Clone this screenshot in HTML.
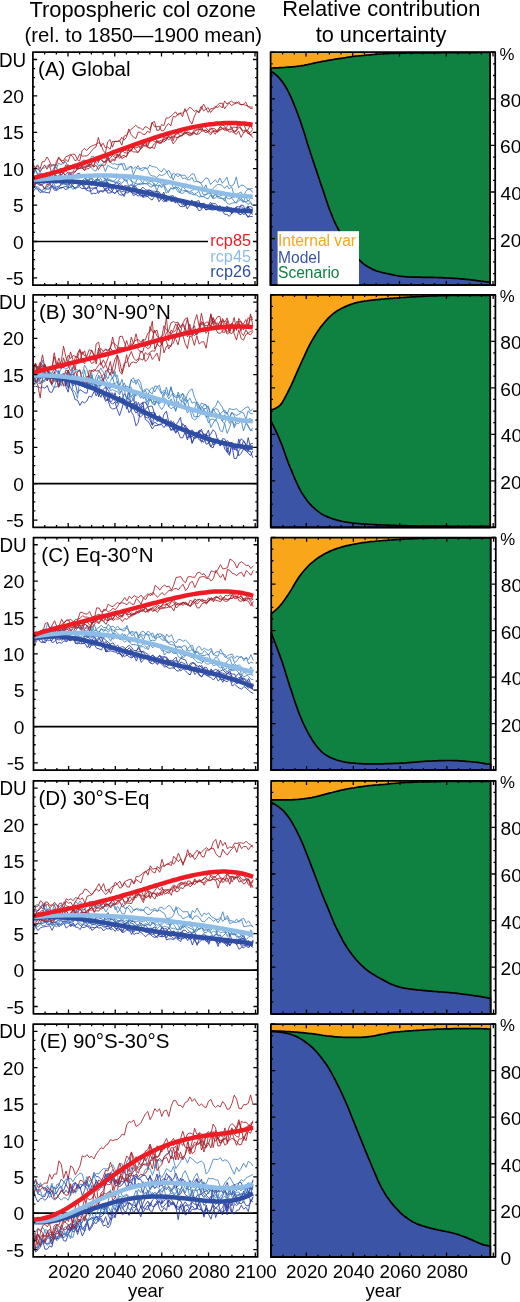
<!DOCTYPE html>
<html lang="en"><head><meta charset="utf-8"><title>Tropospheric column ozone projections</title>
<style>html,body{margin:0;padding:0;background:#fff}svg{display:block}</style></head>
<body>
<svg width="520" height="1302" viewBox="0 0 520 1302" font-family='"Liberation Sans", Arial, Helvetica, sans-serif'>
<rect width="520" height="1302" fill="#fff"/>
<text x="29.46" y="17.3" font-size="21.5" textLength="226.58" lengthAdjust="spacingAndGlyphs" fill="#000">Tropospheric col ozone</text>
<text x="24.58" y="41.9" font-size="20.6" textLength="237.42" lengthAdjust="spacingAndGlyphs" fill="#000">(rel. to 1850—1900 mean)</text>
<text x="282.15" y="15.6" font-size="21.5" textLength="198.19" lengthAdjust="spacingAndGlyphs" fill="#000">Relative contribution</text>
<text x="315.67" y="41.5" font-size="21.5" textLength="130.70" lengthAdjust="spacingAndGlyphs" fill="#000">to uncertainty</text>
<g transform="translate(0,0)">
<line x1="32.9" y1="241.5" x2="208" y2="241.5" stroke="#000" stroke-width="1.7"/>
<path d="M32.9,175.9 L35.3,170.1 L37.6,174.1 L40.0,174.0 L42.3,173.7 L44.6,175.1 L47.0,177.0 L49.3,173.3 L51.6,173.0 L54.0,178.1 L56.3,170.4 L58.6,171.2 L61.0,175.4 L63.3,173.2 L65.7,175.8 L68.0,175.8 L70.3,174.2 L72.7,178.4 L75.0,175.9 L77.3,173.6 L79.7,173.3 L82.0,177.0 L84.4,175.8 L86.7,181.2 L89.0,179.9 L91.4,178.4 L93.7,182.2 L96.0,180.9 L98.4,176.9 L100.7,174.0 L103.1,177.5 L105.4,178.7 L107.7,183.4 L110.1,185.6 L112.4,187.1 L114.8,183.6 L117.1,182.5 L119.4,185.6 L121.8,188.1 L124.1,186.0 L126.4,185.6 L128.8,186.8 L131.1,184.5 L133.4,187.1 L135.8,188.2 L138.1,191.2 L140.5,189.8 L142.8,187.1 L145.1,189.4 L147.5,190.5 L149.8,190.4 L152.1,191.1 L154.5,191.2 L156.8,191.6 L159.2,191.9 L161.5,195.5 L163.8,194.6 L166.2,198.9 L168.5,196.5 L170.8,199.5 L173.2,198.2 L175.5,197.0 L177.9,199.0 L180.2,198.9 L182.5,203.0 L184.9,202.9 L187.2,199.9 L189.6,203.4 L191.9,200.9 L194.2,204.9 L196.6,205.4 L198.9,206.4 L201.2,204.6 L203.6,203.2 L205.9,206.6 L208.2,206.0 L210.6,202.2 L212.9,205.6 L215.3,207.9 L217.6,206.3 L219.9,207.4 L222.3,209.0 L224.6,212.1 L226.9,207.5 L229.3,209.4 L231.6,208.8 L234.0,211.2 L236.3,206.8 L238.6,206.8 L241.0,206.4 L243.3,208.8 L245.7,208.2 L248.0,207.2 L250.3,206.6 L252.7,207.9" fill="none" stroke="#2438A4" stroke-width="0.85" stroke-linejoin="round"/>
<path d="M32.9,178.0 L35.3,178.6 L37.6,179.7 L40.0,180.4 L42.3,177.8 L44.6,178.3 L47.0,182.3 L49.3,179.5 L51.6,176.0 L54.0,177.9 L56.3,182.0 L58.6,179.5 L61.0,176.9 L63.3,177.4 L65.7,179.1 L68.0,174.7 L70.3,173.4 L72.7,177.5 L75.0,176.9 L77.3,177.8 L79.7,177.4 L82.0,175.9 L84.4,177.1 L86.7,179.2 L89.0,181.7 L91.4,183.0 L93.7,181.9 L96.0,179.2 L98.4,180.5 L100.7,181.7 L103.1,181.9 L105.4,182.7 L107.7,182.1 L110.1,185.9 L112.4,189.1 L114.8,187.1 L117.1,188.3 L119.4,183.0 L121.8,185.6 L124.1,186.9 L126.4,190.5 L128.8,187.9 L131.1,189.5 L133.4,186.5 L135.8,186.6 L138.1,190.5 L140.5,189.5 L142.8,196.4 L145.1,194.4 L147.5,190.0 L149.8,190.0 L152.1,191.8 L154.5,193.2 L156.8,197.0 L159.2,198.4 L161.5,195.8 L163.8,192.1 L166.2,200.0 L168.5,196.6 L170.8,196.1 L173.2,195.6 L175.5,199.8 L177.9,200.7 L180.2,200.1 L182.5,202.7 L184.9,204.3 L187.2,204.4 L189.6,203.1 L191.9,202.0 L194.2,203.0 L196.6,203.4 L198.9,205.6 L201.2,206.6 L203.6,203.3 L205.9,205.2 L208.2,206.1 L210.6,204.5 L212.9,203.6 L215.3,203.6 L217.6,205.8 L219.9,207.7 L222.3,207.7 L224.6,208.2 L226.9,206.0 L229.3,207.9 L231.6,207.9 L234.0,209.5 L236.3,207.1 L238.6,214.0 L241.0,210.8 L243.3,209.2 L245.7,212.9 L248.0,206.8 L250.3,210.1 L252.7,211.0" fill="none" stroke="#2438A4" stroke-width="0.85" stroke-linejoin="round"/>
<path d="M32.9,187.5 L35.3,183.1 L37.6,183.8 L40.0,185.7 L42.3,184.5 L44.6,183.0 L47.0,181.4 L49.3,183.0 L51.6,186.1 L54.0,186.1 L56.3,189.9 L58.6,187.6 L61.0,183.7 L63.3,183.2 L65.7,184.3 L68.0,185.2 L70.3,181.3 L72.7,183.1 L75.0,182.3 L77.3,183.3 L79.7,186.0 L82.0,182.1 L84.4,187.2 L86.7,188.7 L89.0,187.7 L91.4,188.2 L93.7,188.1 L96.0,188.4 L98.4,185.2 L100.7,186.5 L103.1,186.4 L105.4,190.9 L107.7,190.8 L110.1,186.8 L112.4,190.9 L114.8,187.1 L117.1,191.1 L119.4,189.7 L121.8,192.0 L124.1,190.7 L126.4,193.0 L128.8,192.6 L131.1,188.6 L133.4,192.2 L135.8,188.3 L138.1,192.9 L140.5,196.2 L142.8,194.8 L145.1,195.8 L147.5,191.7 L149.8,192.8 L152.1,192.8 L154.5,194.4 L156.8,191.2 L159.2,194.2 L161.5,196.1 L163.8,200.0 L166.2,201.7 L168.5,200.2 L170.8,198.3 L173.2,197.9 L175.5,202.6 L177.9,201.2 L180.2,201.9 L182.5,205.3 L184.9,203.1 L187.2,208.9 L189.6,205.4 L191.9,199.9 L194.2,206.2 L196.6,206.2 L198.9,210.7 L201.2,209.9 L203.6,206.6 L205.9,209.9 L208.2,208.9 L210.6,209.6 L212.9,210.2 L215.3,209.4 L217.6,208.7 L219.9,207.1 L222.3,207.7 L224.6,211.2 L226.9,208.1 L229.3,207.7 L231.6,213.9 L234.0,211.0 L236.3,209.9 L238.6,209.4 L241.0,210.2 L243.3,214.5 L245.7,213.6 L248.0,217.3 L250.3,214.3 L252.7,208.5" fill="none" stroke="#2438A4" stroke-width="0.85" stroke-linejoin="round"/>
<path d="M32.9,186.6 L35.3,186.1 L37.6,188.3 L40.0,190.0 L42.3,190.5 L44.6,187.9 L47.0,189.1 L49.3,189.0 L51.6,185.1 L54.0,189.9 L56.3,190.6 L58.6,189.1 L61.0,187.7 L63.3,187.4 L65.7,190.0 L68.0,187.4 L70.3,187.3 L72.7,186.3 L75.0,189.2 L77.3,187.3 L79.7,186.8 L82.0,188.7 L84.4,188.4 L86.7,189.2 L89.0,185.3 L91.4,194.1 L93.7,193.2 L96.0,193.7 L98.4,191.1 L100.7,191.2 L103.1,190.8 L105.4,188.4 L107.7,193.1 L110.1,192.9 L112.4,191.8 L114.8,193.8 L117.1,191.2 L119.4,190.8 L121.8,193.2 L124.1,196.5 L126.4,190.4 L128.8,191.4 L131.1,192.0 L133.4,193.3 L135.8,194.2 L138.1,192.9 L140.5,194.7 L142.8,196.9 L145.1,195.0 L147.5,196.2 L149.8,198.7 L152.1,200.1 L154.5,196.3 L156.8,196.7 L159.2,194.2 L161.5,199.3 L163.8,201.7 L166.2,200.2 L168.5,198.0 L170.8,199.4 L173.2,200.5 L175.5,198.1 L177.9,203.4 L180.2,206.5 L182.5,206.6 L184.9,206.1 L187.2,204.8 L189.6,203.3 L191.9,204.5 L194.2,202.8 L196.6,207.7 L198.9,203.5 L201.2,208.5 L203.6,206.0 L205.9,210.1 L208.2,208.9 L210.6,209.4 L212.9,208.8 L215.3,208.3 L217.6,210.5 L219.9,211.1 L222.3,210.8 L224.6,214.3 L226.9,214.3 L229.3,216.4 L231.6,213.6 L234.0,208.1 L236.3,209.8 L238.6,213.9 L241.0,214.8 L243.3,211.5 L245.7,213.7 L248.0,216.9 L250.3,216.5 L252.7,216.4" fill="none" stroke="#2438A4" stroke-width="0.85" stroke-linejoin="round"/>
<path d="M32.9,192.5 L35.3,188.5 L37.6,189.2 L40.0,192.6 L42.3,191.4 L44.6,192.2 L47.0,192.5 L49.3,193.1 L51.6,186.1 L54.0,188.4 L56.3,187.1 L58.6,186.0 L61.0,188.3 L63.3,187.0 L65.7,186.5 L68.0,187.1 L70.3,183.0 L72.7,185.9 L75.0,187.9 L77.3,186.6 L79.7,183.8 L82.0,184.7 L84.4,188.3 L86.7,190.2 L89.0,191.1 L91.4,190.8 L93.7,188.6 L96.0,187.0 L98.4,193.5 L100.7,190.6 L103.1,192.3 L105.4,189.1 L107.7,187.8 L110.1,191.2 L112.4,191.8 L114.8,193.2 L117.1,190.9 L119.4,194.8 L121.8,195.1 L124.1,194.5 L126.4,190.4 L128.8,186.8 L131.1,191.2 L133.4,195.6 L135.8,194.3 L138.1,196.2 L140.5,194.2 L142.8,197.3 L145.1,196.9 L147.5,196.3 L149.8,195.3 L152.1,196.6 L154.5,194.3 L156.8,196.5 L159.2,201.7 L161.5,197.5 L163.8,199.3 L166.2,201.0 L168.5,197.0 L170.8,201.6 L173.2,201.0 L175.5,202.8 L177.9,199.2 L180.2,202.2 L182.5,202.1 L184.9,205.9 L187.2,201.2 L189.6,205.6 L191.9,202.8 L194.2,201.9 L196.6,201.6 L198.9,200.5 L201.2,207.0 L203.6,205.8 L205.9,206.3 L208.2,206.0 L210.6,204.7 L212.9,206.7 L215.3,209.6 L217.6,209.0 L219.9,205.5 L222.3,210.6 L224.6,209.5 L226.9,211.6 L229.3,207.9 L231.6,212.9 L234.0,211.6 L236.3,210.9 L238.6,210.2 L241.0,205.1 L243.3,205.4 L245.7,211.1 L248.0,205.9 L250.3,211.6 L252.7,214.7" fill="none" stroke="#2438A4" stroke-width="0.85" stroke-linejoin="round"/>
<path d="M32.9,171.9 L35.3,167.4 L37.6,166.3 L40.0,172.8 L42.3,167.9 L44.6,168.1 L47.0,165.6 L49.3,167.5 L51.6,164.6 L54.0,164.5 L56.3,168.8 L58.6,163.2 L61.0,164.6 L63.3,163.5 L65.7,161.7 L68.0,166.8 L70.3,165.9 L72.7,167.4 L75.0,168.0 L77.3,165.0 L79.7,163.9 L82.0,160.9 L84.4,159.8 L86.7,162.9 L89.0,165.9 L91.4,156.4 L93.7,156.2 L96.0,161.9 L98.4,165.7 L100.7,165.5 L103.1,163.6 L105.4,160.9 L107.7,160.5 L110.1,161.8 L112.4,164.0 L114.8,163.6 L117.1,164.8 L119.4,164.3 L121.8,164.6 L124.1,163.3 L126.4,169.1 L128.8,167.1 L131.1,166.5 L133.4,168.6 L135.8,166.9 L138.1,168.9 L140.5,168.7 L142.8,167.8 L145.1,167.7 L147.5,168.7 L149.8,165.0 L152.1,166.5 L154.5,166.9 L156.8,167.5 L159.2,170.3 L161.5,172.0 L163.8,168.4 L166.2,170.7 L168.5,175.3 L170.8,178.2 L173.2,173.2 L175.5,174.5 L177.9,173.6 L180.2,174.9 L182.5,175.3 L184.9,175.2 L187.2,178.3 L189.6,176.5 L191.9,173.8 L194.2,174.1 L196.6,180.8 L198.9,182.2 L201.2,183.0 L203.6,180.9 L205.9,177.8 L208.2,178.6 L210.6,184.5 L212.9,182.1 L215.3,179.8 L217.6,182.7 L219.9,177.9 L222.3,183.3 L224.6,180.6 L226.9,177.1 L229.3,185.5 L231.6,185.9 L234.0,184.0 L236.3,176.9 L238.6,187.8 L241.0,185.2 L243.3,185.3 L245.7,187.3 L248.0,189.1 L250.3,188.9 L252.7,188.3" fill="none" stroke="#3F82C0" stroke-width="0.85" stroke-linejoin="round"/>
<path d="M32.9,176.4 L35.3,169.0 L37.6,174.4 L40.0,174.2 L42.3,174.6 L44.6,173.9 L47.0,172.3 L49.3,173.8 L51.6,172.8 L54.0,167.3 L56.3,167.2 L58.6,170.5 L61.0,168.2 L63.3,171.7 L65.7,170.0 L68.0,173.6 L70.3,173.8 L72.7,173.1 L75.0,167.3 L77.3,168.1 L79.7,167.4 L82.0,168.1 L84.4,167.7 L86.7,167.3 L89.0,166.2 L91.4,167.4 L93.7,170.4 L96.0,171.0 L98.4,166.0 L100.7,164.0 L103.1,165.6 L105.4,171.6 L107.7,165.3 L110.1,166.6 L112.4,168.0 L114.8,168.3 L117.1,169.4 L119.4,164.4 L121.8,163.2 L124.1,169.9 L126.4,169.8 L128.8,168.7 L131.1,166.0 L133.4,174.8 L135.8,169.1 L138.1,165.6 L140.5,169.9 L142.8,170.7 L145.1,167.8 L147.5,169.4 L149.8,174.5 L152.1,175.9 L154.5,176.2 L156.8,177.6 L159.2,174.7 L161.5,175.5 L163.8,174.6 L166.2,173.0 L168.5,170.1 L170.8,173.6 L173.2,180.3 L175.5,174.3 L177.9,176.8 L180.2,174.6 L182.5,178.5 L184.9,178.1 L187.2,179.5 L189.6,180.1 L191.9,177.3 L194.2,181.8 L196.6,181.5 L198.9,181.7 L201.2,183.7 L203.6,189.3 L205.9,184.9 L208.2,192.1 L210.6,191.3 L212.9,188.7 L215.3,186.1 L217.6,184.5 L219.9,184.5 L222.3,185.5 L224.6,188.5 L226.9,185.7 L229.3,189.0 L231.6,186.7 L234.0,194.9 L236.3,194.3 L238.6,193.4 L241.0,191.9 L243.3,197.7 L245.7,191.4 L248.0,189.2 L250.3,189.2 L252.7,192.6" fill="none" stroke="#3F82C0" stroke-width="0.85" stroke-linejoin="round"/>
<path d="M32.9,179.5 L35.3,183.8 L37.6,180.9 L40.0,182.0 L42.3,182.2 L44.6,182.4 L47.0,182.1 L49.3,179.4 L51.6,177.8 L54.0,177.2 L56.3,178.0 L58.6,178.7 L61.0,179.2 L63.3,176.4 L65.7,180.3 L68.0,181.7 L70.3,180.6 L72.7,183.9 L75.0,181.6 L77.3,180.5 L79.7,182.2 L82.0,181.6 L84.4,178.6 L86.7,179.6 L89.0,179.2 L91.4,177.0 L93.7,179.9 L96.0,181.9 L98.4,180.0 L100.7,178.4 L103.1,182.9 L105.4,178.8 L107.7,179.7 L110.1,180.3 L112.4,181.5 L114.8,180.4 L117.1,177.6 L119.4,177.9 L121.8,177.4 L124.1,179.9 L126.4,176.5 L128.8,176.3 L131.1,179.3 L133.4,186.0 L135.8,182.3 L138.1,175.5 L140.5,179.8 L142.8,183.4 L145.1,178.7 L147.5,182.6 L149.8,181.6 L152.1,181.0 L154.5,185.9 L156.8,184.2 L159.2,181.6 L161.5,184.5 L163.8,183.5 L166.2,184.9 L168.5,183.4 L170.8,181.5 L173.2,187.6 L175.5,188.1 L177.9,187.0 L180.2,189.3 L182.5,190.8 L184.9,190.5 L187.2,190.6 L189.6,191.8 L191.9,190.4 L194.2,189.3 L196.6,189.4 L198.9,189.9 L201.2,189.3 L203.6,195.1 L205.9,194.4 L208.2,193.9 L210.6,193.3 L212.9,198.1 L215.3,192.2 L217.6,196.8 L219.9,196.0 L222.3,194.9 L224.6,194.1 L226.9,198.0 L229.3,199.1 L231.6,197.6 L234.0,196.9 L236.3,196.1 L238.6,198.1 L241.0,200.3 L243.3,202.4 L245.7,196.4 L248.0,201.4 L250.3,198.4 L252.7,198.4" fill="none" stroke="#3F82C0" stroke-width="0.85" stroke-linejoin="round"/>
<path d="M32.9,184.6 L35.3,184.1 L37.6,182.4 L40.0,184.9 L42.3,184.5 L44.6,189.4 L47.0,186.3 L49.3,187.4 L51.6,185.9 L54.0,182.2 L56.3,183.5 L58.6,181.6 L61.0,183.7 L63.3,182.8 L65.7,184.2 L68.0,189.2 L70.3,186.5 L72.7,184.6 L75.0,183.0 L77.3,182.7 L79.7,182.8 L82.0,180.4 L84.4,180.3 L86.7,182.4 L89.0,180.2 L91.4,185.7 L93.7,183.5 L96.0,182.6 L98.4,179.1 L100.7,182.0 L103.1,184.9 L105.4,182.2 L107.7,178.0 L110.1,181.0 L112.4,181.7 L114.8,182.1 L117.1,181.8 L119.4,179.0 L121.8,176.8 L124.1,179.5 L126.4,181.7 L128.8,178.2 L131.1,181.1 L133.4,182.2 L135.8,183.6 L138.1,184.1 L140.5,183.2 L142.8,184.3 L145.1,183.3 L147.5,183.9 L149.8,183.3 L152.1,185.4 L154.5,185.9 L156.8,185.4 L159.2,185.8 L161.5,186.2 L163.8,184.3 L166.2,188.9 L168.5,192.5 L170.8,188.0 L173.2,189.1 L175.5,186.3 L177.9,188.9 L180.2,192.4 L182.5,186.5 L184.9,188.9 L187.2,191.9 L189.6,193.8 L191.9,191.8 L194.2,194.3 L196.6,193.1 L198.9,191.3 L201.2,196.8 L203.6,196.5 L205.9,194.9 L208.2,192.2 L210.6,193.3 L212.9,197.0 L215.3,194.2 L217.6,197.6 L219.9,198.5 L222.3,197.9 L224.6,201.2 L226.9,193.3 L229.3,195.3 L231.6,198.2 L234.0,201.0 L236.3,203.3 L238.6,200.8 L241.0,199.5 L243.3,201.6 L245.7,201.9 L248.0,200.4 L250.3,201.3 L252.7,205.5" fill="none" stroke="#3F82C0" stroke-width="0.85" stroke-linejoin="round"/>
<path d="M32.9,187.0 L35.3,187.7 L37.6,186.3 L40.0,188.9 L42.3,192.6 L44.6,191.6 L47.0,187.7 L49.3,182.5 L51.6,180.1 L54.0,183.7 L56.3,188.5 L58.6,187.3 L61.0,185.0 L63.3,184.2 L65.7,184.5 L68.0,181.7 L70.3,185.6 L72.7,189.4 L75.0,187.5 L77.3,187.5 L79.7,179.9 L82.0,182.8 L84.4,186.2 L86.7,182.7 L89.0,180.7 L91.4,182.1 L93.7,182.1 L96.0,180.2 L98.4,180.7 L100.7,183.5 L103.1,181.4 L105.4,180.1 L107.7,180.9 L110.1,180.0 L112.4,180.4 L114.8,182.4 L117.1,182.8 L119.4,181.3 L121.8,183.5 L124.1,180.5 L126.4,179.6 L128.8,186.5 L131.1,184.5 L133.4,185.5 L135.8,185.7 L138.1,184.2 L140.5,184.7 L142.8,183.4 L145.1,183.8 L147.5,184.0 L149.8,186.8 L152.1,187.0 L154.5,183.4 L156.8,191.1 L159.2,184.6 L161.5,187.9 L163.8,185.4 L166.2,193.2 L168.5,191.1 L170.8,188.0 L173.2,189.0 L175.5,187.7 L177.9,191.8 L180.2,192.7 L182.5,193.5 L184.9,191.6 L187.2,191.4 L189.6,193.0 L191.9,194.2 L194.2,194.9 L196.6,194.7 L198.9,197.3 L201.2,196.4 L203.6,196.7 L205.9,198.0 L208.2,198.8 L210.6,194.9 L212.9,198.7 L215.3,197.9 L217.6,195.9 L219.9,196.9 L222.3,199.1 L224.6,197.9 L226.9,203.1 L229.3,204.4 L231.6,203.3 L234.0,202.7 L236.3,202.5 L238.6,198.3 L241.0,197.6 L243.3,201.2 L245.7,201.8 L248.0,204.6 L250.3,202.7 L252.7,205.8" fill="none" stroke="#3F82C0" stroke-width="0.85" stroke-linejoin="round"/>
<path d="M32.9,163.1 L35.3,168.1 L37.6,164.8 L40.0,168.9 L42.3,161.8 L44.6,161.5 L47.0,157.0 L49.3,160.7 L51.6,166.3 L54.0,165.0 L56.3,165.5 L58.6,156.9 L61.0,160.2 L63.3,161.0 L65.7,156.8 L68.0,156.0 L70.3,154.5 L72.7,156.4 L75.0,160.8 L77.3,159.6 L79.7,161.1 L82.0,150.9 L84.4,148.3 L86.7,150.6 L89.0,147.8 L91.4,146.2 L93.7,145.2 L96.0,144.6 L98.4,142.7 L100.7,143.9 L103.1,150.3 L105.4,153.2 L107.7,141.7 L110.1,139.5 L112.4,147.3 L114.8,141.1 L117.1,141.7 L119.4,140.3 L121.8,145.2 L124.1,136.2 L126.4,135.3 L128.8,131.8 L131.1,129.3 L133.4,127.4 L135.8,125.1 L138.1,127.7 L140.5,128.1 L142.8,130.1 L145.1,126.7 L147.5,127.3 L149.8,129.6 L152.1,122.7 L154.5,121.5 L156.8,130.4 L159.2,130.1 L161.5,124.6 L163.8,125.6 L166.2,117.9 L168.5,118.0 L170.8,116.3 L173.2,114.2 L175.5,111.8 L177.9,115.3 L180.2,113.2 L182.5,113.1 L184.9,111.0 L187.2,110.5 L189.6,107.4 L191.9,108.6 L194.2,111.4 L196.6,110.1 L198.9,113.0 L201.2,109.1 L203.6,104.1 L205.9,108.4 L208.2,112.4 L210.6,108.7 L212.9,108.5 L215.3,106.6 L217.6,107.5 L219.9,105.6 L222.3,108.0 L224.6,100.9 L226.9,103.9 L229.3,102.4 L231.6,101.1 L234.0,103.2 L236.3,102.0 L238.6,103.7 L241.0,104.7 L243.3,104.3 L245.7,102.2 L248.0,106.7 L250.3,107.1 L252.7,107.0" fill="none" stroke="#A81C26" stroke-width="0.85" stroke-linejoin="round"/>
<path d="M32.9,173.3 L35.3,167.1 L37.6,169.2 L40.0,170.4 L42.3,168.8 L44.6,164.8 L47.0,169.2 L49.3,164.1 L51.6,173.2 L54.0,170.6 L56.3,161.6 L58.6,158.1 L61.0,161.0 L63.3,163.3 L65.7,159.4 L68.0,161.7 L70.3,155.4 L72.7,154.1 L75.0,154.5 L77.3,159.3 L79.7,154.2 L82.0,156.1 L84.4,156.0 L86.7,155.9 L89.0,154.3 L91.4,151.1 L93.7,148.4 L96.0,146.9 L98.4,137.5 L100.7,146.3 L103.1,143.3 L105.4,147.8 L107.7,146.9 L110.1,149.2 L112.4,141.4 L114.8,141.5 L117.1,141.3 L119.4,141.4 L121.8,137.3 L124.1,140.1 L126.4,137.4 L128.8,128.9 L131.1,134.5 L133.4,137.1 L135.8,138.5 L138.1,132.2 L140.5,132.2 L142.8,134.2 L145.1,134.5 L147.5,131.1 L149.8,132.8 L152.1,122.5 L154.5,126.4 L156.8,126.8 L159.2,126.1 L161.5,130.9 L163.8,130.6 L166.2,126.3 L168.5,123.4 L170.8,125.9 L173.2,116.4 L175.5,117.1 L177.9,114.0 L180.2,113.0 L182.5,116.7 L184.9,108.6 L187.2,113.3 L189.6,120.8 L191.9,124.1 L194.2,116.9 L196.6,111.5 L198.9,112.0 L201.2,106.3 L203.6,110.9 L205.9,109.1 L208.2,107.6 L210.6,112.6 L212.9,109.4 L215.3,108.0 L217.6,104.9 L219.9,103.3 L222.3,103.3 L224.6,108.9 L226.9,105.4 L229.3,103.1 L231.6,105.7 L234.0,104.0 L236.3,103.4 L238.6,101.7 L241.0,104.9 L243.3,104.5 L245.7,105.3 L248.0,106.1 L250.3,108.6 L252.7,108.6" fill="none" stroke="#A81C26" stroke-width="0.85" stroke-linejoin="round"/>
<path d="M32.9,183.3 L35.3,180.7 L37.6,178.3 L40.0,177.4 L42.3,176.4 L44.6,177.6 L47.0,174.3 L49.3,176.9 L51.6,174.5 L54.0,174.2 L56.3,176.1 L58.6,176.2 L61.0,172.5 L63.3,172.5 L65.7,171.5 L68.0,164.6 L70.3,167.5 L72.7,168.8 L75.0,167.3 L77.3,169.3 L79.7,168.4 L82.0,166.3 L84.4,167.8 L86.7,166.0 L89.0,165.3 L91.4,163.8 L93.7,166.9 L96.0,159.6 L98.4,160.9 L100.7,159.3 L103.1,161.7 L105.4,162.4 L107.7,159.2 L110.1,158.4 L112.4,155.4 L114.8,157.4 L117.1,157.6 L119.4,154.1 L121.8,151.7 L124.1,150.0 L126.4,150.9 L128.8,150.0 L131.1,151.4 L133.4,146.7 L135.8,145.1 L138.1,144.1 L140.5,149.2 L142.8,144.7 L145.1,146.4 L147.5,143.6 L149.8,142.4 L152.1,139.8 L154.5,141.6 L156.8,141.9 L159.2,143.0 L161.5,143.2 L163.8,138.9 L166.2,140.4 L168.5,136.9 L170.8,137.7 L173.2,137.9 L175.5,134.2 L177.9,132.9 L180.2,136.1 L182.5,134.9 L184.9,133.8 L187.2,131.6 L189.6,133.7 L191.9,133.3 L194.2,132.2 L196.6,129.8 L198.9,128.3 L201.2,130.8 L203.6,126.2 L205.9,127.5 L208.2,130.4 L210.6,132.7 L212.9,130.9 L215.3,134.3 L217.6,129.6 L219.9,127.3 L222.3,125.0 L224.6,125.9 L226.9,131.0 L229.3,129.4 L231.6,126.8 L234.0,132.3 L236.3,131.1 L238.6,127.6 L241.0,128.0 L243.3,132.7 L245.7,131.1 L248.0,129.7 L250.3,125.0 L252.7,129.4" fill="none" stroke="#A81C26" stroke-width="0.85" stroke-linejoin="round"/>
<path d="M32.9,186.5 L35.3,183.4 L37.6,182.4 L40.0,181.2 L42.3,178.4 L44.6,180.5 L47.0,183.4 L49.3,180.8 L51.6,179.6 L54.0,176.6 L56.3,175.5 L58.6,178.1 L61.0,175.1 L63.3,173.2 L65.7,174.7 L68.0,172.1 L70.3,172.5 L72.7,172.0 L75.0,172.0 L77.3,169.4 L79.7,163.5 L82.0,167.0 L84.4,170.4 L86.7,168.9 L89.0,168.6 L91.4,165.9 L93.7,165.6 L96.0,159.0 L98.4,160.4 L100.7,157.7 L103.1,161.9 L105.4,161.5 L107.7,155.8 L110.1,161.7 L112.4,158.9 L114.8,161.1 L117.1,154.4 L119.4,158.3 L121.8,156.4 L124.1,155.0 L126.4,157.2 L128.8,148.2 L131.1,150.7 L133.4,146.9 L135.8,150.3 L138.1,152.4 L140.5,148.8 L142.8,147.2 L145.1,140.2 L147.5,146.2 L149.8,148.6 L152.1,146.9 L154.5,143.6 L156.8,141.6 L159.2,143.3 L161.5,142.4 L163.8,139.7 L166.2,137.2 L168.5,139.7 L170.8,138.4 L173.2,143.8 L175.5,141.1 L177.9,136.8 L180.2,136.1 L182.5,135.8 L184.9,131.4 L187.2,133.9 L189.6,136.0 L191.9,133.5 L194.2,132.4 L196.6,134.7 L198.9,130.5 L201.2,127.4 L203.6,131.2 L205.9,132.7 L208.2,131.3 L210.6,127.7 L212.9,130.4 L215.3,131.5 L217.6,131.4 L219.9,129.4 L222.3,128.8 L224.6,129.4 L226.9,126.6 L229.3,123.4 L231.6,128.7 L234.0,126.8 L236.3,128.0 L238.6,122.5 L241.0,129.5 L243.3,130.5 L245.7,130.1 L248.0,133.5 L250.3,132.2 L252.7,130.0" fill="none" stroke="#A81C26" stroke-width="0.85" stroke-linejoin="round"/>
<path d="M32.9,189.1 L35.3,185.1 L37.6,180.7 L40.0,184.2 L42.3,185.4 L44.6,188.9 L47.0,184.1 L49.3,185.5 L51.6,180.7 L54.0,176.3 L56.3,176.9 L58.6,179.5 L61.0,176.6 L63.3,177.6 L65.7,178.8 L68.0,177.3 L70.3,174.6 L72.7,174.6 L75.0,172.1 L77.3,167.2 L79.7,168.5 L82.0,168.0 L84.4,170.4 L86.7,166.1 L89.0,166.4 L91.4,164.4 L93.7,167.2 L96.0,165.2 L98.4,169.6 L100.7,166.0 L103.1,165.3 L105.4,164.9 L107.7,158.2 L110.1,162.7 L112.4,160.4 L114.8,159.1 L117.1,156.6 L119.4,154.2 L121.8,158.6 L124.1,157.0 L126.4,156.3 L128.8,152.4 L131.1,150.1 L133.4,151.8 L135.8,152.0 L138.1,152.5 L140.5,149.1 L142.8,144.6 L145.1,145.5 L147.5,147.6 L149.8,148.0 L152.1,147.3 L154.5,148.6 L156.8,141.1 L159.2,141.9 L161.5,142.6 L163.8,136.7 L166.2,138.8 L168.5,136.2 L170.8,137.6 L173.2,135.8 L175.5,137.0 L177.9,138.0 L180.2,136.1 L182.5,134.5 L184.9,132.8 L187.2,133.9 L189.6,134.9 L191.9,135.1 L194.2,133.4 L196.6,134.3 L198.9,133.9 L201.2,131.7 L203.6,130.7 L205.9,130.3 L208.2,132.7 L210.6,134.8 L212.9,131.5 L215.3,130.8 L217.6,131.5 L219.9,130.4 L222.3,128.6 L224.6,130.3 L226.9,129.5 L229.3,132.2 L231.6,131.5 L234.0,132.6 L236.3,134.4 L238.6,131.0 L241.0,137.3 L243.3,133.3 L245.7,130.5 L248.0,130.7 L250.3,135.3 L252.7,133.1" fill="none" stroke="#A81C26" stroke-width="0.85" stroke-linejoin="round"/>
<path d="M32.9,183.5 L35.3,180.9 L37.6,175.9 L40.0,176.8 L42.3,174.5 L44.6,178.3 L47.0,181.2 L49.3,178.8 L51.6,173.2 L54.0,171.8 L56.3,170.7 L58.6,172.5 L61.0,172.5 L63.3,172.2 L65.7,164.9 L68.0,168.3 L70.3,165.2 L72.7,168.0 L75.0,164.9 L77.3,168.9 L79.7,168.3 L82.0,165.7 L84.4,166.4 L86.7,165.7 L89.0,164.4 L91.4,164.3 L93.7,159.2 L96.0,158.0 L98.4,162.6 L100.7,156.6 L103.1,158.1 L105.4,158.0 L107.7,157.7 L110.1,154.7 L112.4,153.6 L114.8,155.4 L117.1,154.1 L119.4,156.2 L121.8,149.3 L124.1,152.6 L126.4,153.1 L128.8,152.3 L131.1,149.6 L133.4,146.9 L135.8,148.0 L138.1,146.9 L140.5,146.9 L142.8,142.7 L145.1,143.3 L147.5,147.1 L149.8,140.8 L152.1,140.9 L154.5,137.0 L156.8,140.8 L159.2,141.2 L161.5,140.2 L163.8,142.1 L166.2,139.9 L168.5,135.3 L170.8,134.7 L173.2,140.8 L175.5,134.2 L177.9,133.8 L180.2,132.3 L182.5,133.2 L184.9,132.7 L187.2,132.6 L189.6,132.2 L191.9,134.1 L194.2,129.9 L196.6,130.1 L198.9,129.5 L201.2,129.2 L203.6,130.3 L205.9,129.9 L208.2,132.4 L210.6,129.4 L212.9,128.4 L215.3,129.1 L217.6,132.4 L219.9,126.6 L222.3,128.1 L224.6,128.2 L226.9,128.9 L229.3,129.7 L231.6,129.6 L234.0,131.2 L236.3,130.6 L238.6,124.7 L241.0,125.1 L243.3,123.6 L245.7,129.0 L248.0,133.7 L250.3,134.2 L252.7,137.5" fill="none" stroke="#A81C26" stroke-width="0.85" stroke-linejoin="round"/>
<path d="M33.3,181.5 L36.1,181.4 L38.9,181.3 L41.6,181.2 L44.4,181.1 L47.2,181.1 L50.0,181.0 L52.7,181.0 L55.5,181.1 L58.3,181.1 L61.1,181.2 L63.8,181.2 L66.6,181.3 L69.4,181.5 L72.2,181.6 L74.9,181.8 L77.7,182.0 L80.5,182.2 L83.3,182.4 L86.0,182.7 L88.8,183.0 L91.6,183.3 L94.4,183.6 L97.1,184.0 L99.9,184.3 L102.7,184.7 L105.5,185.1 L108.3,185.5 L111.0,186.0 L113.8,186.4 L116.6,186.9 L119.4,187.4 L122.1,187.9 L124.9,188.4 L127.7,188.9 L130.5,189.5 L133.2,190.0 L136.0,190.6 L138.8,191.2 L141.6,191.8 L144.3,192.4 L147.1,193.0 L149.9,193.6 L152.7,194.3 L155.4,194.9 L158.2,195.5 L161.0,196.2 L163.8,196.8 L166.5,197.5 L169.3,198.1 L172.1,198.8 L174.9,199.4 L177.6,200.1 L180.4,200.7 L183.2,201.3 L186.0,202.0 L188.8,202.6 L191.5,203.2 L194.3,203.8 L197.1,204.4 L199.9,205.0 L202.6,205.5 L205.4,206.1 L208.2,206.6 L211.0,207.1 L213.7,207.5 L216.5,208.0 L219.3,208.4 L222.1,208.8 L224.8,209.2 L227.6,209.6 L230.4,209.9 L233.2,210.1 L235.9,210.4 L238.7,210.6 L241.5,210.7 L244.3,210.9 L247.0,210.9 L249.8,211.0 L252.6,211.0" fill="none" stroke="#2E4EA3" stroke-width="4.5" stroke-linejoin="round"/>
<path d="M33.3,179.7 L36.1,179.6 L38.9,179.4 L41.6,179.2 L44.4,179.0 L47.2,178.8 L50.0,178.6 L52.7,178.3 L55.5,178.1 L58.3,177.9 L61.1,177.7 L63.8,177.4 L66.6,177.2 L69.4,177.0 L72.2,176.8 L74.9,176.6 L77.7,176.4 L80.5,176.2 L83.3,176.1 L86.0,175.9 L88.8,175.8 L91.6,175.7 L94.4,175.6 L97.1,175.6 L99.9,175.5 L102.7,175.5 L105.5,175.5 L108.3,175.5 L111.0,175.6 L113.8,175.7 L116.6,175.8 L119.4,175.9 L122.1,176.0 L124.9,176.2 L127.7,176.4 L130.5,176.6 L133.2,176.9 L136.0,177.2 L138.8,177.5 L141.6,177.8 L144.3,178.2 L147.1,178.5 L149.9,178.9 L152.7,179.4 L155.4,179.8 L158.2,180.3 L161.0,180.7 L163.8,181.3 L166.5,181.8 L169.3,182.3 L172.1,182.9 L174.9,183.4 L177.6,184.0 L180.4,184.6 L183.2,185.2 L186.0,185.8 L188.8,186.4 L191.5,187.0 L194.3,187.6 L197.1,188.2 L199.9,188.8 L202.6,189.4 L205.4,190.0 L208.2,190.6 L211.0,191.2 L213.7,191.8 L216.5,192.3 L219.3,192.8 L222.1,193.3 L224.8,193.8 L227.6,194.2 L230.4,194.7 L233.2,195.0 L235.9,195.4 L238.7,195.7 L241.5,195.9 L244.3,196.1 L247.0,196.3 L249.8,196.4 L252.6,196.4" fill="none" stroke="#8DBDE6" stroke-width="4.5" stroke-linejoin="round"/>
<path d="M33.3,178.0 L36.1,177.3 L38.9,176.6 L41.6,175.9 L44.4,175.2 L47.2,174.5 L50.0,173.7 L52.7,172.9 L55.5,172.1 L58.3,171.3 L61.1,170.4 L63.8,169.6 L66.6,168.7 L69.4,167.8 L72.2,166.9 L74.9,166.0 L77.7,165.1 L80.5,164.1 L83.3,163.2 L86.0,162.2 L88.8,161.3 L91.6,160.3 L94.4,159.3 L97.1,158.3 L99.9,157.3 L102.7,156.3 L105.5,155.3 L108.3,154.3 L111.0,153.3 L113.8,152.2 L116.6,151.2 L119.4,150.2 L122.1,149.2 L124.9,148.2 L127.7,147.2 L130.5,146.2 L133.2,145.2 L136.0,144.2 L138.8,143.2 L141.6,142.2 L144.3,141.2 L147.1,140.3 L149.9,139.4 L152.7,138.4 L155.4,137.5 L158.2,136.6 L161.0,135.7 L163.8,134.9 L166.5,134.0 L169.3,133.2 L172.1,132.4 L174.9,131.6 L177.6,130.9 L180.4,130.1 L183.2,129.4 L186.0,128.8 L188.8,128.1 L191.5,127.5 L194.3,126.9 L197.1,126.4 L199.9,125.9 L202.6,125.4 L205.4,124.9 L208.2,124.6 L211.0,124.2 L213.7,123.9 L216.5,123.6 L219.3,123.4 L222.1,123.2 L224.8,123.1 L227.6,123.0 L230.4,123.0 L233.2,123.0 L235.9,123.1 L238.7,123.2 L241.5,123.4 L244.3,123.6 L247.0,123.9 L249.8,124.3 L252.6,124.7" fill="none" stroke="#ED1C24" stroke-width="4.5" stroke-linejoin="round"/>
<path d="M44.62,285.2v-2.2M44.62,52.2v2.2M56.31,285.2v-2.2M56.31,52.2v2.2M68.00,285.2v-4.3M68.00,52.2v4.3M79.69,285.2v-2.2M79.69,52.2v2.2M91.38,285.2v-2.2M91.38,52.2v2.2M103.06,285.2v-2.2M103.06,52.2v2.2M114.75,285.2v-4.3M114.75,52.2v4.3M126.44,285.2v-2.2M126.44,52.2v2.2M138.12,285.2v-2.2M138.12,52.2v2.2M149.81,285.2v-2.2M149.81,52.2v2.2M161.50,285.2v-4.3M161.50,52.2v4.3M173.19,285.2v-2.2M173.19,52.2v2.2M184.88,285.2v-2.2M184.88,52.2v2.2M196.56,285.2v-2.2M196.56,52.2v2.2M208.25,285.2v-4.3M208.25,52.2v4.3M219.94,285.2v-2.2M219.94,52.2v2.2M231.62,285.2v-2.2M231.62,52.2v2.2M243.31,285.2v-2.2M243.31,52.2v2.2M255.00,285.2v-4.3M255.00,52.2v4.3M32.9,277.92h4.3M257.3,277.92h-4.3M32.9,268.82h2.2M257.3,268.82h-2.2M32.9,259.72h2.2M257.3,259.72h-2.2M32.9,250.61h2.2M257.3,250.61h-2.2M32.9,241.51h4.3M257.3,241.51h-4.3M32.9,232.41h2.2M257.3,232.41h-2.2M32.9,223.31h2.2M257.3,223.31h-2.2M32.9,214.21h2.2M257.3,214.21h-2.2M32.9,205.11h4.3M257.3,205.11h-4.3M32.9,196.00h2.2M257.3,196.00h-2.2M32.9,186.90h2.2M257.3,186.90h-2.2M32.9,177.80h2.2M257.3,177.80h-2.2M32.9,168.70h4.3M257.3,168.70h-4.3M32.9,159.60h2.2M257.3,159.60h-2.2M32.9,150.50h2.2M257.3,150.50h-2.2M32.9,141.40h2.2M257.3,141.40h-2.2M32.9,132.29h4.3M257.3,132.29h-4.3M32.9,123.19h2.2M257.3,123.19h-2.2M32.9,114.09h2.2M257.3,114.09h-2.2M32.9,104.99h2.2M257.3,104.99h-2.2M32.9,95.89h4.3M257.3,95.89h-4.3M32.9,86.79h2.2M257.3,86.79h-2.2M32.9,77.68h2.2M257.3,77.68h-2.2M32.9,68.58h2.2M257.3,68.58h-2.2M32.9,59.48h4.3M257.3,59.48h-4.3" stroke="#000" stroke-width="1.3" fill="none"/>
<rect x="32.9" y="52.2" width="224.4" height="233.0" fill="none" stroke="#000" stroke-width="1.75" stroke-linejoin="round"/>
<text font-size="18.5" fill="#000"><tspan x="6.32" y="284.9" textLength="6.74" lengthAdjust="spacingAndGlyphs">−</tspan><tspan x="13.11" y="284.9" textLength="10.68" lengthAdjust="spacingAndGlyphs">5</tspan></text>
<text x="13.11" y="248.5" font-size="18.5" textLength="10.68" lengthAdjust="spacingAndGlyphs" fill="#000">0</text>
<text x="13.11" y="212.1" font-size="18.5" textLength="10.68" lengthAdjust="spacingAndGlyphs" fill="#000">5</text>
<text x="2.46" y="175.7" font-size="18.5" textLength="21.36" lengthAdjust="spacingAndGlyphs" fill="#000">10</text>
<text x="2.46" y="139.3" font-size="18.5" textLength="21.36" lengthAdjust="spacingAndGlyphs" fill="#000">15</text>
<text x="2.46" y="102.9" font-size="18.5" textLength="21.36" lengthAdjust="spacingAndGlyphs" fill="#000">20</text>
<text x="-1.11" y="66.5" font-size="19.4" textLength="27.20" lengthAdjust="spacingAndGlyphs" fill="#000">DU</text>
<text x="38.07" y="76.4" font-size="19.4" textLength="92.51" lengthAdjust="spacingAndGlyphs" fill="#000">(A) Global</text>
</g>
<g transform="translate(0,0)">
<rect x="270.6" y="52.2" width="219.4" height="233.0" fill="#FAA61A"/>
<path d="M270.8,68.0 L272.6,68.0 L274.5,67.9 L276.3,67.9 L278.2,67.8 L280.0,67.7 L281.9,67.6 L283.7,67.5 L285.5,67.3 L287.4,67.2 L289.2,67.1 L291.1,66.9 L292.9,66.8 L294.7,66.6 L296.6,66.4 L298.4,66.1 L300.3,65.9 L302.1,65.6 L304.0,65.3 L305.8,64.9 L307.6,64.6 L309.5,64.2 L311.3,63.8 L313.2,63.3 L315.0,62.9 L316.9,62.5 L318.7,62.1 L320.5,61.8 L322.4,61.4 L324.2,61.1 L326.1,60.8 L327.9,60.4 L329.7,60.1 L331.6,59.8 L333.4,59.5 L335.3,59.2 L337.1,58.9 L339.0,58.6 L340.8,58.3 L342.6,58.1 L344.5,57.8 L346.3,57.5 L348.2,57.2 L350.0,57.0 L351.8,56.7 L353.7,56.5 L355.5,56.2 L357.4,56.0 L359.2,55.8 L361.1,55.7 L362.9,55.5 L364.7,55.3 L366.6,55.1 L368.4,55.0 L370.3,54.8 L372.1,54.6 L374.0,54.5 L375.8,54.3 L377.6,54.2 L379.5,54.1 L381.3,54.0 L383.2,53.8 L385.0,53.7 L386.8,53.6 L388.7,53.5 L390.5,53.5 L392.4,53.4 L394.2,53.3 L396.1,53.2 L397.9,53.2 L399.7,53.2 L401.6,53.1 L403.4,53.1 L405.3,53.1 L407.1,53.0 L409.0,53.0 L410.8,53.0 L412.6,53.0 L414.5,53.0 L416.3,52.9 L418.2,52.9 L420.0,52.9 L421.8,52.9 L423.7,52.9 L425.5,52.9 L427.4,52.8 L429.2,52.8 L431.1,52.8 L432.9,52.8 L434.7,52.8 L436.6,52.8 L438.4,52.8 L440.3,52.8 L442.1,52.7 L443.9,52.7 L445.8,52.7 L447.6,52.7 L449.5,52.7 L451.3,52.7 L453.2,52.7 L455.0,52.7 L456.8,52.7 L458.7,52.7 L460.5,52.6 L462.4,52.6 L464.2,52.6 L466.1,52.6 L467.9,52.6 L469.7,52.6 L471.6,52.6 L473.4,52.6 L475.3,52.6 L477.1,52.6 L478.9,52.5 L480.8,52.5 L482.6,52.5 L484.5,52.5 L486.3,52.5 L488.2,52.5 L490.0,52.5 L490.0,285.2 L270.6,285.2 Z" fill="#0F8242" stroke="#000" stroke-width="1.7" stroke-linejoin="round"/>
<path d="M270.8,71.2 L272.6,72.3 L274.5,73.7 L276.3,75.2 L278.2,76.9 L280.0,78.9 L281.9,81.1 L283.7,83.7 L285.5,86.5 L287.4,89.8 L289.2,93.4 L291.1,97.3 L292.9,101.6 L294.7,106.1 L296.6,110.9 L298.4,115.8 L300.3,121.0 L302.1,126.4 L304.0,132.0 L305.8,138.0 L307.6,144.0 L309.5,149.8 L311.3,155.4 L313.2,161.0 L315.0,166.5 L316.9,172.0 L318.7,177.4 L320.5,182.9 L322.4,188.4 L324.2,194.0 L326.1,199.6 L327.9,204.9 L329.7,209.9 L331.6,214.8 L333.4,219.3 L335.3,223.3 L337.1,227.0 L339.0,230.5 L340.8,234.0 L342.6,237.3 L344.5,240.5 L346.3,243.5 L348.2,246.5 L350.0,249.3 L351.8,251.8 L353.7,254.1 L355.5,256.2 L357.4,258.1 L359.2,260.0 L361.1,261.7 L362.9,263.4 L364.7,264.8 L366.6,266.0 L368.4,267.1 L370.3,268.1 L372.1,269.1 L374.0,269.9 L375.8,270.7 L377.6,271.3 L379.5,271.8 L381.3,272.3 L383.2,272.8 L385.0,273.2 L386.8,273.5 L388.7,273.9 L390.5,274.3 L392.4,274.7 L394.2,275.2 L396.1,275.5 L397.9,275.8 L399.7,276.1 L401.6,276.3 L403.4,276.5 L405.3,276.7 L407.1,276.8 L409.0,277.0 L410.8,277.0 L412.6,277.1 L414.5,277.1 L416.3,277.2 L418.2,277.2 L420.0,277.2 L421.8,277.3 L423.7,277.3 L425.5,277.3 L427.4,277.3 L429.2,277.4 L431.1,277.4 L432.9,277.4 L434.7,277.5 L436.6,277.5 L438.4,277.6 L440.3,277.7 L442.1,277.7 L443.9,277.8 L445.8,277.9 L447.6,278.0 L449.5,278.1 L451.3,278.2 L453.2,278.3 L455.0,278.4 L456.8,278.5 L458.7,278.7 L460.5,278.8 L462.4,278.9 L464.2,279.1 L466.1,279.3 L467.9,279.5 L469.7,279.7 L471.6,279.9 L473.4,280.1 L475.3,280.3 L477.1,280.6 L478.9,280.8 L480.8,281.1 L482.6,281.3 L484.5,281.6 L486.3,281.9 L488.2,282.2 L490.0,282.5 L490.0,285.2 L270.6,285.2 Z" fill="#3B54A5" stroke="#000" stroke-width="1.7" stroke-linejoin="round"/>
<line x1="490.4" y1="52.2" x2="490.4" y2="285.2" stroke="#000" stroke-width="0.9"/>
<path d="M282.62,285.2v-2.2M282.62,52.2v2.2M294.31,285.2v-2.2M294.31,52.2v2.2M306.00,285.2v-4.3M306.00,52.2v4.3M317.69,285.2v-2.2M317.69,52.2v2.2M329.38,285.2v-2.2M329.38,52.2v2.2M341.06,285.2v-2.2M341.06,52.2v2.2M352.75,285.2v-4.3M352.75,52.2v4.3M364.44,285.2v-2.2M364.44,52.2v2.2M376.12,285.2v-2.2M376.12,52.2v2.2M387.81,285.2v-2.2M387.81,52.2v2.2M399.50,285.2v-4.3M399.50,52.2v4.3M411.19,285.2v-2.2M411.19,52.2v2.2M422.88,285.2v-2.2M422.88,52.2v2.2M434.56,285.2v-2.2M434.56,52.2v2.2M446.25,285.2v-4.3M446.25,52.2v4.3M457.94,285.2v-2.2M457.94,52.2v2.2M469.62,285.2v-2.2M469.62,52.2v2.2M481.31,285.2v-2.2M481.31,52.2v2.2M493.00,285.2v-4.3M493.00,52.2v4.3M270.6,285.20h4.3M495.2,285.20h-4.3M270.6,273.55h2.2M495.2,273.55h-2.2M270.6,261.90h2.2M495.2,261.90h-2.2M270.6,250.25h2.2M495.2,250.25h-2.2M270.6,238.60h4.3M495.2,238.60h-4.3M270.6,226.95h2.2M495.2,226.95h-2.2M270.6,215.30h2.2M495.2,215.30h-2.2M270.6,203.65h2.2M495.2,203.65h-2.2M270.6,192.00h4.3M495.2,192.00h-4.3M270.6,180.35h2.2M495.2,180.35h-2.2M270.6,168.70h2.2M495.2,168.70h-2.2M270.6,157.05h2.2M495.2,157.05h-2.2M270.6,145.40h4.3M495.2,145.40h-4.3M270.6,133.75h2.2M495.2,133.75h-2.2M270.6,122.10h2.2M495.2,122.10h-2.2M270.6,110.45h2.2M495.2,110.45h-2.2M270.6,98.80h4.3M495.2,98.80h-4.3M270.6,87.15h2.2M495.2,87.15h-2.2M270.6,75.50h2.2M495.2,75.50h-2.2M270.6,63.85h2.2M495.2,63.85h-2.2M270.6,52.20h4.3M495.2,52.20h-4.3" stroke="#000" stroke-width="1.3" fill="none"/>
<rect x="277.6" y="231.2" width="81.4" height="54.0" fill="#fff"/>
<text x="278.0" y="245.9" font-size="15.6" fill="#FAA61A">Internal var</text>
<text x="278.0" y="262.5" font-size="15.6" fill="#3B54A5">Model</text>
<text x="278.0" y="278.1" font-size="15.6" fill="#0F8242">Scenario</text>
<rect x="270.6" y="52.2" width="224.6" height="233.0" fill="none" stroke="#000" stroke-width="1.75" stroke-linejoin="round"/>
<text x="500.04" y="246.6" font-size="18.3" textLength="21.36" lengthAdjust="spacingAndGlyphs" fill="#000">20</text>
<text x="500.52" y="200.0" font-size="18.3" textLength="21.36" lengthAdjust="spacingAndGlyphs" fill="#000">40</text>
<text x="500.04" y="153.4" font-size="18.3" textLength="21.36" lengthAdjust="spacingAndGlyphs" fill="#000">60</text>
<text x="500.14" y="106.8" font-size="18.3" textLength="21.36" lengthAdjust="spacingAndGlyphs" fill="#000">80</text>
<text x="499.6" y="59.6" font-size="16.8" fill="#000">%</text>
</g>
<g transform="translate(0.2,0)">
<line x1="32.9" y1="483.7" x2="257.3" y2="483.7" stroke="#000" stroke-width="1.7"/>
<path d="M32.9,366.8 L35.3,366.1 L37.6,369.4 L40.0,369.3 L42.3,369.4 L44.6,371.7 L47.0,368.9 L49.3,375.9 L51.6,375.7 L54.0,374.7 L56.3,381.5 L58.6,380.9 L61.0,374.7 L63.3,373.7 L65.7,386.1 L68.0,375.6 L70.3,375.3 L72.7,374.0 L75.0,377.8 L77.3,376.6 L79.7,385.0 L82.0,383.5 L84.4,387.3 L86.7,386.8 L89.0,379.9 L91.4,376.5 L93.7,383.1 L96.0,387.9 L98.4,384.7 L100.7,385.9 L103.1,380.6 L105.4,385.4 L107.7,400.5 L110.1,395.4 L112.4,396.3 L114.8,399.4 L117.1,397.1 L119.4,397.5 L121.8,400.2 L124.1,393.7 L126.4,397.5 L128.8,399.3 L131.1,401.7 L133.4,398.6 L135.8,408.7 L138.1,402.4 L140.5,407.6 L142.8,402.4 L145.1,402.0 L147.5,406.6 L149.8,413.0 L152.1,412.5 L154.5,412.8 L156.8,421.5 L159.2,420.0 L161.5,421.9 L163.8,414.2 L166.2,411.2 L168.5,421.6 L170.8,424.6 L173.2,429.7 L175.5,425.0 L177.9,422.0 L180.2,417.4 L182.5,430.2 L184.9,425.0 L187.2,428.8 L189.6,433.1 L191.9,433.3 L194.2,435.9 L196.6,431.9 L198.9,433.3 L201.2,429.1 L203.6,435.8 L205.9,444.2 L208.2,443.4 L210.6,437.9 L212.9,444.6 L215.3,444.0 L217.6,438.6 L219.9,445.7 L222.3,438.6 L224.6,439.1 L226.9,443.6 L229.3,442.9 L231.6,445.0 L234.0,445.5 L236.3,445.6 L238.6,444.4 L241.0,444.8 L243.3,447.9 L245.7,450.1 L248.0,437.6 L250.3,447.8 L252.7,446.9" fill="none" stroke="#2438A4" stroke-width="0.85" stroke-linejoin="round"/>
<path d="M32.9,370.7 L35.3,371.5 L37.6,377.6 L40.0,367.5 L42.3,365.6 L44.6,374.1 L47.0,380.8 L49.3,374.9 L51.6,376.8 L54.0,378.1 L56.3,381.0 L58.6,381.3 L61.0,378.3 L63.3,374.6 L65.7,386.8 L68.0,392.2 L70.3,379.7 L72.7,384.3 L75.0,379.5 L77.3,381.1 L79.7,377.2 L82.0,378.0 L84.4,384.0 L86.7,385.9 L89.0,385.0 L91.4,383.5 L93.7,389.6 L96.0,396.0 L98.4,391.6 L100.7,391.5 L103.1,392.7 L105.4,397.5 L107.7,392.6 L110.1,402.1 L112.4,400.2 L114.8,392.7 L117.1,401.7 L119.4,398.5 L121.8,398.2 L124.1,398.9 L126.4,409.1 L128.8,401.3 L131.1,403.5 L133.4,403.4 L135.8,405.0 L138.1,407.3 L140.5,403.8 L142.8,402.6 L145.1,417.3 L147.5,417.9 L149.8,416.1 L152.1,425.1 L154.5,412.8 L156.8,419.6 L159.2,416.6 L161.5,418.0 L163.8,421.0 L166.2,426.1 L168.5,425.6 L170.8,424.2 L173.2,421.5 L175.5,425.7 L177.9,428.5 L180.2,429.4 L182.5,423.6 L184.9,426.9 L187.2,432.8 L189.6,437.7 L191.9,436.1 L194.2,438.5 L196.6,437.6 L198.9,430.2 L201.2,431.5 L203.6,434.4 L205.9,435.1 L208.2,430.1 L210.6,441.5 L212.9,438.6 L215.3,441.0 L217.6,440.7 L219.9,441.3 L222.3,443.6 L224.6,441.0 L226.9,452.3 L229.3,445.4 L231.6,442.0 L234.0,448.4 L236.3,450.7 L238.6,439.1 L241.0,448.1 L243.3,448.7 L245.7,450.8 L248.0,451.0 L250.3,451.4 L252.7,457.9" fill="none" stroke="#2438A4" stroke-width="0.85" stroke-linejoin="round"/>
<path d="M32.9,369.2 L35.3,382.6 L37.6,378.6 L40.0,379.4 L42.3,373.5 L44.6,374.7 L47.0,373.3 L49.3,372.9 L51.6,374.4 L54.0,378.6 L56.3,376.3 L58.6,386.7 L61.0,379.5 L63.3,378.4 L65.7,380.3 L68.0,388.3 L70.3,379.6 L72.7,386.2 L75.0,383.0 L77.3,393.3 L79.7,389.6 L82.0,391.1 L84.4,392.7 L86.7,393.3 L89.0,383.5 L91.4,389.1 L93.7,389.7 L96.0,382.8 L98.4,396.9 L100.7,389.0 L103.1,395.5 L105.4,399.3 L107.7,400.2 L110.1,407.3 L112.4,409.0 L114.8,408.5 L117.1,406.6 L119.4,401.3 L121.8,398.9 L124.1,405.2 L126.4,404.7 L128.8,405.0 L131.1,408.8 L133.4,408.8 L135.8,413.1 L138.1,410.2 L140.5,413.5 L142.8,414.1 L145.1,414.2 L147.5,415.4 L149.8,420.3 L152.1,425.3 L154.5,422.0 L156.8,424.0 L159.2,425.1 L161.5,424.4 L163.8,427.6 L166.2,424.2 L168.5,424.2 L170.8,430.5 L173.2,427.6 L175.5,433.2 L177.9,428.3 L180.2,427.9 L182.5,431.2 L184.9,428.9 L187.2,428.3 L189.6,431.3 L191.9,442.7 L194.2,438.2 L196.6,437.1 L198.9,434.7 L201.2,442.3 L203.6,437.8 L205.9,438.5 L208.2,439.0 L210.6,446.7 L212.9,447.9 L215.3,440.1 L217.6,439.5 L219.9,443.6 L222.3,440.2 L224.6,443.1 L226.9,447.3 L229.3,453.9 L231.6,445.0 L234.0,447.6 L236.3,447.0 L238.6,455.9 L241.0,453.3 L243.3,449.1 L245.7,450.4 L248.0,453.1 L250.3,455.6 L252.7,450.8" fill="none" stroke="#2438A4" stroke-width="0.85" stroke-linejoin="round"/>
<path d="M32.9,386.6 L35.3,386.3 L37.6,386.4 L40.0,388.2 L42.3,387.2 L44.6,388.3 L47.0,385.5 L49.3,391.8 L51.6,392.5 L54.0,387.2 L56.3,386.8 L58.6,385.3 L61.0,375.8 L63.3,379.6 L65.7,379.2 L68.0,383.0 L70.3,387.3 L72.7,392.4 L75.0,399.7 L77.3,400.1 L79.7,405.4 L82.0,401.4 L84.4,403.0 L86.7,401.0 L89.0,396.1 L91.4,397.2 L93.7,391.6 L96.0,390.5 L98.4,390.2 L100.7,391.5 L103.1,395.6 L105.4,401.4 L107.7,399.0 L110.1,402.5 L112.4,404.0 L114.8,402.1 L117.1,409.8 L119.4,415.5 L121.8,408.1 L124.1,399.4 L126.4,400.8 L128.8,388.6 L131.1,411.8 L133.4,415.6 L135.8,425.9 L138.1,422.5 L140.5,408.3 L142.8,406.2 L145.1,419.6 L147.5,420.9 L149.8,424.5 L152.1,429.0 L154.5,425.5 L156.8,425.7 L159.2,424.3 L161.5,423.8 L163.8,422.1 L166.2,418.9 L168.5,426.0 L170.8,429.5 L173.2,430.1 L175.5,428.8 L177.9,431.9 L180.2,437.8 L182.5,437.9 L184.9,432.2 L187.2,440.0 L189.6,433.7 L191.9,443.5 L194.2,436.9 L196.6,435.6 L198.9,439.8 L201.2,440.6 L203.6,442.4 L205.9,433.8 L208.2,442.4 L210.6,446.9 L212.9,443.1 L215.3,438.8 L217.6,441.7 L219.9,445.5 L222.3,441.1 L224.6,449.1 L226.9,451.9 L229.3,455.4 L231.6,444.4 L234.0,458.6 L236.3,458.4 L238.6,450.9 L241.0,448.0 L243.3,440.7 L245.7,445.2 L248.0,451.4 L250.3,443.9 L252.7,443.3" fill="none" stroke="#2438A4" stroke-width="0.85" stroke-linejoin="round"/>
<path d="M32.9,365.3 L35.3,365.7 L37.6,366.7 L40.0,374.2 L42.3,375.2 L44.6,364.8 L47.0,368.9 L49.3,377.2 L51.6,373.2 L54.0,369.1 L56.3,370.3 L58.6,372.4 L61.0,381.9 L63.3,376.7 L65.7,376.3 L68.0,370.2 L70.3,374.9 L72.7,377.1 L75.0,379.8 L77.3,380.1 L79.7,379.4 L82.0,382.6 L84.4,385.6 L86.7,388.5 L89.0,385.2 L91.4,386.6 L93.7,387.6 L96.0,393.0 L98.4,392.8 L100.7,397.4 L103.1,389.4 L105.4,386.9 L107.7,389.8 L110.1,393.3 L112.4,393.1 L114.8,400.8 L117.1,403.4 L119.4,396.0 L121.8,402.6 L124.1,401.8 L126.4,404.6 L128.8,412.7 L131.1,409.5 L133.4,404.0 L135.8,401.4 L138.1,415.3 L140.5,416.8 L142.8,414.5 L145.1,408.9 L147.5,407.2 L149.8,406.2 L152.1,406.3 L154.5,414.7 L156.8,420.0 L159.2,415.5 L161.5,419.2 L163.8,420.0 L166.2,422.4 L168.5,424.0 L170.8,420.5 L173.2,427.1 L175.5,432.4 L177.9,430.9 L180.2,428.3 L182.5,429.7 L184.9,430.1 L187.2,437.6 L189.6,436.5 L191.9,429.7 L194.2,432.8 L196.6,436.2 L198.9,431.2 L201.2,436.4 L203.6,433.8 L205.9,435.5 L208.2,435.8 L210.6,434.1 L212.9,429.7 L215.3,432.4 L217.6,441.3 L219.9,445.3 L222.3,444.1 L224.6,443.6 L226.9,440.6 L229.3,442.5 L231.6,442.8 L234.0,450.0 L236.3,446.5 L238.6,443.6 L241.0,438.8 L243.3,440.8 L245.7,444.1 L248.0,449.9 L250.3,447.5 L252.7,446.9" fill="none" stroke="#2438A4" stroke-width="0.85" stroke-linejoin="round"/>
<path d="M32.9,371.9 L35.3,370.4 L37.6,368.6 L40.0,368.2 L42.3,360.2 L44.6,371.7 L47.0,377.6 L49.3,370.9 L51.6,375.9 L54.0,372.9 L56.3,371.5 L58.6,374.3 L61.0,368.2 L63.3,367.1 L65.7,369.0 L68.0,367.7 L70.3,366.2 L72.7,371.1 L75.0,368.7 L77.3,370.2 L79.7,371.4 L82.0,373.9 L84.4,365.3 L86.7,369.1 L89.0,378.0 L91.4,372.7 L93.7,384.5 L96.0,376.1 L98.4,371.7 L100.7,367.9 L103.1,372.3 L105.4,377.9 L107.7,368.5 L110.1,369.9 L112.4,369.6 L114.8,376.6 L117.1,375.2 L119.4,385.6 L121.8,379.4 L124.1,389.2 L126.4,387.9 L128.8,389.9 L131.1,379.6 L133.4,377.9 L135.8,384.4 L138.1,379.0 L140.5,382.8 L142.8,393.5 L145.1,390.2 L147.5,395.6 L149.8,389.9 L152.1,387.4 L154.5,392.0 L156.8,387.2 L159.2,385.2 L161.5,393.5 L163.8,390.2 L166.2,392.6 L168.5,394.7 L170.8,387.2 L173.2,395.9 L175.5,397.5 L177.9,397.2 L180.2,394.8 L182.5,393.7 L184.9,401.4 L187.2,394.1 L189.6,390.4 L191.9,388.9 L194.2,397.0 L196.6,402.8 L198.9,407.4 L201.2,403.1 L203.6,404.0 L205.9,404.7 L208.2,407.7 L210.6,416.0 L212.9,410.4 L215.3,408.7 L217.6,409.3 L219.9,414.4 L222.3,411.3 L224.6,410.2 L226.9,414.4 L229.3,408.2 L231.6,409.6 L234.0,409.5 L236.3,408.6 L238.6,411.3 L241.0,411.6 L243.3,409.2 L245.7,407.6 L248.0,406.7 L250.3,411.2 L252.7,408.5" fill="none" stroke="#3F82C0" stroke-width="0.85" stroke-linejoin="round"/>
<path d="M32.9,370.7 L35.3,381.5 L37.6,378.9 L40.0,376.2 L42.3,375.2 L44.6,367.0 L47.0,367.1 L49.3,372.8 L51.6,374.3 L54.0,380.3 L56.3,380.3 L58.6,370.2 L61.0,380.5 L63.3,373.4 L65.7,377.1 L68.0,376.5 L70.3,375.5 L72.7,366.9 L75.0,370.9 L77.3,371.5 L79.7,369.6 L82.0,383.3 L84.4,369.8 L86.7,381.3 L89.0,380.9 L91.4,374.8 L93.7,381.6 L96.0,386.1 L98.4,375.0 L100.7,378.4 L103.1,374.3 L105.4,375.3 L107.7,378.9 L110.1,372.1 L112.4,378.9 L114.8,371.4 L117.1,382.2 L119.4,386.3 L121.8,386.5 L124.1,383.0 L126.4,388.3 L128.8,388.5 L131.1,379.6 L133.4,382.9 L135.8,380.1 L138.1,383.2 L140.5,388.8 L142.8,391.7 L145.1,389.0 L147.5,389.1 L149.8,392.3 L152.1,393.9 L154.5,386.1 L156.8,386.1 L159.2,389.8 L161.5,394.2 L163.8,396.4 L166.2,387.1 L168.5,396.1 L170.8,386.6 L173.2,397.2 L175.5,404.5 L177.9,392.0 L180.2,398.0 L182.5,393.2 L184.9,396.9 L187.2,401.5 L189.6,398.2 L191.9,403.1 L194.2,401.9 L196.6,404.5 L198.9,412.8 L201.2,406.3 L203.6,408.9 L205.9,408.4 L208.2,406.2 L210.6,414.0 L212.9,408.2 L215.3,406.6 L217.6,400.7 L219.9,404.1 L222.3,407.5 L224.6,413.2 L226.9,412.5 L229.3,418.7 L231.6,412.9 L234.0,414.1 L236.3,415.4 L238.6,414.4 L241.0,412.4 L243.3,412.9 L245.7,419.4 L248.0,410.7 L250.3,413.8 L252.7,413.6" fill="none" stroke="#3F82C0" stroke-width="0.85" stroke-linejoin="round"/>
<path d="M32.9,379.2 L35.3,383.2 L37.6,379.1 L40.0,380.7 L42.3,383.1 L44.6,379.7 L47.0,375.9 L49.3,375.5 L51.6,377.2 L54.0,381.2 L56.3,381.3 L58.6,380.6 L61.0,386.1 L63.3,378.2 L65.7,379.1 L68.0,385.5 L70.3,375.6 L72.7,370.9 L75.0,383.6 L77.3,382.9 L79.7,385.7 L82.0,379.9 L84.4,387.7 L86.7,382.2 L89.0,381.4 L91.4,378.3 L93.7,390.6 L96.0,389.8 L98.4,387.5 L100.7,382.1 L103.1,384.6 L105.4,382.9 L107.7,384.1 L110.1,390.6 L112.4,389.6 L114.8,391.0 L117.1,391.5 L119.4,394.6 L121.8,388.8 L124.1,389.5 L126.4,399.7 L128.8,391.8 L131.1,395.5 L133.4,401.1 L135.8,391.6 L138.1,394.6 L140.5,394.4 L142.8,396.9 L145.1,397.8 L147.5,406.2 L149.8,398.1 L152.1,402.7 L154.5,401.3 L156.8,401.9 L159.2,406.4 L161.5,409.5 L163.8,406.2 L166.2,399.5 L168.5,406.4 L170.8,408.8 L173.2,407.0 L175.5,409.9 L177.9,403.1 L180.2,405.2 L182.5,397.5 L184.9,405.6 L187.2,399.9 L189.6,410.8 L191.9,411.0 L194.2,417.1 L196.6,416.5 L198.9,416.5 L201.2,412.9 L203.6,409.1 L205.9,415.3 L208.2,422.8 L210.6,419.2 L212.9,419.2 L215.3,421.0 L217.6,416.1 L219.9,413.8 L222.3,421.4 L224.6,424.1 L226.9,433.4 L229.3,427.9 L231.6,420.3 L234.0,425.8 L236.3,419.9 L238.6,419.3 L241.0,419.6 L243.3,419.8 L245.7,423.2 L248.0,419.6 L250.3,418.5 L252.7,421.3" fill="none" stroke="#3F82C0" stroke-width="0.85" stroke-linejoin="round"/>
<path d="M32.9,384.2 L35.3,378.2 L37.6,375.4 L40.0,383.7 L42.3,379.7 L44.6,381.8 L47.0,372.5 L49.3,381.2 L51.6,385.1 L54.0,387.6 L56.3,380.4 L58.6,386.8 L61.0,381.4 L63.3,384.9 L65.7,378.0 L68.0,375.0 L70.3,376.1 L72.7,390.0 L75.0,392.2 L77.3,398.4 L79.7,377.3 L82.0,385.2 L84.4,387.0 L86.7,385.8 L89.0,383.2 L91.4,386.8 L93.7,386.4 L96.0,386.9 L98.4,393.0 L100.7,381.6 L103.1,378.8 L105.4,385.7 L107.7,388.9 L110.1,381.4 L112.4,377.1 L114.8,386.6 L117.1,387.4 L119.4,392.5 L121.8,391.2 L124.1,403.8 L126.4,406.7 L128.8,396.3 L131.1,396.4 L133.4,394.3 L135.8,395.6 L138.1,394.1 L140.5,395.7 L142.8,398.5 L145.1,397.3 L147.5,402.2 L149.8,395.1 L152.1,403.9 L154.5,404.5 L156.8,399.5 L159.2,404.1 L161.5,400.2 L163.8,397.4 L166.2,400.0 L168.5,406.6 L170.8,398.9 L173.2,403.4 L175.5,411.5 L177.9,401.4 L180.2,406.9 L182.5,407.1 L184.9,406.5 L187.2,413.0 L189.6,409.2 L191.9,418.0 L194.2,419.9 L196.6,418.4 L198.9,407.2 L201.2,411.2 L203.6,410.4 L205.9,417.6 L208.2,416.0 L210.6,427.5 L212.9,423.2 L215.3,419.4 L217.6,423.0 L219.9,430.6 L222.3,431.8 L224.6,422.6 L226.9,417.1 L229.3,423.3 L231.6,416.9 L234.0,427.9 L236.3,423.1 L238.6,423.4 L241.0,420.5 L243.3,431.0 L245.7,423.4 L248.0,425.3 L250.3,430.3 L252.7,430.2" fill="none" stroke="#3F82C0" stroke-width="0.85" stroke-linejoin="round"/>
<path d="M32.9,381.8 L35.3,379.6 L37.6,383.0 L40.0,383.9 L42.3,380.6 L44.6,379.8 L47.0,377.6 L49.3,375.3 L51.6,384.6 L54.0,380.9 L56.3,378.5 L58.6,378.5 L61.0,382.5 L63.3,377.2 L65.7,372.0 L68.0,377.4 L70.3,381.3 L72.7,376.9 L75.0,378.4 L77.3,378.6 L79.7,378.4 L82.0,381.0 L84.4,380.3 L86.7,382.8 L89.0,388.3 L91.4,379.2 L93.7,379.5 L96.0,381.1 L98.4,376.7 L100.7,381.1 L103.1,378.0 L105.4,378.5 L107.7,383.0 L110.1,388.3 L112.4,383.8 L114.8,383.8 L117.1,381.3 L119.4,390.3 L121.8,388.2 L124.1,386.6 L126.4,386.2 L128.8,387.3 L131.1,387.4 L133.4,397.5 L135.8,393.7 L138.1,394.3 L140.5,398.2 L142.8,393.8 L145.1,394.8 L147.5,398.5 L149.8,400.9 L152.1,395.9 L154.5,405.4 L156.8,399.8 L159.2,402.4 L161.5,399.2 L163.8,392.2 L166.2,393.9 L168.5,398.9 L170.8,395.2 L173.2,393.3 L175.5,396.5 L177.9,394.8 L180.2,400.8 L182.5,401.6 L184.9,405.0 L187.2,407.7 L189.6,407.5 L191.9,410.9 L194.2,409.9 L196.6,401.7 L198.9,405.2 L201.2,410.1 L203.6,405.0 L205.9,405.0 L208.2,414.7 L210.6,416.7 L212.9,408.9 L215.3,413.0 L217.6,414.4 L219.9,417.8 L222.3,421.4 L224.6,414.6 L226.9,420.2 L229.3,417.3 L231.6,412.0 L234.0,415.6 L236.3,419.8 L238.6,418.3 L241.0,418.4 L243.3,422.5 L245.7,421.4 L248.0,426.7 L250.3,430.6 L252.7,427.6" fill="none" stroke="#3F82C0" stroke-width="0.85" stroke-linejoin="round"/>
<path d="M32.9,379.0 L35.3,371.7 L37.6,369.1 L40.0,366.1 L42.3,354.8 L44.6,367.3 L47.0,367.9 L49.3,367.6 L51.6,370.3 L54.0,352.8 L56.3,363.6 L58.6,363.2 L61.0,362.3 L63.3,346.1 L65.7,357.0 L68.0,362.6 L70.3,351.9 L72.7,359.5 L75.0,369.9 L77.3,353.4 L79.7,349.2 L82.0,361.5 L84.4,363.6 L86.7,356.7 L89.0,359.7 L91.4,363.5 L93.7,362.3 L96.0,343.8 L98.4,342.1 L100.7,353.8 L103.1,351.5 L105.4,348.9 L107.7,350.3 L110.1,348.5 L112.4,337.0 L114.8,347.3 L117.1,350.7 L119.4,347.0 L121.8,349.2 L124.1,348.1 L126.4,347.3 L128.8,349.9 L131.1,337.2 L133.4,344.0 L135.8,333.8 L138.1,343.3 L140.5,346.0 L142.8,339.5 L145.1,340.1 L147.5,333.3 L149.8,331.8 L152.1,321.1 L154.5,348.9 L156.8,345.4 L159.2,337.9 L161.5,336.3 L163.8,334.4 L166.2,317.6 L168.5,341.1 L170.8,330.2 L173.2,332.0 L175.5,330.6 L177.9,323.4 L180.2,327.7 L182.5,323.5 L184.9,318.9 L187.2,317.7 L189.6,335.3 L191.9,332.9 L194.2,335.8 L196.6,333.2 L198.9,328.6 L201.2,313.3 L203.6,324.7 L205.9,325.8 L208.2,325.1 L210.6,314.6 L212.9,323.6 L215.3,319.9 L217.6,316.4 L219.9,316.7 L222.3,332.2 L224.6,332.4 L226.9,320.5 L229.3,331.5 L231.6,325.5 L234.0,331.4 L236.3,321.7 L238.6,321.5 L241.0,330.5 L243.3,325.4 L245.7,328.9 L248.0,327.0 L250.3,315.8 L252.7,318.4" fill="none" stroke="#A81C26" stroke-width="0.85" stroke-linejoin="round"/>
<path d="M32.9,371.2 L35.3,363.2 L37.6,368.5 L40.0,362.3 L42.3,365.4 L44.6,366.5 L47.0,370.2 L49.3,373.5 L51.6,375.2 L54.0,374.6 L56.3,365.2 L58.6,362.6 L61.0,368.7 L63.3,357.8 L65.7,365.1 L68.0,365.3 L70.3,370.8 L72.7,368.7 L75.0,357.4 L77.3,356.2 L79.7,361.7 L82.0,351.7 L84.4,356.0 L86.7,356.0 L89.0,349.7 L91.4,350.9 L93.7,355.5 L96.0,360.8 L98.4,348.0 L100.7,365.3 L103.1,359.8 L105.4,364.4 L107.7,358.5 L110.1,347.7 L112.4,351.1 L114.8,352.2 L117.1,349.9 L119.4,336.8 L121.8,336.0 L124.1,342.0 L126.4,348.6 L128.8,348.6 L131.1,343.8 L133.4,345.4 L135.8,344.7 L138.1,349.5 L140.5,352.3 L142.8,351.2 L145.1,342.5 L147.5,346.3 L149.8,326.5 L152.1,331.8 L154.5,332.4 L156.8,330.0 L159.2,340.9 L161.5,344.5 L163.8,339.5 L166.2,332.7 L168.5,330.5 L170.8,322.9 L173.2,321.6 L175.5,322.8 L177.9,322.3 L180.2,326.7 L182.5,324.2 L184.9,329.7 L187.2,331.7 L189.6,324.0 L191.9,336.5 L194.2,322.0 L196.6,314.6 L198.9,325.8 L201.2,321.6 L203.6,323.4 L205.9,330.4 L208.2,324.4 L210.6,321.4 L212.9,317.4 L215.3,323.9 L217.6,322.9 L219.9,326.9 L222.3,318.5 L224.6,322.4 L226.9,317.8 L229.3,325.4 L231.6,323.0 L234.0,328.3 L236.3,329.0 L238.6,318.4 L241.0,322.9 L243.3,323.8 L245.7,319.5 L248.0,327.4 L250.3,313.8 L252.7,326.0" fill="none" stroke="#A81C26" stroke-width="0.85" stroke-linejoin="round"/>
<path d="M32.9,377.9 L35.3,363.0 L37.6,381.9 L40.0,367.2 L42.3,370.9 L44.6,371.3 L47.0,380.6 L49.3,376.2 L51.6,383.3 L54.0,372.1 L56.3,376.0 L58.6,379.5 L61.0,379.5 L63.3,377.4 L65.7,370.1 L68.0,371.3 L70.3,378.2 L72.7,380.7 L75.0,382.2 L77.3,371.7 L79.7,370.2 L82.0,378.9 L84.4,384.2 L86.7,376.4 L89.0,376.8 L91.4,370.1 L93.7,371.6 L96.0,368.8 L98.4,365.1 L100.7,362.2 L103.1,368.3 L105.4,364.3 L107.7,370.2 L110.1,375.2 L112.4,367.7 L114.8,359.2 L117.1,354.7 L119.4,361.4 L121.8,372.4 L124.1,363.0 L126.4,362.5 L128.8,356.7 L131.1,351.5 L133.4,358.0 L135.8,360.7 L138.1,358.8 L140.5,359.0 L142.8,360.1 L145.1,352.5 L147.5,354.9 L149.8,352.2 L152.1,350.8 L154.5,351.2 L156.8,343.5 L159.2,346.6 L161.5,344.6 L163.8,338.1 L166.2,341.0 L168.5,348.9 L170.8,345.0 L173.2,343.2 L175.5,335.8 L177.9,327.2 L180.2,332.7 L182.5,335.9 L184.9,327.2 L187.2,336.8 L189.6,333.5 L191.9,331.2 L194.2,333.2 L196.6,334.3 L198.9,332.2 L201.2,323.5 L203.6,326.1 L205.9,333.3 L208.2,330.2 L210.6,325.1 L212.9,318.6 L215.3,322.1 L217.6,326.6 L219.9,320.9 L222.3,321.9 L224.6,326.4 L226.9,332.4 L229.3,329.8 L231.6,324.0 L234.0,334.0 L236.3,340.1 L238.6,329.8 L241.0,338.7 L243.3,340.2 L245.7,334.5 L248.0,333.2 L250.3,331.4 L252.7,330.5" fill="none" stroke="#A81C26" stroke-width="0.85" stroke-linejoin="round"/>
<path d="M32.9,376.9 L35.3,380.6 L37.6,385.1 L40.0,398.0 L42.3,378.3 L44.6,375.0 L47.0,374.9 L49.3,378.6 L51.6,384.6 L54.0,378.5 L56.3,379.7 L58.6,387.4 L61.0,375.8 L63.3,386.3 L65.7,383.6 L68.0,369.9 L70.3,380.5 L72.7,377.7 L75.0,371.6 L77.3,375.6 L79.7,384.8 L82.0,381.9 L84.4,378.3 L86.7,385.2 L89.0,370.1 L91.4,371.6 L93.7,369.5 L96.0,371.1 L98.4,370.5 L100.7,374.2 L103.1,381.4 L105.4,370.7 L107.7,370.8 L110.1,361.4 L112.4,373.8 L114.8,369.3 L117.1,355.7 L119.4,371.2 L121.8,374.3 L124.1,366.3 L126.4,354.7 L128.8,367.1 L131.1,362.7 L133.4,362.0 L135.8,363.1 L138.1,360.9 L140.5,350.8 L142.8,353.2 L145.1,361.5 L147.5,359.1 L149.8,353.4 L152.1,359.5 L154.5,356.4 L156.8,353.1 L159.2,361.1 L161.5,339.9 L163.8,352.9 L166.2,346.4 L168.5,345.2 L170.8,346.7 L173.2,336.1 L175.5,339.1 L177.9,344.8 L180.2,334.5 L182.5,334.6 L184.9,343.4 L187.2,348.6 L189.6,335.8 L191.9,337.5 L194.2,345.4 L196.6,335.7 L198.9,344.1 L201.2,342.0 L203.6,341.8 L205.9,348.2 L208.2,334.4 L210.6,313.7 L212.9,323.9 L215.3,328.1 L217.6,333.0 L219.9,333.3 L222.3,331.2 L224.6,328.5 L226.9,334.1 L229.3,332.6 L231.6,333.6 L234.0,329.4 L236.3,326.0 L238.6,324.1 L241.0,332.6 L243.3,335.5 L245.7,329.7 L248.0,333.7 L250.3,334.8 L252.7,331.5" fill="none" stroke="#A81C26" stroke-width="0.85" stroke-linejoin="round"/>
<path d="M32.9,368.7 L35.3,363.1 L37.6,373.4 L40.0,364.1 L42.3,368.9 L44.6,364.1 L47.0,372.1 L49.3,368.2 L51.6,369.0 L54.0,356.6 L56.3,366.2 L58.6,358.0 L61.0,365.0 L63.3,368.2 L65.7,361.5 L68.0,355.2 L70.3,358.5 L72.7,355.7 L75.0,356.2 L77.3,357.5 L79.7,350.0 L82.0,354.4 L84.4,350.8 L86.7,359.6 L89.0,356.9 L91.4,349.9 L93.7,354.4 L96.0,364.0 L98.4,351.6 L100.7,348.4 L103.1,351.4 L105.4,349.8 L107.7,351.2 L110.1,347.5 L112.4,342.3 L114.8,344.3 L117.1,346.5 L119.4,348.7 L121.8,347.3 L124.1,348.2 L126.4,340.5 L128.8,348.1 L131.1,347.5 L133.4,342.1 L135.8,340.1 L138.1,339.5 L140.5,342.2 L142.8,339.5 L145.1,346.5 L147.5,348.6 L149.8,347.6 L152.1,338.3 L154.5,330.1 L156.8,336.3 L159.2,338.4 L161.5,337.2 L163.8,325.7 L166.2,329.9 L168.5,331.3 L170.8,334.7 L173.2,329.9 L175.5,323.9 L177.9,327.4 L180.2,333.1 L182.5,323.6 L184.9,327.2 L187.2,318.7 L189.6,330.2 L191.9,328.7 L194.2,325.8 L196.6,334.8 L198.9,327.8 L201.2,322.7 L203.6,324.7 L205.9,322.1 L208.2,322.3 L210.6,327.3 L212.9,320.6 L215.3,325.9 L217.6,324.9 L219.9,326.7 L222.3,320.0 L224.6,323.5 L226.9,324.4 L229.3,333.0 L231.6,326.1 L234.0,317.4 L236.3,330.4 L238.6,321.8 L241.0,321.3 L243.3,329.8 L245.7,325.8 L248.0,317.7 L250.3,320.2 L252.7,319.3" fill="none" stroke="#A81C26" stroke-width="0.85" stroke-linejoin="round"/>
<path d="M33.3,376.0 L36.1,375.9 L38.9,375.9 L41.6,376.0 L44.4,376.1 L47.2,376.3 L50.0,376.6 L52.7,376.9 L55.5,377.4 L58.3,377.9 L61.1,378.4 L63.8,379.0 L66.6,379.7 L69.4,380.4 L72.2,381.2 L74.9,382.0 L77.7,382.9 L80.5,383.8 L83.3,384.8 L86.0,385.8 L88.8,386.8 L91.6,387.9 L94.4,389.0 L97.1,390.1 L99.9,391.3 L102.7,392.5 L105.5,393.7 L108.3,394.9 L111.0,396.2 L113.8,397.5 L116.6,398.7 L119.4,400.1 L122.1,401.4 L124.9,402.7 L127.7,404.0 L130.5,405.4 L133.2,406.7 L136.0,408.1 L138.8,409.4 L141.6,410.8 L144.3,412.1 L147.1,413.5 L149.9,414.8 L152.7,416.2 L155.4,417.5 L158.2,418.8 L161.0,420.1 L163.8,421.4 L166.5,422.7 L169.3,423.9 L172.1,425.1 L174.9,426.4 L177.6,427.6 L180.4,428.7 L183.2,429.9 L186.0,431.0 L188.8,432.1 L191.5,433.2 L194.3,434.2 L197.1,435.2 L199.9,436.2 L202.6,437.2 L205.4,438.1 L208.2,439.0 L211.0,439.8 L213.7,440.6 L216.5,441.4 L219.3,442.2 L222.1,442.9 L224.8,443.5 L227.6,444.1 L230.4,444.7 L233.2,445.3 L235.9,445.8 L238.7,446.2 L241.5,446.6 L244.3,447.0 L247.0,447.3 L249.8,447.6 L252.6,447.8" fill="none" stroke="#2E4EA3" stroke-width="4.5" stroke-linejoin="round"/>
<path d="M33.3,375.5 L36.1,375.4 L38.9,375.4 L41.6,375.4 L44.4,375.5 L47.2,375.5 L50.0,375.7 L52.7,375.8 L55.5,376.0 L58.3,376.2 L61.1,376.4 L63.8,376.7 L66.6,377.0 L69.4,377.4 L72.2,377.7 L74.9,378.1 L77.7,378.5 L80.5,379.0 L83.3,379.4 L86.0,379.9 L88.8,380.4 L91.6,381.0 L94.4,381.6 L97.1,382.2 L99.9,382.8 L102.7,383.4 L105.5,384.1 L108.3,384.7 L111.0,385.4 L113.8,386.1 L116.6,386.9 L119.4,387.6 L122.1,388.4 L124.9,389.2 L127.7,389.9 L130.5,390.7 L133.2,391.6 L136.0,392.4 L138.8,393.2 L141.6,394.1 L144.3,394.9 L147.1,395.8 L149.9,396.6 L152.7,397.5 L155.4,398.4 L158.2,399.2 L161.0,400.1 L163.8,401.0 L166.5,401.9 L169.3,402.7 L172.1,403.6 L174.9,404.5 L177.6,405.3 L180.4,406.2 L183.2,407.0 L186.0,407.8 L188.8,408.7 L191.5,409.5 L194.3,410.3 L197.1,411.0 L199.9,411.8 L202.6,412.6 L205.4,413.3 L208.2,414.0 L211.0,414.7 L213.7,415.3 L216.5,416.0 L219.3,416.6 L222.1,417.1 L224.8,417.7 L227.6,418.2 L230.4,418.7 L233.2,419.1 L235.9,419.5 L238.7,419.9 L241.5,420.3 L244.3,420.6 L247.0,420.8 L249.8,421.0 L252.6,421.2" fill="none" stroke="#8DBDE6" stroke-width="4.5" stroke-linejoin="round"/>
<path d="M33.3,372.4 L36.1,371.7 L38.9,371.0 L41.6,370.3 L44.4,369.6 L47.2,368.9 L50.0,368.2 L52.7,367.5 L55.5,366.8 L58.3,366.2 L61.1,365.5 L63.8,364.8 L66.6,364.2 L69.4,363.5 L72.2,362.8 L74.9,362.1 L77.7,361.5 L80.5,360.8 L83.3,360.1 L86.0,359.4 L88.8,358.7 L91.6,358.0 L94.4,357.3 L97.1,356.6 L99.9,355.9 L102.7,355.2 L105.5,354.5 L108.3,353.8 L111.0,353.0 L113.8,352.3 L116.6,351.6 L119.4,350.8 L122.1,350.1 L124.9,349.3 L127.7,348.6 L130.5,347.8 L133.2,347.1 L136.0,346.3 L138.8,345.5 L141.6,344.8 L144.3,344.0 L147.1,343.3 L149.9,342.5 L152.7,341.7 L155.4,341.0 L158.2,340.2 L161.0,339.5 L163.8,338.8 L166.5,338.0 L169.3,337.3 L172.1,336.6 L174.9,335.9 L177.6,335.2 L180.4,334.5 L183.2,333.9 L186.0,333.2 L188.8,332.6 L191.5,332.0 L194.3,331.4 L197.1,330.9 L199.9,330.3 L202.6,329.8 L205.4,329.3 L208.2,328.9 L211.0,328.4 L213.7,328.1 L216.5,327.7 L219.3,327.4 L222.1,327.1 L224.8,326.9 L227.6,326.7 L230.4,326.5 L233.2,326.4 L235.9,326.4 L238.7,326.4 L241.5,326.5 L244.3,326.6 L247.0,326.8 L249.8,327.0 L252.6,327.3" fill="none" stroke="#ED1C24" stroke-width="4.5" stroke-linejoin="round"/>
<path d="M44.62,527.3v-2.2M44.62,294.8v2.2M56.31,527.3v-2.2M56.31,294.8v2.2M68.00,527.3v-4.3M68.00,294.8v4.3M79.69,527.3v-2.2M79.69,294.8v2.2M91.38,527.3v-2.2M91.38,294.8v2.2M103.06,527.3v-2.2M103.06,294.8v2.2M114.75,527.3v-4.3M114.75,294.8v4.3M126.44,527.3v-2.2M126.44,294.8v2.2M138.12,527.3v-2.2M138.12,294.8v2.2M149.81,527.3v-2.2M149.81,294.8v2.2M161.50,527.3v-4.3M161.50,294.8v4.3M173.19,527.3v-2.2M173.19,294.8v2.2M184.88,527.3v-2.2M184.88,294.8v2.2M196.56,527.3v-2.2M196.56,294.8v2.2M208.25,527.3v-4.3M208.25,294.8v4.3M219.94,527.3v-2.2M219.94,294.8v2.2M231.62,527.3v-2.2M231.62,294.8v2.2M243.31,527.3v-2.2M243.31,294.8v2.2M255.00,527.3v-4.3M255.00,294.8v4.3M32.9,520.03h4.3M257.3,520.03h-4.3M32.9,510.95h2.2M257.3,510.95h-2.2M32.9,501.87h2.2M257.3,501.87h-2.2M32.9,492.79h2.2M257.3,492.79h-2.2M32.9,483.71h4.3M257.3,483.71h-4.3M32.9,474.62h2.2M257.3,474.62h-2.2M32.9,465.54h2.2M257.3,465.54h-2.2M32.9,456.46h2.2M257.3,456.46h-2.2M32.9,447.38h4.3M257.3,447.38h-4.3M32.9,438.30h2.2M257.3,438.30h-2.2M32.9,429.21h2.2M257.3,429.21h-2.2M32.9,420.13h2.2M257.3,420.13h-2.2M32.9,411.05h4.3M257.3,411.05h-4.3M32.9,401.97h2.2M257.3,401.97h-2.2M32.9,392.89h2.2M257.3,392.89h-2.2M32.9,383.80h2.2M257.3,383.80h-2.2M32.9,374.72h4.3M257.3,374.72h-4.3M32.9,365.64h2.2M257.3,365.64h-2.2M32.9,356.56h2.2M257.3,356.56h-2.2M32.9,347.48h2.2M257.3,347.48h-2.2M32.9,338.39h4.3M257.3,338.39h-4.3M32.9,329.31h2.2M257.3,329.31h-2.2M32.9,320.23h2.2M257.3,320.23h-2.2M32.9,311.15h2.2M257.3,311.15h-2.2M32.9,302.07h4.3M257.3,302.07h-4.3" stroke="#000" stroke-width="1.3" fill="none"/>
<rect x="32.9" y="294.8" width="224.4" height="232.5" fill="none" stroke="#000" stroke-width="1.75" stroke-linejoin="round"/>
<text font-size="18.5" fill="#000"><tspan x="6.32" y="527.0" textLength="6.74" lengthAdjust="spacingAndGlyphs">−</tspan><tspan x="13.11" y="527.0" textLength="10.68" lengthAdjust="spacingAndGlyphs">5</tspan></text>
<text x="13.11" y="490.7" font-size="18.5" textLength="10.68" lengthAdjust="spacingAndGlyphs" fill="#000">0</text>
<text x="13.11" y="454.4" font-size="18.5" textLength="10.68" lengthAdjust="spacingAndGlyphs" fill="#000">5</text>
<text x="2.46" y="418.0" font-size="18.5" textLength="21.36" lengthAdjust="spacingAndGlyphs" fill="#000">10</text>
<text x="2.46" y="381.7" font-size="18.5" textLength="21.36" lengthAdjust="spacingAndGlyphs" fill="#000">15</text>
<text x="2.46" y="345.4" font-size="18.5" textLength="21.36" lengthAdjust="spacingAndGlyphs" fill="#000">20</text>
<text x="-1.11" y="309.1" font-size="19.4" textLength="27.20" lengthAdjust="spacingAndGlyphs" fill="#000">DU</text>
<text x="38.77" y="319.0" font-size="19.4" textLength="131.78" lengthAdjust="spacingAndGlyphs" fill="#000">(B) 30°N-90°N</text>
</g>
<g transform="translate(0.2,0)">
<rect x="270.6" y="294.8" width="219.4" height="232.5" fill="#FAA61A"/>
<path d="M270.8,409.7 L272.6,409.5 L274.5,408.8 L276.3,407.8 L278.2,406.6 L280.0,405.1 L281.9,402.7 L283.7,399.6 L285.5,396.1 L287.4,392.6 L289.2,389.0 L291.1,385.2 L292.9,381.1 L294.7,376.9 L296.6,372.6 L298.4,368.5 L300.3,364.4 L302.1,360.4 L304.0,356.3 L305.8,352.3 L307.6,348.4 L309.5,344.8 L311.3,341.4 L313.2,338.2 L315.0,335.2 L316.9,332.3 L318.7,329.6 L320.5,327.0 L322.4,324.7 L324.2,322.5 L326.1,320.4 L327.9,318.4 L329.7,316.6 L331.6,314.9 L333.4,313.4 L335.3,312.0 L337.1,310.8 L339.0,309.7 L340.8,308.7 L342.6,307.7 L344.5,306.9 L346.3,306.1 L348.2,305.3 L350.0,304.6 L351.8,304.0 L353.7,303.4 L355.5,302.8 L357.4,302.4 L359.2,302.0 L361.1,301.6 L362.9,301.3 L364.7,301.0 L366.6,300.8 L368.4,300.5 L370.3,300.3 L372.1,300.1 L374.0,299.9 L375.8,299.7 L377.6,299.6 L379.5,299.4 L381.3,299.2 L383.2,299.1 L385.0,298.9 L386.8,298.7 L388.7,298.6 L390.5,298.4 L392.4,298.3 L394.2,298.1 L396.1,298.0 L397.9,297.8 L399.7,297.7 L401.6,297.5 L403.4,297.4 L405.3,297.3 L407.1,297.2 L409.0,297.1 L410.8,297.0 L412.6,296.9 L414.5,296.8 L416.3,296.7 L418.2,296.6 L420.0,296.5 L421.8,296.4 L423.7,296.3 L425.5,296.2 L427.4,296.1 L429.2,296.0 L431.1,295.9 L432.9,295.9 L434.7,295.8 L436.6,295.8 L438.4,295.7 L440.3,295.7 L442.1,295.6 L443.9,295.6 L445.8,295.6 L447.6,295.6 L449.5,295.5 L451.3,295.5 L453.2,295.5 L455.0,295.5 L456.8,295.5 L458.7,295.4 L460.5,295.4 L462.4,295.4 L464.2,295.4 L466.1,295.4 L467.9,295.4 L469.7,295.4 L471.6,295.4 L473.4,295.3 L475.3,295.3 L477.1,295.3 L478.9,295.3 L480.8,295.3 L482.6,295.3 L484.5,295.3 L486.3,295.3 L488.2,295.3 L490.0,295.3 L490.0,527.3 L270.6,527.3 Z" fill="#0F8242" stroke="#000" stroke-width="1.7" stroke-linejoin="round"/>
<path d="M270.8,421.2 L272.6,424.7 L274.5,428.5 L276.3,432.4 L278.2,436.5 L280.0,440.9 L281.9,445.5 L283.7,450.4 L285.5,455.7 L287.4,460.9 L289.2,465.7 L291.1,470.2 L292.9,474.5 L294.7,478.8 L296.6,483.0 L298.4,487.0 L300.3,490.5 L302.1,493.6 L304.0,496.5 L305.8,499.0 L307.6,501.5 L309.5,503.7 L311.3,505.6 L313.2,507.4 L315.0,509.1 L316.9,510.7 L318.7,512.1 L320.5,513.4 L322.4,514.5 L324.2,515.5 L326.1,516.3 L327.9,517.1 L329.7,517.8 L331.6,518.5 L333.4,519.1 L335.3,519.6 L337.1,520.1 L339.0,520.6 L340.8,521.1 L342.6,521.5 L344.5,521.9 L346.3,522.2 L348.2,522.5 L350.0,522.7 L351.8,523.0 L353.7,523.2 L355.5,523.3 L357.4,523.5 L359.2,523.7 L361.1,523.8 L362.9,523.9 L364.7,524.1 L366.6,524.2 L368.4,524.3 L370.3,524.4 L372.1,524.5 L374.0,524.6 L375.8,524.7 L377.6,524.8 L379.5,524.9 L381.3,525.0 L383.2,525.0 L385.0,525.1 L386.8,525.2 L388.7,525.2 L390.5,525.3 L392.4,525.4 L394.2,525.4 L396.1,525.5 L397.9,525.5 L399.7,525.6 L401.6,525.6 L403.4,525.7 L405.3,525.7 L407.1,525.8 L409.0,525.8 L410.8,525.9 L412.6,525.9 L414.5,525.9 L416.3,526.0 L418.2,526.0 L420.0,526.0 L421.8,526.0 L423.7,526.0 L425.5,526.1 L427.4,526.1 L429.2,526.1 L431.1,526.1 L432.9,526.1 L434.7,526.1 L436.6,526.2 L438.4,526.2 L440.3,526.2 L442.1,526.2 L443.9,526.2 L445.8,526.2 L447.6,526.2 L449.5,526.3 L451.3,526.3 L453.2,526.3 L455.0,526.3 L456.8,526.3 L458.7,526.3 L460.5,526.3 L462.4,526.3 L464.2,526.3 L466.1,526.3 L467.9,526.4 L469.7,526.4 L471.6,526.4 L473.4,526.4 L475.3,526.4 L477.1,526.4 L478.9,526.4 L480.8,526.4 L482.6,526.4 L484.5,526.4 L486.3,526.4 L488.2,526.4 L490.0,526.4 L490.0,527.3 L270.6,527.3 Z" fill="#3B54A5" stroke="#000" stroke-width="1.7" stroke-linejoin="round"/>
<line x1="490.4" y1="294.8" x2="490.4" y2="527.3" stroke="#000" stroke-width="0.9"/>
<path d="M282.62,527.3v-2.2M282.62,294.8v2.2M294.31,527.3v-2.2M294.31,294.8v2.2M306.00,527.3v-4.3M306.00,294.8v4.3M317.69,527.3v-2.2M317.69,294.8v2.2M329.38,527.3v-2.2M329.38,294.8v2.2M341.06,527.3v-2.2M341.06,294.8v2.2M352.75,527.3v-4.3M352.75,294.8v4.3M364.44,527.3v-2.2M364.44,294.8v2.2M376.12,527.3v-2.2M376.12,294.8v2.2M387.81,527.3v-2.2M387.81,294.8v2.2M399.50,527.3v-4.3M399.50,294.8v4.3M411.19,527.3v-2.2M411.19,294.8v2.2M422.88,527.3v-2.2M422.88,294.8v2.2M434.56,527.3v-2.2M434.56,294.8v2.2M446.25,527.3v-4.3M446.25,294.8v4.3M457.94,527.3v-2.2M457.94,294.8v2.2M469.62,527.3v-2.2M469.62,294.8v2.2M481.31,527.3v-2.2M481.31,294.8v2.2M493.00,527.3v-4.3M493.00,294.8v4.3M270.6,527.30h4.3M495.2,527.30h-4.3M270.6,515.67h2.2M495.2,515.67h-2.2M270.6,504.05h2.2M495.2,504.05h-2.2M270.6,492.42h2.2M495.2,492.42h-2.2M270.6,480.80h4.3M495.2,480.80h-4.3M270.6,469.17h2.2M495.2,469.17h-2.2M270.6,457.55h2.2M495.2,457.55h-2.2M270.6,445.92h2.2M495.2,445.92h-2.2M270.6,434.30h4.3M495.2,434.30h-4.3M270.6,422.67h2.2M495.2,422.67h-2.2M270.6,411.05h2.2M495.2,411.05h-2.2M270.6,399.42h2.2M495.2,399.42h-2.2M270.6,387.80h4.3M495.2,387.80h-4.3M270.6,376.17h2.2M495.2,376.17h-2.2M270.6,364.55h2.2M495.2,364.55h-2.2M270.6,352.93h2.2M495.2,352.93h-2.2M270.6,341.30h4.3M495.2,341.30h-4.3M270.6,329.68h2.2M495.2,329.68h-2.2M270.6,318.05h2.2M495.2,318.05h-2.2M270.6,306.43h2.2M495.2,306.43h-2.2M270.6,294.80h4.3M495.2,294.80h-4.3" stroke="#000" stroke-width="1.3" fill="none"/>
<rect x="270.6" y="294.8" width="224.6" height="232.5" fill="none" stroke="#000" stroke-width="1.75" stroke-linejoin="round"/>
<text x="500.04" y="488.8" font-size="18.3" textLength="21.36" lengthAdjust="spacingAndGlyphs" fill="#000">20</text>
<text x="500.52" y="442.3" font-size="18.3" textLength="21.36" lengthAdjust="spacingAndGlyphs" fill="#000">40</text>
<text x="500.04" y="395.8" font-size="18.3" textLength="21.36" lengthAdjust="spacingAndGlyphs" fill="#000">60</text>
<text x="500.14" y="349.3" font-size="18.3" textLength="21.36" lengthAdjust="spacingAndGlyphs" fill="#000">80</text>
<text x="499.6" y="302.2" font-size="16.8" fill="#000">%</text>
</g>
<g transform="translate(0.6,0)">
<line x1="32.9" y1="726.6" x2="257.3" y2="726.6" stroke="#000" stroke-width="1.7"/>
<path d="M32.9,633.0 L35.3,635.6 L37.6,632.9 L40.0,636.4 L42.3,636.5 L44.6,631.4 L47.0,630.0 L49.3,630.5 L51.6,636.0 L54.0,634.9 L56.3,636.1 L58.6,630.5 L61.0,636.0 L63.3,637.7 L65.7,637.0 L68.0,635.0 L70.3,636.6 L72.7,636.7 L75.0,635.8 L77.3,636.4 L79.7,641.1 L82.0,641.5 L84.4,635.7 L86.7,637.8 L89.0,635.0 L91.4,635.3 L93.7,636.6 L96.0,639.7 L98.4,637.8 L100.7,642.1 L103.1,637.9 L105.4,640.7 L107.7,642.0 L110.1,645.0 L112.4,646.7 L114.8,647.0 L117.1,648.1 L119.4,649.7 L121.8,651.1 L124.1,649.2 L126.4,647.0 L128.8,645.1 L131.1,647.6 L133.4,650.7 L135.8,650.5 L138.1,648.5 L140.5,651.8 L142.8,651.3 L145.1,652.9 L147.5,654.4 L149.8,656.8 L152.1,655.2 L154.5,658.5 L156.8,660.2 L159.2,658.3 L161.5,656.8 L163.8,656.8 L166.2,657.4 L168.5,660.5 L170.8,661.4 L173.2,659.4 L175.5,657.1 L177.9,667.1 L180.2,662.0 L182.5,663.0 L184.9,664.3 L187.2,666.5 L189.6,667.4 L191.9,669.2 L194.2,667.0 L196.6,669.4 L198.9,668.7 L201.2,671.8 L203.6,667.3 L205.9,667.4 L208.2,671.8 L210.6,670.0 L212.9,671.8 L215.3,673.7 L217.6,672.7 L219.9,671.2 L222.3,669.7 L224.6,672.4 L226.9,671.7 L229.3,673.1 L231.6,674.0 L234.0,674.1 L236.3,679.7 L238.6,679.9 L241.0,676.4 L243.3,682.1 L245.7,683.4 L248.0,678.5 L250.3,684.1 L252.7,683.9" fill="none" stroke="#2438A4" stroke-width="0.85" stroke-linejoin="round"/>
<path d="M32.9,636.8 L35.3,637.5 L37.6,634.6 L40.0,633.6 L42.3,636.6 L44.6,632.0 L47.0,636.1 L49.3,636.5 L51.6,636.0 L54.0,635.1 L56.3,637.7 L58.6,635.7 L61.0,640.5 L63.3,638.4 L65.7,638.9 L68.0,638.8 L70.3,637.7 L72.7,636.9 L75.0,639.1 L77.3,638.4 L79.7,641.8 L82.0,640.7 L84.4,638.0 L86.7,641.0 L89.0,641.5 L91.4,641.4 L93.7,640.0 L96.0,640.9 L98.4,642.8 L100.7,645.6 L103.1,644.2 L105.4,650.9 L107.7,646.3 L110.1,647.9 L112.4,645.8 L114.8,647.2 L117.1,645.0 L119.4,649.1 L121.8,653.7 L124.1,651.2 L126.4,652.0 L128.8,651.9 L131.1,649.6 L133.4,653.8 L135.8,652.2 L138.1,651.7 L140.5,651.6 L142.8,658.6 L145.1,656.5 L147.5,658.2 L149.8,658.1 L152.1,659.8 L154.5,659.7 L156.8,657.3 L159.2,655.4 L161.5,657.4 L163.8,662.6 L166.2,659.2 L168.5,663.9 L170.8,663.9 L173.2,661.1 L175.5,664.3 L177.9,662.8 L180.2,664.9 L182.5,667.8 L184.9,666.1 L187.2,667.6 L189.6,663.5 L191.9,662.5 L194.2,663.2 L196.6,669.3 L198.9,665.2 L201.2,667.8 L203.6,668.6 L205.9,669.9 L208.2,672.2 L210.6,671.9 L212.9,670.6 L215.3,669.2 L217.6,671.3 L219.9,673.6 L222.3,675.8 L224.6,676.6 L226.9,673.1 L229.3,674.6 L231.6,676.5 L234.0,681.7 L236.3,684.0 L238.6,680.1 L241.0,679.6 L243.3,679.0 L245.7,681.5 L248.0,684.7 L250.3,688.6 L252.7,688.9" fill="none" stroke="#2438A4" stroke-width="0.85" stroke-linejoin="round"/>
<path d="M32.9,645.6 L35.3,639.5 L37.6,638.5 L40.0,636.1 L42.3,642.1 L44.6,642.9 L47.0,638.7 L49.3,638.0 L51.6,642.8 L54.0,641.5 L56.3,639.4 L58.6,640.0 L61.0,638.6 L63.3,639.1 L65.7,640.8 L68.0,639.4 L70.3,640.3 L72.7,638.1 L75.0,643.4 L77.3,642.7 L79.7,643.8 L82.0,643.5 L84.4,642.4 L86.7,641.9 L89.0,648.2 L91.4,643.3 L93.7,643.6 L96.0,644.1 L98.4,645.7 L100.7,644.7 L103.1,646.0 L105.4,651.7 L107.7,651.4 L110.1,650.9 L112.4,651.4 L114.8,652.2 L117.1,650.6 L119.4,654.4 L121.8,655.2 L124.1,656.4 L126.4,655.2 L128.8,654.2 L131.1,657.3 L133.4,655.9 L135.8,658.0 L138.1,654.8 L140.5,662.3 L142.8,660.1 L145.1,657.4 L147.5,660.3 L149.8,663.2 L152.1,664.0 L154.5,661.6 L156.8,663.7 L159.2,661.2 L161.5,663.1 L163.8,665.4 L166.2,666.3 L168.5,664.9 L170.8,663.8 L173.2,667.8 L175.5,670.2 L177.9,671.3 L180.2,668.4 L182.5,665.0 L184.9,669.5 L187.2,668.6 L189.6,671.1 L191.9,669.3 L194.2,674.5 L196.6,671.9 L198.9,675.6 L201.2,676.2 L203.6,674.1 L205.9,675.2 L208.2,675.6 L210.6,674.8 L212.9,675.7 L215.3,673.6 L217.6,675.0 L219.9,679.4 L222.3,679.5 L224.6,681.0 L226.9,681.7 L229.3,677.6 L231.6,682.5 L234.0,680.1 L236.3,679.4 L238.6,677.1 L241.0,683.0 L243.3,684.8 L245.7,685.9 L248.0,688.4 L250.3,685.2 L252.7,684.6" fill="none" stroke="#2438A4" stroke-width="0.85" stroke-linejoin="round"/>
<path d="M32.9,647.0 L35.3,642.2 L37.6,638.6 L40.0,642.2 L42.3,642.4 L44.6,640.7 L47.0,640.2 L49.3,640.3 L51.6,640.3 L54.0,636.0 L56.3,643.8 L58.6,642.3 L61.0,643.3 L63.3,640.8 L65.7,641.7 L68.0,640.1 L70.3,640.9 L72.7,636.4 L75.0,643.3 L77.3,643.8 L79.7,641.3 L82.0,643.6 L84.4,643.5 L86.7,647.5 L89.0,644.2 L91.4,645.4 L93.7,644.7 L96.0,648.2 L98.4,648.8 L100.7,650.1 L103.1,645.4 L105.4,652.0 L107.7,649.6 L110.1,649.7 L112.4,648.0 L114.8,650.1 L117.1,654.1 L119.4,652.4 L121.8,657.2 L124.1,653.0 L126.4,654.8 L128.8,657.2 L131.1,657.9 L133.4,656.1 L135.8,661.1 L138.1,655.5 L140.5,659.7 L142.8,656.4 L145.1,658.9 L147.5,656.2 L149.8,662.8 L152.1,660.6 L154.5,662.4 L156.8,664.7 L159.2,662.5 L161.5,664.7 L163.8,666.8 L166.2,666.8 L168.5,668.4 L170.8,668.1 L173.2,668.0 L175.5,665.9 L177.9,668.3 L180.2,670.9 L182.5,668.7 L184.9,670.9 L187.2,673.3 L189.6,675.0 L191.9,669.3 L194.2,672.1 L196.6,669.6 L198.9,675.0 L201.2,677.2 L203.6,672.1 L205.9,675.4 L208.2,676.7 L210.6,677.6 L212.9,680.1 L215.3,676.7 L217.6,681.1 L219.9,678.5 L222.3,682.3 L224.6,675.8 L226.9,678.5 L229.3,679.0 L231.6,686.0 L234.0,684.1 L236.3,686.3 L238.6,688.1 L241.0,689.2 L243.3,686.5 L245.7,688.1 L248.0,690.5 L250.3,692.2 L252.7,693.5" fill="none" stroke="#2438A4" stroke-width="0.85" stroke-linejoin="round"/>
<path d="M32.9,636.0 L35.3,634.9 L37.6,636.6 L40.0,636.4 L42.3,639.0 L44.6,634.8 L47.0,632.1 L49.3,633.6 L51.6,629.9 L54.0,633.5 L56.3,632.9 L58.6,630.3 L61.0,631.7 L63.3,634.5 L65.7,633.0 L68.0,634.4 L70.3,631.7 L72.7,631.9 L75.0,634.5 L77.3,633.9 L79.7,631.3 L82.0,632.3 L84.4,633.5 L86.7,636.5 L89.0,638.7 L91.4,640.1 L93.7,637.0 L96.0,641.1 L98.4,639.5 L100.7,636.8 L103.1,643.5 L105.4,641.7 L107.7,644.6 L110.1,644.0 L112.4,642.8 L114.8,646.3 L117.1,648.5 L119.4,647.6 L121.8,646.5 L124.1,647.9 L126.4,650.1 L128.8,647.6 L131.1,651.3 L133.4,653.6 L135.8,651.3 L138.1,646.5 L140.5,651.4 L142.8,652.4 L145.1,655.3 L147.5,655.6 L149.8,657.3 L152.1,655.2 L154.5,657.1 L156.8,658.4 L159.2,655.4 L161.5,660.2 L163.8,656.8 L166.2,658.7 L168.5,661.3 L170.8,660.5 L173.2,661.2 L175.5,660.6 L177.9,662.0 L180.2,658.2 L182.5,659.3 L184.9,659.9 L187.2,665.7 L189.6,665.9 L191.9,663.0 L194.2,663.9 L196.6,665.8 L198.9,667.1 L201.2,665.4 L203.6,671.9 L205.9,671.9 L208.2,673.6 L210.6,668.9 L212.9,673.6 L215.3,673.0 L217.6,669.7 L219.9,672.9 L222.3,673.1 L224.6,674.2 L226.9,673.7 L229.3,670.7 L231.6,677.9 L234.0,678.1 L236.3,675.1 L238.6,673.2 L241.0,679.0 L243.3,677.9 L245.7,679.9 L248.0,681.3 L250.3,687.0 L252.7,690.0" fill="none" stroke="#2438A4" stroke-width="0.85" stroke-linejoin="round"/>
<path d="M32.9,633.5 L35.3,633.6 L37.6,633.1 L40.0,635.3 L42.3,628.9 L44.6,630.8 L47.0,623.6 L49.3,628.7 L51.6,628.4 L54.0,627.1 L56.3,629.3 L58.6,631.4 L61.0,630.7 L63.3,628.8 L65.7,629.4 L68.0,623.1 L70.3,627.5 L72.7,625.4 L75.0,624.5 L77.3,625.8 L79.7,629.4 L82.0,626.3 L84.4,624.3 L86.7,625.7 L89.0,626.5 L91.4,632.4 L93.7,631.4 L96.0,628.9 L98.4,627.2 L100.7,625.4 L103.1,627.7 L105.4,627.2 L107.7,630.3 L110.1,627.2 L112.4,626.1 L114.8,628.2 L117.1,626.2 L119.4,629.1 L121.8,630.7 L124.1,630.9 L126.4,625.3 L128.8,633.2 L131.1,631.2 L133.4,632.3 L135.8,631.8 L138.1,636.0 L140.5,632.0 L142.8,631.3 L145.1,633.8 L147.5,635.3 L149.8,634.9 L152.1,632.9 L154.5,639.0 L156.8,633.7 L159.2,637.0 L161.5,635.4 L163.8,639.6 L166.2,634.1 L168.5,637.2 L170.8,634.7 L173.2,640.5 L175.5,642.8 L177.9,639.3 L180.2,639.8 L182.5,641.4 L184.9,640.0 L187.2,642.1 L189.6,645.2 L191.9,650.5 L194.2,653.6 L196.6,647.5 L198.9,646.3 L201.2,650.2 L203.6,648.1 L205.9,649.8 L208.2,650.2 L210.6,648.4 L212.9,654.8 L215.3,652.2 L217.6,651.5 L219.9,653.6 L222.3,653.7 L224.6,657.5 L226.9,655.8 L229.3,654.5 L231.6,654.1 L234.0,658.2 L236.3,656.0 L238.6,657.1 L241.0,656.8 L243.3,659.0 L245.7,658.3 L248.0,659.6 L250.3,654.6 L252.7,660.5" fill="none" stroke="#3F82C0" stroke-width="0.85" stroke-linejoin="round"/>
<path d="M32.9,632.2 L35.3,634.6 L37.6,637.8 L40.0,633.3 L42.3,629.7 L44.6,629.5 L47.0,629.1 L49.3,632.7 L51.6,630.7 L54.0,634.2 L56.3,626.8 L58.6,625.0 L61.0,630.9 L63.3,630.9 L65.7,632.8 L68.0,632.0 L70.3,630.9 L72.7,632.3 L75.0,630.8 L77.3,627.5 L79.7,628.8 L82.0,626.6 L84.4,628.2 L86.7,628.0 L89.0,631.5 L91.4,626.9 L93.7,630.9 L96.0,630.2 L98.4,632.4 L100.7,628.6 L103.1,631.6 L105.4,628.5 L107.7,624.2 L110.1,627.1 L112.4,634.9 L114.8,629.1 L117.1,629.7 L119.4,628.9 L121.8,629.5 L124.1,628.0 L126.4,628.2 L128.8,631.3 L131.1,635.6 L133.4,634.2 L135.8,632.0 L138.1,638.4 L140.5,635.5 L142.8,640.1 L145.1,634.3 L147.5,631.1 L149.8,633.0 L152.1,637.4 L154.5,636.0 L156.8,634.6 L159.2,633.7 L161.5,634.6 L163.8,636.1 L166.2,642.4 L168.5,642.4 L170.8,641.4 L173.2,642.7 L175.5,648.7 L177.9,646.4 L180.2,647.6 L182.5,646.0 L184.9,645.7 L187.2,650.7 L189.6,650.9 L191.9,649.1 L194.2,652.2 L196.6,651.0 L198.9,653.2 L201.2,654.0 L203.6,650.6 L205.9,652.7 L208.2,654.9 L210.6,650.7 L212.9,654.7 L215.3,655.6 L217.6,656.2 L219.9,649.1 L222.3,653.6 L224.6,654.8 L226.9,658.8 L229.3,657.3 L231.6,656.6 L234.0,662.7 L236.3,660.9 L238.6,657.6 L241.0,656.6 L243.3,660.7 L245.7,657.0 L248.0,664.0 L250.3,662.0 L252.7,663.1" fill="none" stroke="#3F82C0" stroke-width="0.85" stroke-linejoin="round"/>
<path d="M32.9,641.1 L35.3,636.1 L37.6,640.0 L40.0,639.6 L42.3,638.0 L44.6,639.7 L47.0,634.8 L49.3,636.7 L51.6,638.9 L54.0,636.1 L56.3,635.7 L58.6,637.8 L61.0,637.2 L63.3,633.7 L65.7,632.8 L68.0,637.8 L70.3,633.6 L72.7,632.4 L75.0,631.6 L77.3,635.0 L79.7,636.7 L82.0,635.8 L84.4,636.8 L86.7,636.3 L89.0,637.0 L91.4,636.7 L93.7,637.2 L96.0,636.3 L98.4,635.9 L100.7,636.9 L103.1,638.0 L105.4,633.8 L107.7,634.3 L110.1,635.6 L112.4,639.3 L114.8,637.3 L117.1,638.7 L119.4,637.7 L121.8,638.6 L124.1,634.0 L126.4,638.5 L128.8,642.5 L131.1,639.4 L133.4,638.6 L135.8,638.4 L138.1,647.4 L140.5,646.8 L142.8,646.7 L145.1,648.9 L147.5,646.1 L149.8,644.5 L152.1,643.5 L154.5,644.0 L156.8,646.5 L159.2,644.4 L161.5,647.0 L163.8,655.0 L166.2,652.4 L168.5,653.1 L170.8,651.3 L173.2,652.9 L175.5,653.7 L177.9,650.6 L180.2,654.9 L182.5,658.1 L184.9,655.9 L187.2,654.9 L189.6,656.8 L191.9,657.6 L194.2,659.6 L196.6,662.3 L198.9,662.4 L201.2,663.6 L203.6,659.3 L205.9,661.9 L208.2,659.4 L210.6,662.6 L212.9,665.7 L215.3,664.7 L217.6,664.9 L219.9,662.9 L222.3,670.2 L224.6,669.3 L226.9,667.6 L229.3,670.1 L231.6,669.4 L234.0,670.5 L236.3,667.4 L238.6,667.3 L241.0,675.0 L243.3,676.6 L245.7,675.8 L248.0,674.3 L250.3,674.5 L252.7,675.6" fill="none" stroke="#3F82C0" stroke-width="0.85" stroke-linejoin="round"/>
<path d="M32.9,639.1 L35.3,638.0 L37.6,638.7 L40.0,639.5 L42.3,638.8 L44.6,640.2 L47.0,636.8 L49.3,635.5 L51.6,638.9 L54.0,634.4 L56.3,636.3 L58.6,634.8 L61.0,636.0 L63.3,636.7 L65.7,634.9 L68.0,638.0 L70.3,637.3 L72.7,639.2 L75.0,636.0 L77.3,636.6 L79.7,637.1 L82.0,637.7 L84.4,635.4 L86.7,635.6 L89.0,636.8 L91.4,637.8 L93.7,633.3 L96.0,632.7 L98.4,638.5 L100.7,635.2 L103.1,635.9 L105.4,636.8 L107.7,637.0 L110.1,641.3 L112.4,634.3 L114.8,633.4 L117.1,637.8 L119.4,639.5 L121.8,640.0 L124.1,642.2 L126.4,640.5 L128.8,641.6 L131.1,644.6 L133.4,644.5 L135.8,645.2 L138.1,645.7 L140.5,645.7 L142.8,643.9 L145.1,646.1 L147.5,649.8 L149.8,644.6 L152.1,647.9 L154.5,644.8 L156.8,647.0 L159.2,647.4 L161.5,651.1 L163.8,650.5 L166.2,651.9 L168.5,652.0 L170.8,651.4 L173.2,653.6 L175.5,652.0 L177.9,657.0 L180.2,658.2 L182.5,655.7 L184.9,655.3 L187.2,654.4 L189.6,653.4 L191.9,656.2 L194.2,656.9 L196.6,658.7 L198.9,659.9 L201.2,661.3 L203.6,661.8 L205.9,663.9 L208.2,664.1 L210.6,662.6 L212.9,663.3 L215.3,662.6 L217.6,666.4 L219.9,667.8 L222.3,666.9 L224.6,670.0 L226.9,671.5 L229.3,669.0 L231.6,670.8 L234.0,669.2 L236.3,670.9 L238.6,673.0 L241.0,675.4 L243.3,671.6 L245.7,673.7 L248.0,676.5 L250.3,679.1 L252.7,679.7" fill="none" stroke="#3F82C0" stroke-width="0.85" stroke-linejoin="round"/>
<path d="M32.9,635.5 L35.3,631.3 L37.6,634.7 L40.0,632.8 L42.3,632.0 L44.6,639.2 L47.0,636.6 L49.3,631.0 L51.6,635.4 L54.0,629.5 L56.3,629.9 L58.6,633.6 L61.0,626.7 L63.3,628.9 L65.7,625.7 L68.0,627.6 L70.3,630.2 L72.7,626.8 L75.0,624.2 L77.3,624.6 L79.7,630.1 L82.0,627.7 L84.4,631.0 L86.7,630.8 L89.0,626.5 L91.4,631.4 L93.7,624.3 L96.0,631.1 L98.4,632.8 L100.7,628.9 L103.1,630.0 L105.4,630.4 L107.7,632.4 L110.1,629.5 L112.4,630.0 L114.8,631.1 L117.1,633.2 L119.4,635.7 L121.8,633.4 L124.1,637.8 L126.4,636.0 L128.8,633.0 L131.1,632.2 L133.4,634.8 L135.8,640.7 L138.1,635.9 L140.5,634.1 L142.8,635.8 L145.1,633.9 L147.5,634.4 L149.8,640.9 L152.1,640.1 L154.5,640.8 L156.8,636.9 L159.2,637.3 L161.5,640.0 L163.8,640.3 L166.2,640.1 L168.5,644.1 L170.8,644.6 L173.2,645.1 L175.5,646.5 L177.9,647.2 L180.2,646.7 L182.5,650.4 L184.9,651.8 L187.2,648.4 L189.6,646.3 L191.9,645.4 L194.2,653.7 L196.6,652.0 L198.9,654.8 L201.2,655.5 L203.6,655.5 L205.9,654.7 L208.2,654.7 L210.6,661.8 L212.9,660.5 L215.3,656.9 L217.6,658.5 L219.9,663.4 L222.3,664.0 L224.6,664.3 L226.9,660.9 L229.3,658.7 L231.6,665.0 L234.0,663.8 L236.3,665.7 L238.6,664.9 L241.0,667.0 L243.3,670.1 L245.7,670.4 L248.0,671.0 L250.3,667.0 L252.7,671.2" fill="none" stroke="#3F82C0" stroke-width="0.85" stroke-linejoin="round"/>
<path d="M32.9,631.6 L35.3,634.8 L37.6,634.2 L40.0,630.8 L42.3,631.5 L44.6,623.6 L47.0,622.5 L49.3,628.9 L51.6,625.3 L54.0,620.7 L56.3,626.8 L58.6,625.7 L61.0,619.2 L63.3,623.6 L65.7,620.0 L68.0,620.5 L70.3,619.3 L72.7,622.0 L75.0,619.4 L77.3,619.2 L79.7,612.1 L82.0,612.7 L84.4,613.9 L86.7,614.1 L89.0,611.5 L91.4,617.0 L93.7,616.3 L96.0,615.3 L98.4,614.1 L100.7,615.7 L103.1,609.3 L105.4,609.7 L107.7,604.1 L110.1,606.0 L112.4,606.7 L114.8,604.0 L117.1,602.6 L119.4,603.7 L121.8,600.9 L124.1,597.5 L126.4,600.9 L128.8,596.2 L131.1,598.6 L133.4,595.6 L135.8,596.8 L138.1,597.5 L140.5,595.1 L142.8,598.0 L145.1,599.7 L147.5,595.0 L149.8,593.5 L152.1,595.1 L154.5,585.4 L156.8,586.9 L159.2,590.1 L161.5,586.8 L163.8,585.1 L166.2,586.8 L168.5,586.2 L170.8,590.3 L173.2,584.7 L175.5,577.6 L177.9,577.0 L180.2,576.6 L182.5,580.7 L184.9,582.8 L187.2,577.0 L189.6,576.5 L191.9,577.2 L194.2,577.3 L196.6,573.0 L198.9,572.1 L201.2,574.6 L203.6,573.7 L205.9,577.5 L208.2,576.7 L210.6,570.8 L212.9,571.6 L215.3,572.6 L217.6,569.0 L219.9,564.6 L222.3,569.0 L224.6,568.4 L226.9,567.7 L229.3,559.1 L231.6,560.4 L234.0,562.7 L236.3,568.1 L238.6,563.0 L241.0,561.8 L243.3,563.6 L245.7,565.6 L248.0,565.2 L250.3,568.5 L252.7,565.8" fill="none" stroke="#A81C26" stroke-width="0.85" stroke-linejoin="round"/>
<path d="M32.9,636.8 L35.3,637.2 L37.6,635.5 L40.0,638.1 L42.3,630.3 L44.6,631.2 L47.0,633.8 L49.3,628.3 L51.6,626.7 L54.0,628.8 L56.3,631.3 L58.6,627.8 L61.0,624.7 L63.3,622.7 L65.7,620.7 L68.0,619.8 L70.3,625.9 L72.7,622.5 L75.0,626.8 L77.3,619.2 L79.7,618.1 L82.0,615.7 L84.4,617.1 L86.7,617.1 L89.0,618.2 L91.4,624.6 L93.7,618.4 L96.0,607.9 L98.4,608.0 L100.7,612.0 L103.1,611.0 L105.4,609.8 L107.7,612.0 L110.1,610.4 L112.4,608.4 L114.8,609.7 L117.1,606.8 L119.4,603.1 L121.8,602.7 L124.1,603.6 L126.4,604.7 L128.8,601.8 L131.1,604.1 L133.4,604.5 L135.8,598.5 L138.1,601.0 L140.5,604.0 L142.8,597.9 L145.1,595.9 L147.5,593.6 L149.8,595.9 L152.1,592.4 L154.5,594.5 L156.8,597.2 L159.2,595.0 L161.5,592.5 L163.8,595.2 L166.2,592.8 L168.5,590.2 L170.8,590.9 L173.2,589.1 L175.5,588.4 L177.9,589.9 L180.2,586.5 L182.5,584.3 L184.9,590.6 L187.2,588.1 L189.6,582.5 L191.9,581.4 L194.2,587.5 L196.6,582.6 L198.9,577.3 L201.2,576.8 L203.6,576.5 L205.9,578.5 L208.2,578.1 L210.6,581.1 L212.9,578.2 L215.3,570.3 L217.6,574.3 L219.9,577.8 L222.3,574.2 L224.6,580.3 L226.9,569.3 L229.3,570.5 L231.6,573.2 L234.0,574.1 L236.3,575.7 L238.6,573.0 L241.0,572.3 L243.3,576.7 L245.7,570.5 L248.0,572.6 L250.3,575.3 L252.7,570.3" fill="none" stroke="#A81C26" stroke-width="0.85" stroke-linejoin="round"/>
<path d="M32.9,635.7 L35.3,637.8 L37.6,637.7 L40.0,633.4 L42.3,634.9 L44.6,633.6 L47.0,630.2 L49.3,634.4 L51.6,635.9 L54.0,634.5 L56.3,633.1 L58.6,630.9 L61.0,627.8 L63.3,629.6 L65.7,625.1 L68.0,626.6 L70.3,631.5 L72.7,628.3 L75.0,625.4 L77.3,623.3 L79.7,626.2 L82.0,625.4 L84.4,619.7 L86.7,622.2 L89.0,625.0 L91.4,626.7 L93.7,624.5 L96.0,621.8 L98.4,623.8 L100.7,618.7 L103.1,621.4 L105.4,624.4 L107.7,619.4 L110.1,618.9 L112.4,618.9 L114.8,615.3 L117.1,618.0 L119.4,615.6 L121.8,617.2 L124.1,612.6 L126.4,614.4 L128.8,614.5 L131.1,613.0 L133.4,613.6 L135.8,612.2 L138.1,613.0 L140.5,610.9 L142.8,611.2 L145.1,612.2 L147.5,609.7 L149.8,608.8 L152.1,611.5 L154.5,610.2 L156.8,612.5 L159.2,609.0 L161.5,605.9 L163.8,601.2 L166.2,604.1 L168.5,603.0 L170.8,601.4 L173.2,602.2 L175.5,607.8 L177.9,606.1 L180.2,603.5 L182.5,602.5 L184.9,602.3 L187.2,604.2 L189.6,606.5 L191.9,602.1 L194.2,598.8 L196.6,601.1 L198.9,599.3 L201.2,600.9 L203.6,600.3 L205.9,600.8 L208.2,597.7 L210.6,600.4 L212.9,598.7 L215.3,596.3 L217.6,597.5 L219.9,600.3 L222.3,597.5 L224.6,597.8 L226.9,600.2 L229.3,598.4 L231.6,598.1 L234.0,596.1 L236.3,597.8 L238.6,597.2 L241.0,596.0 L243.3,601.2 L245.7,596.7 L248.0,597.6 L250.3,600.4 L252.7,599.0" fill="none" stroke="#A81C26" stroke-width="0.85" stroke-linejoin="round"/>
<path d="M32.9,636.4 L35.3,639.4 L37.6,638.8 L40.0,634.1 L42.3,631.8 L44.6,629.7 L47.0,632.9 L49.3,635.6 L51.6,636.0 L54.0,634.3 L56.3,634.9 L58.6,631.5 L61.0,628.4 L63.3,632.1 L65.7,627.3 L68.0,630.7 L70.3,630.8 L72.7,632.0 L75.0,627.4 L77.3,627.4 L79.7,626.8 L82.0,632.6 L84.4,629.0 L86.7,625.6 L89.0,630.9 L91.4,621.9 L93.7,622.4 L96.0,620.5 L98.4,622.5 L100.7,620.2 L103.1,618.3 L105.4,614.5 L107.7,620.8 L110.1,615.6 L112.4,620.5 L114.8,618.9 L117.1,619.2 L119.4,618.4 L121.8,621.6 L124.1,618.6 L126.4,619.3 L128.8,617.0 L131.1,614.8 L133.4,614.3 L135.8,614.0 L138.1,610.3 L140.5,611.1 L142.8,610.4 L145.1,608.2 L147.5,610.2 L149.8,610.0 L152.1,608.4 L154.5,609.6 L156.8,606.3 L159.2,609.0 L161.5,608.6 L163.8,607.9 L166.2,607.8 L168.5,606.7 L170.8,607.1 L173.2,611.0 L175.5,604.2 L177.9,605.3 L180.2,602.8 L182.5,605.6 L184.9,602.6 L187.2,605.5 L189.6,600.1 L191.9,601.7 L194.2,602.6 L196.6,607.9 L198.9,607.9 L201.2,603.9 L203.6,602.8 L205.9,602.2 L208.2,601.6 L210.6,598.0 L212.9,599.8 L215.3,600.2 L217.6,600.9 L219.9,601.7 L222.3,598.8 L224.6,599.5 L226.9,599.6 L229.3,598.2 L231.6,598.3 L234.0,596.8 L236.3,596.5 L238.6,601.0 L241.0,601.4 L243.3,597.9 L245.7,600.0 L248.0,598.7 L250.3,601.9 L252.7,606.6" fill="none" stroke="#A81C26" stroke-width="0.85" stroke-linejoin="round"/>
<path d="M32.9,642.6 L35.3,638.7 L37.6,637.9 L40.0,631.1 L42.3,632.1 L44.6,632.1 L47.0,631.1 L49.3,635.9 L51.6,633.3 L54.0,632.5 L56.3,627.3 L58.6,631.2 L61.0,633.6 L63.3,630.6 L65.7,629.9 L68.0,628.7 L70.3,627.6 L72.7,627.1 L75.0,628.3 L77.3,627.9 L79.7,621.4 L82.0,625.5 L84.4,623.9 L86.7,626.3 L89.0,628.2 L91.4,622.7 L93.7,622.2 L96.0,619.2 L98.4,618.5 L100.7,619.7 L103.1,621.8 L105.4,616.2 L107.7,618.2 L110.1,613.8 L112.4,615.3 L114.8,614.8 L117.1,614.9 L119.4,614.9 L121.8,615.9 L124.1,610.3 L126.4,615.3 L128.8,617.7 L131.1,614.1 L133.4,614.7 L135.8,611.0 L138.1,612.0 L140.5,608.9 L142.8,610.0 L145.1,611.9 L147.5,611.1 L149.8,608.3 L152.1,610.0 L154.5,610.7 L156.8,609.1 L159.2,607.3 L161.5,604.5 L163.8,605.1 L166.2,604.1 L168.5,605.7 L170.8,601.6 L173.2,599.3 L175.5,604.5 L177.9,603.9 L180.2,604.2 L182.5,603.1 L184.9,603.9 L187.2,604.7 L189.6,606.0 L191.9,604.5 L194.2,602.6 L196.6,599.6 L198.9,599.5 L201.2,601.3 L203.6,602.2 L205.9,604.1 L208.2,599.8 L210.6,599.6 L212.9,598.3 L215.3,597.5 L217.6,597.6 L219.9,598.9 L222.3,599.7 L224.6,601.4 L226.9,601.2 L229.3,598.8 L231.6,594.2 L234.0,598.7 L236.3,598.7 L238.6,592.5 L241.0,597.5 L243.3,600.2 L245.7,600.5 L248.0,601.5 L250.3,605.7 L252.7,601.4" fill="none" stroke="#A81C26" stroke-width="0.85" stroke-linejoin="round"/>
<path d="M32.9,638.6 L35.3,635.3 L37.6,634.6 L40.0,632.1 L42.3,632.4 L44.6,632.7 L47.0,633.2 L49.3,630.6 L51.6,630.7 L54.0,631.2 L56.3,632.3 L58.6,631.3 L61.0,628.4 L63.3,630.9 L65.7,627.6 L68.0,626.4 L70.3,623.4 L72.7,626.1 L75.0,627.3 L77.3,625.4 L79.7,625.1 L82.0,629.5 L84.4,622.2 L86.7,621.8 L89.0,621.5 L91.4,623.2 L93.7,620.8 L96.0,621.1 L98.4,616.8 L100.7,617.1 L103.1,615.3 L105.4,620.1 L107.7,620.5 L110.1,619.2 L112.4,618.9 L114.8,613.7 L117.1,614.4 L119.4,617.4 L121.8,616.2 L124.1,610.9 L126.4,613.6 L128.8,612.0 L131.1,616.3 L133.4,614.7 L135.8,612.9 L138.1,612.3 L140.5,611.1 L142.8,609.7 L145.1,607.2 L147.5,612.3 L149.8,609.6 L152.1,607.0 L154.5,607.0 L156.8,604.6 L159.2,606.3 L161.5,607.2 L163.8,608.0 L166.2,604.1 L168.5,607.4 L170.8,606.3 L173.2,604.8 L175.5,602.6 L177.9,603.6 L180.2,605.1 L182.5,601.9 L184.9,604.4 L187.2,604.0 L189.6,606.4 L191.9,602.2 L194.2,600.7 L196.6,604.1 L198.9,601.6 L201.2,598.9 L203.6,600.6 L205.9,603.0 L208.2,600.1 L210.6,597.5 L212.9,601.9 L215.3,597.2 L217.6,597.6 L219.9,595.4 L222.3,598.9 L224.6,595.5 L226.9,595.8 L229.3,594.8 L231.6,596.0 L234.0,594.4 L236.3,596.4 L238.6,597.7 L241.0,599.4 L243.3,601.2 L245.7,598.4 L248.0,598.6 L250.3,598.4 L252.7,599.1" fill="none" stroke="#A81C26" stroke-width="0.85" stroke-linejoin="round"/>
<path d="M33.3,638.2 L36.1,637.7 L38.9,637.3 L41.6,636.9 L44.4,636.7 L47.2,636.5 L50.0,636.4 L52.7,636.4 L55.5,636.5 L58.3,636.6 L61.1,636.8 L63.8,637.1 L66.6,637.4 L69.4,637.8 L72.2,638.2 L74.9,638.7 L77.7,639.2 L80.5,639.8 L83.3,640.3 L86.0,641.0 L88.8,641.6 L91.6,642.3 L94.4,643.0 L97.1,643.7 L99.9,644.4 L102.7,645.2 L105.5,645.9 L108.3,646.7 L111.0,647.5 L113.8,648.3 L116.6,649.1 L119.4,649.9 L122.1,650.7 L124.9,651.5 L127.7,652.3 L130.5,653.0 L133.2,653.8 L136.0,654.6 L138.8,655.4 L141.6,656.2 L144.3,656.9 L147.1,657.7 L149.9,658.4 L152.7,659.2 L155.4,659.9 L158.2,660.6 L161.0,661.3 L163.8,662.0 L166.5,662.7 L169.3,663.4 L172.1,664.1 L174.9,664.8 L177.6,665.4 L180.4,666.1 L183.2,666.7 L186.0,667.4 L188.8,668.0 L191.5,668.7 L194.3,669.3 L197.1,670.0 L199.9,670.6 L202.6,671.3 L205.4,672.0 L208.2,672.7 L211.0,673.3 L213.7,674.0 L216.5,674.8 L219.3,675.5 L222.1,676.3 L224.8,677.1 L227.6,677.9 L230.4,678.7 L233.2,679.6 L235.9,680.5 L238.7,681.5 L241.5,682.5 L244.3,683.5 L247.0,684.6 L249.8,685.8 L252.6,687.0" fill="none" stroke="#2E4EA3" stroke-width="4.5" stroke-linejoin="round"/>
<path d="M33.3,636.6 L36.1,636.1 L38.9,635.7 L41.6,635.2 L44.4,634.9 L47.2,634.5 L50.0,634.2 L52.7,633.9 L55.5,633.7 L58.3,633.5 L61.1,633.3 L63.8,633.1 L66.6,633.0 L69.4,633.0 L72.2,632.9 L74.9,632.9 L77.7,633.0 L80.5,633.0 L83.3,633.1 L86.0,633.3 L88.8,633.4 L91.6,633.6 L94.4,633.9 L97.1,634.1 L99.9,634.4 L102.7,634.7 L105.5,635.0 L108.3,635.4 L111.0,635.8 L113.8,636.2 L116.6,636.6 L119.4,637.1 L122.1,637.6 L124.9,638.1 L127.7,638.6 L130.5,639.2 L133.2,639.8 L136.0,640.4 L138.8,641.0 L141.6,641.6 L144.3,642.3 L147.1,642.9 L149.9,643.6 L152.7,644.3 L155.4,645.0 L158.2,645.8 L161.0,646.5 L163.8,647.3 L166.5,648.0 L169.3,648.8 L172.1,649.6 L174.9,650.4 L177.6,651.2 L180.4,652.0 L183.2,652.8 L186.0,653.6 L188.8,654.5 L191.5,655.3 L194.3,656.1 L197.1,656.9 L199.9,657.8 L202.6,658.6 L205.4,659.4 L208.2,660.2 L211.0,661.1 L213.7,661.9 L216.5,662.7 L219.3,663.5 L222.1,664.3 L224.8,665.0 L227.6,665.8 L230.4,666.6 L233.2,667.3 L235.9,668.0 L238.7,668.7 L241.5,669.4 L244.3,670.1 L247.0,670.8 L249.8,671.4 L252.6,672.0" fill="none" stroke="#8DBDE6" stroke-width="4.5" stroke-linejoin="round"/>
<path d="M33.3,634.9 L36.1,634.0 L38.9,633.1 L41.6,632.2 L44.4,631.4 L47.2,630.6 L50.0,629.8 L52.7,629.0 L55.5,628.3 L58.3,627.5 L61.1,626.8 L63.8,626.1 L66.6,625.4 L69.4,624.6 L72.2,623.9 L74.9,623.2 L77.7,622.6 L80.5,621.9 L83.3,621.2 L86.0,620.5 L88.8,619.8 L91.6,619.1 L94.4,618.4 L97.1,617.7 L99.9,617.0 L102.7,616.3 L105.5,615.6 L108.3,614.9 L111.0,614.2 L113.8,613.5 L116.6,612.8 L119.4,612.1 L122.1,611.3 L124.9,610.6 L127.7,609.9 L130.5,609.1 L133.2,608.4 L136.0,607.7 L138.8,606.9 L141.6,606.2 L144.3,605.5 L147.1,604.7 L149.9,604.0 L152.7,603.3 L155.4,602.6 L158.2,601.9 L161.0,601.2 L163.8,600.5 L166.5,599.8 L169.3,599.1 L172.1,598.5 L174.9,597.8 L177.6,597.2 L180.4,596.6 L183.2,596.0 L186.0,595.4 L188.8,594.9 L191.5,594.4 L194.3,593.9 L197.1,593.5 L199.9,593.1 L202.6,592.7 L205.4,592.4 L208.2,592.1 L211.0,591.8 L213.7,591.6 L216.5,591.5 L219.3,591.4 L222.1,591.4 L224.8,591.4 L227.6,591.5 L230.4,591.7 L233.2,591.9 L235.9,592.2 L238.7,592.6 L241.5,593.0 L244.3,593.6 L247.0,594.2 L249.8,595.0 L252.6,595.8" fill="none" stroke="#ED1C24" stroke-width="4.5" stroke-linejoin="round"/>
<path d="M44.62,770.2v-2.2M44.62,537.5v2.2M56.31,770.2v-2.2M56.31,537.5v2.2M68.00,770.2v-4.3M68.00,537.5v4.3M79.69,770.2v-2.2M79.69,537.5v2.2M91.38,770.2v-2.2M91.38,537.5v2.2M103.06,770.2v-2.2M103.06,537.5v2.2M114.75,770.2v-4.3M114.75,537.5v4.3M126.44,770.2v-2.2M126.44,537.5v2.2M138.12,770.2v-2.2M138.12,537.5v2.2M149.81,770.2v-2.2M149.81,537.5v2.2M161.50,770.2v-4.3M161.50,537.5v4.3M173.19,770.2v-2.2M173.19,537.5v2.2M184.88,770.2v-2.2M184.88,537.5v2.2M196.56,770.2v-2.2M196.56,537.5v2.2M208.25,770.2v-4.3M208.25,537.5v4.3M219.94,770.2v-2.2M219.94,537.5v2.2M231.62,770.2v-2.2M231.62,537.5v2.2M243.31,770.2v-2.2M243.31,537.5v2.2M255.00,770.2v-4.3M255.00,537.5v4.3M32.9,762.93h4.3M257.3,762.93h-4.3M32.9,753.84h2.2M257.3,753.84h-2.2M32.9,744.75h2.2M257.3,744.75h-2.2M32.9,735.66h2.2M257.3,735.66h-2.2M32.9,726.57h4.3M257.3,726.57h-4.3M32.9,717.48h2.2M257.3,717.48h-2.2M32.9,708.39h2.2M257.3,708.39h-2.2M32.9,699.30h2.2M257.3,699.30h-2.2M32.9,690.21h4.3M257.3,690.21h-4.3M32.9,681.12h2.2M257.3,681.12h-2.2M32.9,672.03h2.2M257.3,672.03h-2.2M32.9,662.94h2.2M257.3,662.94h-2.2M32.9,653.85h4.3M257.3,653.85h-4.3M32.9,644.76h2.2M257.3,644.76h-2.2M32.9,635.67h2.2M257.3,635.67h-2.2M32.9,626.58h2.2M257.3,626.58h-2.2M32.9,617.49h4.3M257.3,617.49h-4.3M32.9,608.40h2.2M257.3,608.40h-2.2M32.9,599.31h2.2M257.3,599.31h-2.2M32.9,590.22h2.2M257.3,590.22h-2.2M32.9,581.13h4.3M257.3,581.13h-4.3M32.9,572.04h2.2M257.3,572.04h-2.2M32.9,562.95h2.2M257.3,562.95h-2.2M32.9,553.86h2.2M257.3,553.86h-2.2M32.9,544.77h4.3M257.3,544.77h-4.3" stroke="#000" stroke-width="1.3" fill="none"/>
<rect x="32.9" y="537.5" width="224.4" height="232.7" fill="none" stroke="#000" stroke-width="1.75" stroke-linejoin="round"/>
<text font-size="18.5" fill="#000"><tspan x="6.32" y="769.9" textLength="6.74" lengthAdjust="spacingAndGlyphs">−</tspan><tspan x="13.11" y="769.9" textLength="10.68" lengthAdjust="spacingAndGlyphs">5</tspan></text>
<text x="13.11" y="733.6" font-size="18.5" textLength="10.68" lengthAdjust="spacingAndGlyphs" fill="#000">0</text>
<text x="13.11" y="697.2" font-size="18.5" textLength="10.68" lengthAdjust="spacingAndGlyphs" fill="#000">5</text>
<text x="2.46" y="660.9" font-size="18.5" textLength="21.36" lengthAdjust="spacingAndGlyphs" fill="#000">10</text>
<text x="2.46" y="624.5" font-size="18.5" textLength="21.36" lengthAdjust="spacingAndGlyphs" fill="#000">15</text>
<text x="2.46" y="588.1" font-size="18.5" textLength="21.36" lengthAdjust="spacingAndGlyphs" fill="#000">20</text>
<text x="-1.11" y="551.8" font-size="19.4" textLength="27.20" lengthAdjust="spacingAndGlyphs" fill="#000">DU</text>
<text x="40.77" y="561.7" font-size="19.4" textLength="112.14" lengthAdjust="spacingAndGlyphs" fill="#000">(C) Eq-30°N</text>
</g>
<g transform="translate(0.6,0)">
<rect x="270.6" y="537.5" width="219.4" height="232.7" fill="#FAA61A"/>
<path d="M270.8,613.5 L272.6,612.2 L274.5,610.7 L276.3,609.0 L278.2,607.2 L280.0,605.1 L281.9,602.8 L283.7,600.3 L285.5,597.6 L287.4,594.9 L289.2,592.1 L291.1,589.1 L292.9,586.0 L294.7,582.8 L296.6,579.8 L298.4,577.0 L300.3,574.5 L302.1,572.2 L304.0,570.0 L305.8,568.0 L307.6,566.0 L309.5,564.2 L311.3,562.6 L313.2,561.1 L315.0,559.6 L316.9,558.3 L318.7,557.0 L320.5,555.9 L322.4,554.8 L324.2,553.8 L326.1,552.8 L327.9,551.9 L329.7,551.1 L331.6,550.3 L333.4,549.6 L335.3,548.9 L337.1,548.3 L339.0,547.7 L340.8,547.1 L342.6,546.6 L344.5,546.1 L346.3,545.7 L348.2,545.3 L350.0,544.9 L351.8,544.5 L353.7,544.1 L355.5,543.8 L357.4,543.5 L359.2,543.2 L361.1,542.9 L362.9,542.6 L364.7,542.4 L366.6,542.2 L368.4,541.9 L370.3,541.7 L372.1,541.5 L374.0,541.4 L375.8,541.2 L377.6,541.0 L379.5,540.8 L381.3,540.7 L383.2,540.5 L385.0,540.4 L386.8,540.3 L388.7,540.1 L390.5,540.0 L392.4,539.8 L394.2,539.7 L396.1,539.6 L397.9,539.5 L399.7,539.3 L401.6,539.2 L403.4,539.1 L405.3,539.0 L407.1,538.9 L409.0,538.8 L410.8,538.7 L412.6,538.7 L414.5,538.6 L416.3,538.6 L418.2,538.5 L420.0,538.5 L421.8,538.4 L423.7,538.4 L425.5,538.3 L427.4,538.3 L429.2,538.2 L431.1,538.2 L432.9,538.2 L434.7,538.1 L436.6,538.1 L438.4,538.1 L440.3,538.1 L442.1,538.0 L443.9,538.0 L445.8,538.0 L447.6,538.0 L449.5,538.0 L451.3,538.0 L453.2,538.0 L455.0,538.0 L456.8,538.0 L458.7,538.0 L460.5,538.0 L462.4,538.0 L464.2,538.0 L466.1,538.0 L467.9,538.0 L469.7,538.0 L471.6,538.0 L473.4,538.0 L475.3,538.0 L477.1,538.0 L478.9,538.0 L480.8,538.0 L482.6,538.0 L484.5,538.0 L486.3,538.0 L488.2,538.0 L490.0,538.0 L490.0,770.2 L270.6,770.2 Z" fill="#0F8242" stroke="#000" stroke-width="1.7" stroke-linejoin="round"/>
<path d="M270.8,633.1 L272.6,637.9 L274.5,642.7 L276.3,647.6 L278.2,652.6 L280.0,657.6 L281.9,662.9 L283.7,668.5 L285.5,674.4 L287.4,680.4 L289.2,686.2 L291.1,691.8 L292.9,697.4 L294.7,702.8 L296.6,708.1 L298.4,713.2 L300.3,717.8 L302.1,722.1 L304.0,726.0 L305.8,729.7 L307.6,733.1 L309.5,736.4 L311.3,739.4 L313.2,742.2 L315.0,744.9 L316.9,747.2 L318.7,749.3 L320.5,751.3 L322.4,752.9 L324.2,754.2 L326.1,755.4 L327.9,756.4 L329.7,757.4 L331.6,758.3 L333.4,759.0 L335.3,759.7 L337.1,760.3 L339.0,760.8 L340.8,761.3 L342.6,761.7 L344.5,762.1 L346.3,762.4 L348.2,762.6 L350.0,762.9 L351.8,763.1 L353.7,763.2 L355.5,763.4 L357.4,763.5 L359.2,763.6 L361.1,763.7 L362.9,763.8 L364.7,763.8 L366.6,763.9 L368.4,763.9 L370.3,763.9 L372.1,763.9 L374.0,763.9 L375.8,763.9 L377.6,763.8 L379.5,763.8 L381.3,763.8 L383.2,763.8 L385.0,763.7 L386.8,763.7 L388.7,763.6 L390.5,763.6 L392.4,763.5 L394.2,763.4 L396.1,763.3 L397.9,763.3 L399.7,763.2 L401.6,763.1 L403.4,763.0 L405.3,762.9 L407.1,762.7 L409.0,762.6 L410.8,762.4 L412.6,762.3 L414.5,762.1 L416.3,761.9 L418.2,761.8 L420.0,761.6 L421.8,761.5 L423.7,761.3 L425.5,761.2 L427.4,761.1 L429.2,761.1 L431.1,761.0 L432.9,760.9 L434.7,760.8 L436.6,760.8 L438.4,760.7 L440.3,760.6 L442.1,760.6 L443.9,760.6 L445.8,760.5 L447.6,760.5 L449.5,760.5 L451.3,760.5 L453.2,760.6 L455.0,760.6 L456.8,760.7 L458.7,760.8 L460.5,760.9 L462.4,761.1 L464.2,761.2 L466.1,761.4 L467.9,761.5 L469.7,761.7 L471.6,761.8 L473.4,762.0 L475.3,762.2 L477.1,762.4 L478.9,762.7 L480.8,763.0 L482.6,763.3 L484.5,763.6 L486.3,763.9 L488.2,764.2 L490.0,764.6 L490.0,770.2 L270.6,770.2 Z" fill="#3B54A5" stroke="#000" stroke-width="1.7" stroke-linejoin="round"/>
<line x1="490.4" y1="537.5" x2="490.4" y2="770.2" stroke="#000" stroke-width="0.9"/>
<path d="M282.62,770.2v-2.2M282.62,537.5v2.2M294.31,770.2v-2.2M294.31,537.5v2.2M306.00,770.2v-4.3M306.00,537.5v4.3M317.69,770.2v-2.2M317.69,537.5v2.2M329.38,770.2v-2.2M329.38,537.5v2.2M341.06,770.2v-2.2M341.06,537.5v2.2M352.75,770.2v-4.3M352.75,537.5v4.3M364.44,770.2v-2.2M364.44,537.5v2.2M376.12,770.2v-2.2M376.12,537.5v2.2M387.81,770.2v-2.2M387.81,537.5v2.2M399.50,770.2v-4.3M399.50,537.5v4.3M411.19,770.2v-2.2M411.19,537.5v2.2M422.88,770.2v-2.2M422.88,537.5v2.2M434.56,770.2v-2.2M434.56,537.5v2.2M446.25,770.2v-4.3M446.25,537.5v4.3M457.94,770.2v-2.2M457.94,537.5v2.2M469.62,770.2v-2.2M469.62,537.5v2.2M481.31,770.2v-2.2M481.31,537.5v2.2M493.00,770.2v-4.3M493.00,537.5v4.3M270.6,770.20h4.3M495.2,770.20h-4.3M270.6,758.57h2.2M495.2,758.57h-2.2M270.6,746.93h2.2M495.2,746.93h-2.2M270.6,735.30h2.2M495.2,735.30h-2.2M270.6,723.66h4.3M495.2,723.66h-4.3M270.6,712.03h2.2M495.2,712.03h-2.2M270.6,700.39h2.2M495.2,700.39h-2.2M270.6,688.75h2.2M495.2,688.75h-2.2M270.6,677.12h4.3M495.2,677.12h-4.3M270.6,665.49h2.2M495.2,665.49h-2.2M270.6,653.85h2.2M495.2,653.85h-2.2M270.6,642.22h2.2M495.2,642.22h-2.2M270.6,630.58h4.3M495.2,630.58h-4.3M270.6,618.95h2.2M495.2,618.95h-2.2M270.6,607.31h2.2M495.2,607.31h-2.2M270.6,595.67h2.2M495.2,595.67h-2.2M270.6,584.04h4.3M495.2,584.04h-4.3M270.6,572.40h2.2M495.2,572.40h-2.2M270.6,560.77h2.2M495.2,560.77h-2.2M270.6,549.13h2.2M495.2,549.13h-2.2M270.6,537.50h4.3M495.2,537.50h-4.3" stroke="#000" stroke-width="1.3" fill="none"/>
<rect x="270.6" y="537.5" width="224.6" height="232.7" fill="none" stroke="#000" stroke-width="1.75" stroke-linejoin="round"/>
<text x="500.04" y="731.7" font-size="18.3" textLength="21.36" lengthAdjust="spacingAndGlyphs" fill="#000">20</text>
<text x="500.52" y="685.1" font-size="18.3" textLength="21.36" lengthAdjust="spacingAndGlyphs" fill="#000">40</text>
<text x="500.04" y="638.6" font-size="18.3" textLength="21.36" lengthAdjust="spacingAndGlyphs" fill="#000">60</text>
<text x="500.14" y="592.0" font-size="18.3" textLength="21.36" lengthAdjust="spacingAndGlyphs" fill="#000">80</text>
<text x="499.6" y="544.9" font-size="16.8" fill="#000">%</text>
</g>
<g transform="translate(0.5,0)">
<line x1="32.9" y1="970.1" x2="257.3" y2="970.1" stroke="#000" stroke-width="1.7"/>
<path d="M32.9,909.1 L35.3,909.6 L37.6,911.0 L40.0,908.5 L42.3,904.8 L44.6,910.3 L47.0,911.0 L49.3,909.2 L51.6,911.6 L54.0,908.7 L56.3,911.6 L58.6,913.9 L61.0,914.2 L63.3,910.2 L65.7,915.9 L68.0,913.2 L70.3,917.5 L72.7,912.9 L75.0,912.5 L77.3,912.1 L79.7,909.1 L82.0,913.3 L84.4,912.2 L86.7,913.4 L89.0,913.1 L91.4,917.2 L93.7,914.7 L96.0,917.4 L98.4,914.7 L100.7,915.3 L103.1,917.8 L105.4,917.7 L107.7,918.1 L110.1,919.3 L112.4,914.7 L114.8,921.2 L117.1,924.7 L119.4,926.0 L121.8,924.4 L124.1,923.8 L126.4,922.4 L128.8,921.6 L131.1,923.3 L133.4,924.3 L135.8,927.3 L138.1,924.3 L140.5,922.8 L142.8,925.9 L145.1,925.3 L147.5,928.4 L149.8,928.2 L152.1,928.2 L154.5,926.8 L156.8,931.7 L159.2,930.1 L161.5,928.1 L163.8,928.9 L166.2,928.7 L168.5,935.8 L170.8,934.6 L173.2,933.5 L175.5,934.2 L177.9,938.1 L180.2,932.0 L182.5,932.2 L184.9,937.3 L187.2,935.9 L189.6,934.5 L191.9,932.3 L194.2,932.5 L196.6,936.4 L198.9,937.0 L201.2,935.5 L203.6,933.6 L205.9,936.3 L208.2,937.7 L210.6,935.7 L212.9,936.3 L215.3,934.0 L217.6,935.4 L219.9,934.9 L222.3,941.4 L224.6,942.3 L226.9,943.1 L229.3,941.7 L231.6,939.3 L234.0,940.2 L236.3,938.9 L238.6,941.6 L241.0,938.8 L243.3,938.5 L245.7,944.4 L248.0,945.0 L250.3,944.4 L252.7,941.4" fill="none" stroke="#2438A4" stroke-width="0.85" stroke-linejoin="round"/>
<path d="M32.9,913.0 L35.3,910.5 L37.6,916.4 L40.0,914.3 L42.3,914.1 L44.6,914.6 L47.0,914.5 L49.3,918.7 L51.6,914.8 L54.0,915.3 L56.3,917.4 L58.6,912.2 L61.0,915.4 L63.3,914.5 L65.7,916.4 L68.0,919.1 L70.3,917.7 L72.7,915.7 L75.0,918.3 L77.3,915.9 L79.7,912.8 L82.0,913.3 L84.4,917.0 L86.7,919.4 L89.0,916.6 L91.4,921.1 L93.7,922.0 L96.0,916.4 L98.4,918.0 L100.7,918.5 L103.1,920.7 L105.4,914.7 L107.7,912.6 L110.1,919.5 L112.4,919.7 L114.8,922.5 L117.1,922.0 L119.4,920.2 L121.8,920.1 L124.1,923.7 L126.4,923.7 L128.8,918.6 L131.1,921.5 L133.4,921.6 L135.8,923.8 L138.1,926.3 L140.5,929.5 L142.8,930.5 L145.1,932.6 L147.5,932.2 L149.8,931.9 L152.1,928.5 L154.5,933.1 L156.8,930.1 L159.2,934.8 L161.5,926.3 L163.8,931.0 L166.2,931.1 L168.5,927.8 L170.8,931.4 L173.2,932.0 L175.5,932.3 L177.9,931.7 L180.2,934.1 L182.5,930.1 L184.9,930.4 L187.2,932.9 L189.6,931.5 L191.9,934.2 L194.2,936.2 L196.6,936.0 L198.9,934.9 L201.2,939.3 L203.6,938.0 L205.9,936.1 L208.2,939.2 L210.6,937.2 L212.9,939.9 L215.3,938.0 L217.6,938.3 L219.9,937.6 L222.3,940.0 L224.6,943.8 L226.9,946.5 L229.3,933.4 L231.6,941.3 L234.0,942.5 L236.3,944.9 L238.6,939.0 L241.0,939.0 L243.3,939.0 L245.7,943.7 L248.0,940.5 L250.3,943.9 L252.7,940.7" fill="none" stroke="#2438A4" stroke-width="0.85" stroke-linejoin="round"/>
<path d="M32.9,922.1 L35.3,926.7 L37.6,923.0 L40.0,923.5 L42.3,916.1 L44.6,922.2 L47.0,921.6 L49.3,921.4 L51.6,922.6 L54.0,922.7 L56.3,921.2 L58.6,919.9 L61.0,921.3 L63.3,921.5 L65.7,921.0 L68.0,923.1 L70.3,922.3 L72.7,921.6 L75.0,919.3 L77.3,919.5 L79.7,920.2 L82.0,919.6 L84.4,923.5 L86.7,920.6 L89.0,923.3 L91.4,923.8 L93.7,924.8 L96.0,923.0 L98.4,925.6 L100.7,923.8 L103.1,925.7 L105.4,926.8 L107.7,925.4 L110.1,928.1 L112.4,924.6 L114.8,928.1 L117.1,928.9 L119.4,925.6 L121.8,930.9 L124.1,927.4 L126.4,928.5 L128.8,929.1 L131.1,929.3 L133.4,932.1 L135.8,927.5 L138.1,928.8 L140.5,929.2 L142.8,929.3 L145.1,929.2 L147.5,930.9 L149.8,934.4 L152.1,936.5 L154.5,937.5 L156.8,936.0 L159.2,932.6 L161.5,936.9 L163.8,936.3 L166.2,934.3 L168.5,935.9 L170.8,936.5 L173.2,938.7 L175.5,936.8 L177.9,938.1 L180.2,938.9 L182.5,938.7 L184.9,937.1 L187.2,935.5 L189.6,939.9 L191.9,937.7 L194.2,940.8 L196.6,943.6 L198.9,942.0 L201.2,940.0 L203.6,939.9 L205.9,939.0 L208.2,944.3 L210.6,938.4 L212.9,938.1 L215.3,938.6 L217.6,943.9 L219.9,941.1 L222.3,942.6 L224.6,943.2 L226.9,942.4 L229.3,946.0 L231.6,941.3 L234.0,940.2 L236.3,940.6 L238.6,939.6 L241.0,946.4 L243.3,945.6 L245.7,945.7 L248.0,948.0 L250.3,944.4 L252.7,939.7" fill="none" stroke="#2438A4" stroke-width="0.85" stroke-linejoin="round"/>
<path d="M32.9,927.3 L35.3,923.4 L37.6,923.8 L40.0,923.5 L42.3,923.4 L44.6,922.0 L47.0,924.3 L49.3,924.5 L51.6,919.9 L54.0,922.1 L56.3,922.8 L58.6,926.9 L61.0,923.3 L63.3,921.9 L65.7,922.3 L68.0,919.7 L70.3,926.8 L72.7,922.8 L75.0,927.2 L77.3,927.4 L79.7,929.7 L82.0,924.4 L84.4,925.1 L86.7,926.2 L89.0,925.7 L91.4,930.4 L93.7,928.8 L96.0,926.8 L98.4,928.1 L100.7,927.6 L103.1,931.0 L105.4,928.5 L107.7,929.0 L110.1,928.2 L112.4,925.3 L114.8,927.9 L117.1,930.5 L119.4,929.3 L121.8,932.5 L124.1,927.7 L126.4,930.1 L128.8,931.0 L131.1,930.5 L133.4,934.5 L135.8,933.2 L138.1,933.5 L140.5,928.6 L142.8,929.0 L145.1,928.5 L147.5,932.5 L149.8,933.7 L152.1,932.3 L154.5,935.9 L156.8,937.7 L159.2,933.0 L161.5,934.2 L163.8,934.8 L166.2,940.0 L168.5,938.9 L170.8,938.9 L173.2,939.6 L175.5,937.7 L177.9,940.1 L180.2,941.5 L182.5,935.2 L184.9,936.8 L187.2,940.7 L189.6,935.1 L191.9,937.0 L194.2,938.2 L196.6,945.4 L198.9,938.5 L201.2,939.5 L203.6,937.6 L205.9,936.1 L208.2,942.4 L210.6,937.5 L212.9,938.5 L215.3,940.5 L217.6,946.5 L219.9,939.1 L222.3,940.7 L224.6,940.7 L226.9,944.8 L229.3,942.3 L231.6,941.8 L234.0,939.8 L236.3,944.8 L238.6,949.2 L241.0,947.4 L243.3,947.9 L245.7,945.5 L248.0,946.0 L250.3,945.6 L252.7,943.4" fill="none" stroke="#2438A4" stroke-width="0.85" stroke-linejoin="round"/>
<path d="M32.9,924.2 L35.3,927.3 L37.6,930.5 L40.0,927.7 L42.3,927.1 L44.6,926.5 L47.0,926.3 L49.3,925.8 L51.6,930.3 L54.0,925.5 L56.3,924.1 L58.6,924.0 L61.0,925.0 L63.3,923.0 L65.7,928.1 L68.0,926.2 L70.3,924.2 L72.7,925.9 L75.0,925.6 L77.3,923.3 L79.7,925.3 L82.0,927.5 L84.4,927.4 L86.7,925.7 L89.0,928.4 L91.4,927.1 L93.7,927.7 L96.0,927.1 L98.4,925.5 L100.7,925.3 L103.1,926.9 L105.4,927.2 L107.7,926.2 L110.1,929.6 L112.4,928.7 L114.8,931.5 L117.1,927.4 L119.4,928.8 L121.8,932.4 L124.1,932.0 L126.4,929.4 L128.8,929.9 L131.1,934.4 L133.4,928.6 L135.8,930.4 L138.1,930.8 L140.5,932.6 L142.8,934.5 L145.1,936.8 L147.5,934.1 L149.8,933.8 L152.1,934.5 L154.5,932.7 L156.8,933.3 L159.2,936.6 L161.5,936.4 L163.8,933.2 L166.2,937.9 L168.5,931.8 L170.8,936.0 L173.2,930.7 L175.5,933.8 L177.9,939.4 L180.2,936.7 L182.5,936.9 L184.9,938.2 L187.2,937.7 L189.6,937.7 L191.9,945.0 L194.2,938.7 L196.6,939.2 L198.9,938.8 L201.2,937.4 L203.6,938.6 L205.9,941.8 L208.2,938.5 L210.6,940.1 L212.9,939.5 L215.3,941.6 L217.6,941.1 L219.9,943.0 L222.3,938.1 L224.6,942.5 L226.9,939.7 L229.3,945.1 L231.6,942.4 L234.0,942.9 L236.3,940.5 L238.6,941.6 L241.0,937.8 L243.3,935.4 L245.7,942.5 L248.0,942.2 L250.3,946.0 L252.7,947.4" fill="none" stroke="#2438A4" stroke-width="0.85" stroke-linejoin="round"/>
<path d="M32.9,907.9 L35.3,905.0 L37.6,904.7 L40.0,906.8 L42.3,903.6 L44.6,909.1 L47.0,909.9 L49.3,907.6 L51.6,911.9 L54.0,903.9 L56.3,905.7 L58.6,906.8 L61.0,904.8 L63.3,909.3 L65.7,907.1 L68.0,910.9 L70.3,907.6 L72.7,905.8 L75.0,900.9 L77.3,904.1 L79.7,901.1 L82.0,904.2 L84.4,909.8 L86.7,904.6 L89.0,905.0 L91.4,907.1 L93.7,903.4 L96.0,908.1 L98.4,907.6 L100.7,904.3 L103.1,903.0 L105.4,907.0 L107.7,905.5 L110.1,905.8 L112.4,904.4 L114.8,906.5 L117.1,912.7 L119.4,909.6 L121.8,903.3 L124.1,908.4 L126.4,908.1 L128.8,905.2 L131.1,907.5 L133.4,910.8 L135.8,908.8 L138.1,908.9 L140.5,911.0 L142.8,909.7 L145.1,913.0 L147.5,914.6 L149.8,914.0 L152.1,911.2 L154.5,910.0 L156.8,911.5 L159.2,907.3 L161.5,907.6 L163.8,909.4 L166.2,907.0 L168.5,905.4 L170.8,907.3 L173.2,911.8 L175.5,909.2 L177.9,907.7 L180.2,909.6 L182.5,911.9 L184.9,911.7 L187.2,911.6 L189.6,918.1 L191.9,910.4 L194.2,912.7 L196.6,908.0 L198.9,912.3 L201.2,916.4 L203.6,913.1 L205.9,914.5 L208.2,912.9 L210.6,916.4 L212.9,917.8 L215.3,919.1 L217.6,919.8 L219.9,917.1 L222.3,921.4 L224.6,918.8 L226.9,915.6 L229.3,920.9 L231.6,920.7 L234.0,922.5 L236.3,922.2 L238.6,920.9 L241.0,919.2 L243.3,918.5 L245.7,923.1 L248.0,920.9 L250.3,924.3 L252.7,927.3" fill="none" stroke="#3F82C0" stroke-width="0.85" stroke-linejoin="round"/>
<path d="M32.9,914.1 L35.3,916.7 L37.6,912.4 L40.0,916.4 L42.3,911.5 L44.6,902.8 L47.0,910.4 L49.3,915.9 L51.6,910.3 L54.0,912.6 L56.3,910.2 L58.6,909.3 L61.0,908.3 L63.3,901.9 L65.7,905.6 L68.0,906.8 L70.3,908.1 L72.7,910.3 L75.0,910.6 L77.3,911.9 L79.7,906.7 L82.0,908.1 L84.4,906.1 L86.7,906.4 L89.0,901.0 L91.4,906.1 L93.7,905.6 L96.0,909.0 L98.4,904.9 L100.7,907.6 L103.1,907.8 L105.4,912.0 L107.7,907.7 L110.1,903.2 L112.4,902.9 L114.8,909.9 L117.1,906.3 L119.4,910.0 L121.8,913.9 L124.1,914.0 L126.4,906.9 L128.8,909.4 L131.1,912.9 L133.4,909.5 L135.8,908.7 L138.1,910.4 L140.5,908.8 L142.8,910.9 L145.1,907.1 L147.5,907.4 L149.8,910.1 L152.1,909.8 L154.5,908.3 L156.8,911.0 L159.2,910.1 L161.5,912.0 L163.8,913.3 L166.2,918.5 L168.5,918.3 L170.8,917.8 L173.2,914.8 L175.5,906.6 L177.9,914.7 L180.2,915.9 L182.5,919.0 L184.9,917.5 L187.2,916.8 L189.6,914.1 L191.9,919.6 L194.2,916.0 L196.6,915.9 L198.9,917.7 L201.2,921.2 L203.6,922.0 L205.9,920.0 L208.2,917.3 L210.6,918.8 L212.9,921.4 L215.3,919.4 L217.6,922.9 L219.9,918.9 L222.3,911.7 L224.6,920.1 L226.9,918.1 L229.3,923.7 L231.6,922.6 L234.0,921.2 L236.3,919.2 L238.6,922.3 L241.0,919.7 L243.3,926.9 L245.7,926.3 L248.0,925.8 L250.3,925.7 L252.7,926.7" fill="none" stroke="#3F82C0" stroke-width="0.85" stroke-linejoin="round"/>
<path d="M32.9,916.7 L35.3,921.4 L37.6,918.4 L40.0,918.7 L42.3,915.1 L44.6,918.9 L47.0,917.9 L49.3,917.8 L51.6,926.0 L54.0,920.5 L56.3,917.4 L58.6,915.3 L61.0,920.4 L63.3,919.9 L65.7,916.7 L68.0,920.8 L70.3,921.4 L72.7,918.5 L75.0,917.4 L77.3,915.6 L79.7,915.6 L82.0,917.6 L84.4,921.1 L86.7,921.2 L89.0,919.9 L91.4,918.7 L93.7,919.2 L96.0,917.7 L98.4,920.7 L100.7,921.0 L103.1,923.1 L105.4,916.5 L107.7,919.4 L110.1,917.8 L112.4,916.8 L114.8,918.6 L117.1,920.4 L119.4,921.8 L121.8,921.8 L124.1,925.1 L126.4,923.6 L128.8,920.4 L131.1,920.7 L133.4,919.7 L135.8,919.6 L138.1,919.9 L140.5,921.4 L142.8,921.9 L145.1,920.5 L147.5,923.1 L149.8,926.2 L152.1,922.5 L154.5,923.3 L156.8,921.4 L159.2,924.9 L161.5,928.3 L163.8,926.2 L166.2,926.8 L168.5,927.9 L170.8,922.9 L173.2,924.3 L175.5,928.2 L177.9,930.4 L180.2,928.0 L182.5,926.0 L184.9,926.2 L187.2,924.6 L189.6,926.1 L191.9,926.5 L194.2,932.0 L196.6,926.9 L198.9,929.6 L201.2,927.4 L203.6,932.4 L205.9,932.7 L208.2,928.5 L210.6,932.8 L212.9,931.2 L215.3,932.2 L217.6,928.1 L219.9,930.1 L222.3,928.9 L224.6,931.7 L226.9,936.5 L229.3,930.0 L231.6,934.1 L234.0,934.2 L236.3,934.7 L238.6,938.6 L241.0,935.0 L243.3,936.6 L245.7,940.5 L248.0,941.4 L250.3,943.7 L252.7,941.4" fill="none" stroke="#3F82C0" stroke-width="0.85" stroke-linejoin="round"/>
<path d="M32.9,924.0 L35.3,925.4 L37.6,923.7 L40.0,923.8 L42.3,921.7 L44.6,922.1 L47.0,922.5 L49.3,923.9 L51.6,925.0 L54.0,924.7 L56.3,921.7 L58.6,922.6 L61.0,918.5 L63.3,918.6 L65.7,923.4 L68.0,920.8 L70.3,918.2 L72.7,921.6 L75.0,918.4 L77.3,921.8 L79.7,917.7 L82.0,918.8 L84.4,920.8 L86.7,924.6 L89.0,922.3 L91.4,923.1 L93.7,920.8 L96.0,923.0 L98.4,920.6 L100.7,922.1 L103.1,920.2 L105.4,919.2 L107.7,920.4 L110.1,920.1 L112.4,918.8 L114.8,923.0 L117.1,920.9 L119.4,921.1 L121.8,918.3 L124.1,921.5 L126.4,920.0 L128.8,925.5 L131.1,920.8 L133.4,921.3 L135.8,921.7 L138.1,920.8 L140.5,925.4 L142.8,924.6 L145.1,923.8 L147.5,924.6 L149.8,925.5 L152.1,922.6 L154.5,923.9 L156.8,925.1 L159.2,925.0 L161.5,922.3 L163.8,920.4 L166.2,921.8 L168.5,923.6 L170.8,928.4 L173.2,928.3 L175.5,929.3 L177.9,929.8 L180.2,925.4 L182.5,928.3 L184.9,925.0 L187.2,927.0 L189.6,928.3 L191.9,929.1 L194.2,932.2 L196.6,931.1 L198.9,928.3 L201.2,928.0 L203.6,929.3 L205.9,928.8 L208.2,930.0 L210.6,930.1 L212.9,925.9 L215.3,929.9 L217.6,935.5 L219.9,938.3 L222.3,936.3 L224.6,933.9 L226.9,931.8 L229.3,933.7 L231.6,934.2 L234.0,933.6 L236.3,937.2 L238.6,936.5 L241.0,935.8 L243.3,937.5 L245.7,939.3 L248.0,937.2 L250.3,935.6 L252.7,937.7" fill="none" stroke="#3F82C0" stroke-width="0.85" stroke-linejoin="round"/>
<path d="M32.9,930.9 L35.3,927.2 L37.6,926.7 L40.0,924.4 L42.3,925.6 L44.6,925.7 L47.0,922.5 L49.3,920.8 L51.6,922.8 L54.0,925.8 L56.3,926.9 L58.6,923.1 L61.0,924.9 L63.3,923.8 L65.7,923.7 L68.0,922.9 L70.3,922.2 L72.7,924.9 L75.0,924.9 L77.3,923.0 L79.7,922.7 L82.0,925.7 L84.4,919.4 L86.7,924.7 L89.0,921.0 L91.4,925.7 L93.7,921.5 L96.0,926.2 L98.4,921.8 L100.7,922.1 L103.1,920.8 L105.4,923.9 L107.7,922.6 L110.1,922.3 L112.4,922.5 L114.8,924.1 L117.1,920.5 L119.4,926.4 L121.8,927.7 L124.1,928.0 L126.4,921.8 L128.8,925.1 L131.1,925.8 L133.4,926.1 L135.8,925.4 L138.1,925.1 L140.5,925.7 L142.8,928.2 L145.1,924.8 L147.5,924.8 L149.8,921.6 L152.1,923.2 L154.5,924.8 L156.8,928.5 L159.2,926.3 L161.5,924.7 L163.8,922.0 L166.2,924.1 L168.5,924.0 L170.8,924.5 L173.2,922.6 L175.5,923.2 L177.9,925.9 L180.2,930.2 L182.5,924.9 L184.9,926.9 L187.2,929.6 L189.6,932.0 L191.9,933.6 L194.2,929.8 L196.6,929.8 L198.9,928.9 L201.2,926.9 L203.6,930.5 L205.9,929.8 L208.2,931.6 L210.6,933.1 L212.9,936.7 L215.3,934.9 L217.6,930.4 L219.9,932.8 L222.3,932.0 L224.6,932.4 L226.9,928.5 L229.3,928.8 L231.6,933.8 L234.0,935.1 L236.3,932.3 L238.6,933.7 L241.0,934.7 L243.3,932.9 L245.7,934.0 L248.0,935.5 L250.3,929.9 L252.7,934.3" fill="none" stroke="#3F82C0" stroke-width="0.85" stroke-linejoin="round"/>
<path d="M32.9,913.2 L35.3,907.0 L37.6,906.1 L40.0,900.7 L42.3,903.1 L44.6,906.5 L47.0,903.8 L49.3,907.8 L51.6,905.6 L54.0,902.2 L56.3,904.7 L58.6,908.8 L61.0,906.4 L63.3,904.4 L65.7,898.8 L68.0,900.1 L70.3,898.7 L72.7,900.7 L75.0,897.5 L77.3,898.4 L79.7,894.2 L82.0,893.5 L84.4,888.9 L86.7,889.8 L89.0,892.6 L91.4,894.7 L93.7,891.2 L96.0,887.9 L98.4,883.7 L100.7,888.8 L103.1,892.3 L105.4,894.5 L107.7,891.8 L110.1,887.8 L112.4,886.3 L114.8,885.4 L117.1,883.6 L119.4,881.2 L121.8,886.5 L124.1,881.8 L126.4,880.5 L128.8,879.5 L131.1,879.4 L133.4,883.5 L135.8,876.4 L138.1,876.7 L140.5,875.0 L142.8,872.4 L145.1,871.9 L147.5,869.8 L149.8,868.5 L152.1,871.9 L154.5,873.0 L156.8,866.3 L159.2,868.9 L161.5,859.3 L163.8,866.6 L166.2,864.0 L168.5,863.4 L170.8,861.5 L173.2,864.3 L175.5,860.4 L177.9,853.1 L180.2,858.7 L182.5,865.3 L184.9,857.3 L187.2,855.1 L189.6,853.1 L191.9,856.8 L194.2,853.3 L196.6,850.2 L198.9,853.3 L201.2,851.9 L203.6,849.5 L205.9,847.6 L208.2,849.7 L210.6,848.6 L212.9,841.9 L215.3,839.4 L217.6,848.4 L219.9,840.1 L222.3,845.7 L224.6,842.4 L226.9,848.7 L229.3,846.9 L231.6,847.7 L234.0,843.0 L236.3,843.5 L238.6,842.8 L241.0,842.8 L243.3,843.4 L245.7,841.3 L248.0,843.5 L250.3,845.0 L252.7,847.5" fill="none" stroke="#A81C26" stroke-width="0.85" stroke-linejoin="round"/>
<path d="M32.9,915.2 L35.3,913.2 L37.6,910.2 L40.0,906.7 L42.3,908.8 L44.6,902.1 L47.0,902.0 L49.3,905.4 L51.6,904.9 L54.0,905.5 L56.3,911.1 L58.6,903.7 L61.0,902.9 L63.3,908.4 L65.7,901.2 L68.0,903.2 L70.3,902.3 L72.7,906.4 L75.0,901.6 L77.3,898.1 L79.7,899.4 L82.0,897.9 L84.4,903.1 L86.7,896.2 L89.0,895.5 L91.4,894.7 L93.7,891.6 L96.0,889.0 L98.4,891.3 L100.7,888.2 L103.1,883.6 L105.4,891.3 L107.7,889.1 L110.1,893.5 L112.4,887.8 L114.8,882.1 L117.1,884.7 L119.4,888.2 L121.8,886.7 L124.1,882.5 L126.4,886.8 L128.8,887.2 L131.1,880.6 L133.4,883.9 L135.8,879.6 L138.1,881.4 L140.5,883.0 L142.8,874.9 L145.1,870.8 L147.5,875.2 L149.8,865.7 L152.1,869.2 L154.5,868.5 L156.8,868.7 L159.2,872.3 L161.5,865.8 L163.8,866.1 L166.2,864.4 L168.5,864.4 L170.8,865.6 L173.2,856.3 L175.5,859.1 L177.9,861.6 L180.2,858.8 L182.5,863.6 L184.9,859.2 L187.2,849.7 L189.6,857.4 L191.9,855.3 L194.2,859.6 L196.6,856.4 L198.9,851.4 L201.2,856.4 L203.6,857.1 L205.9,849.9 L208.2,850.3 L210.6,848.6 L212.9,848.1 L215.3,853.6 L217.6,856.2 L219.9,857.2 L222.3,849.3 L224.6,853.0 L226.9,855.0 L229.3,851.3 L231.6,848.7 L234.0,846.4 L236.3,852.4 L238.6,843.8 L241.0,848.6 L243.3,846.5 L245.7,846.5 L248.0,849.8 L250.3,846.3 L252.7,845.6" fill="none" stroke="#A81C26" stroke-width="0.85" stroke-linejoin="round"/>
<path d="M32.9,917.2 L35.3,914.7 L37.6,912.4 L40.0,914.4 L42.3,915.5 L44.6,918.2 L47.0,921.7 L49.3,917.5 L51.6,918.6 L54.0,917.8 L56.3,917.9 L58.6,915.3 L61.0,916.4 L63.3,909.3 L65.7,910.7 L68.0,914.4 L70.3,913.0 L72.7,909.6 L75.0,915.0 L77.3,912.7 L79.7,913.6 L82.0,912.0 L84.4,912.6 L86.7,910.7 L89.0,909.1 L91.4,907.8 L93.7,912.5 L96.0,907.9 L98.4,907.9 L100.7,909.2 L103.1,907.7 L105.4,902.5 L107.7,905.1 L110.1,907.3 L112.4,903.5 L114.8,904.2 L117.1,901.7 L119.4,901.6 L121.8,898.3 L124.1,901.9 L126.4,902.0 L128.8,897.7 L131.1,894.4 L133.4,896.7 L135.8,894.4 L138.1,895.1 L140.5,896.0 L142.8,900.2 L145.1,891.2 L147.5,890.4 L149.8,898.6 L152.1,892.7 L154.5,894.0 L156.8,895.1 L159.2,893.7 L161.5,889.5 L163.8,889.8 L166.2,889.9 L168.5,889.3 L170.8,889.3 L173.2,886.5 L175.5,891.8 L177.9,891.2 L180.2,887.6 L182.5,888.7 L184.9,885.2 L187.2,885.2 L189.6,882.8 L191.9,883.2 L194.2,881.0 L196.6,881.5 L198.9,879.5 L201.2,881.3 L203.6,885.2 L205.9,881.5 L208.2,880.1 L210.6,880.8 L212.9,876.8 L215.3,876.6 L217.6,873.7 L219.9,877.6 L222.3,878.7 L224.6,876.6 L226.9,873.3 L229.3,877.9 L231.6,876.2 L234.0,877.0 L236.3,878.0 L238.6,875.3 L241.0,874.7 L243.3,875.2 L245.7,879.0 L248.0,878.8 L250.3,883.4 L252.7,879.5" fill="none" stroke="#A81C26" stroke-width="0.85" stroke-linejoin="round"/>
<path d="M32.9,925.9 L35.3,922.7 L37.6,919.5 L40.0,921.0 L42.3,920.1 L44.6,921.5 L47.0,913.2 L49.3,920.2 L51.6,920.3 L54.0,918.9 L56.3,910.9 L58.6,916.5 L61.0,916.1 L63.3,913.8 L65.7,920.3 L68.0,914.1 L70.3,913.2 L72.7,909.6 L75.0,908.1 L77.3,909.9 L79.7,908.6 L82.0,912.3 L84.4,914.3 L86.7,912.2 L89.0,910.0 L91.4,910.3 L93.7,908.1 L96.0,906.5 L98.4,902.8 L100.7,906.1 L103.1,907.6 L105.4,905.1 L107.7,904.6 L110.1,903.1 L112.4,899.4 L114.8,904.3 L117.1,901.3 L119.4,898.4 L121.8,897.3 L124.1,903.6 L126.4,902.1 L128.8,897.0 L131.1,898.4 L133.4,897.2 L135.8,897.8 L138.1,893.9 L140.5,895.0 L142.8,896.2 L145.1,895.1 L147.5,891.0 L149.8,891.8 L152.1,896.9 L154.5,899.1 L156.8,892.3 L159.2,895.9 L161.5,891.9 L163.8,892.5 L166.2,889.9 L168.5,891.1 L170.8,895.4 L173.2,886.6 L175.5,887.2 L177.9,887.4 L180.2,882.6 L182.5,883.1 L184.9,881.8 L187.2,884.4 L189.6,884.0 L191.9,882.7 L194.2,884.7 L196.6,881.3 L198.9,881.0 L201.2,882.5 L203.6,882.9 L205.9,879.5 L208.2,880.9 L210.6,879.7 L212.9,879.4 L215.3,880.4 L217.6,888.2 L219.9,881.3 L222.3,878.0 L224.6,880.6 L226.9,881.4 L229.3,877.7 L231.6,882.0 L234.0,877.1 L236.3,877.5 L238.6,875.6 L241.0,878.9 L243.3,879.8 L245.7,879.9 L248.0,884.9 L250.3,885.2 L252.7,880.7" fill="none" stroke="#A81C26" stroke-width="0.85" stroke-linejoin="round"/>
<path d="M32.9,925.8 L35.3,925.9 L37.6,922.7 L40.0,918.7 L42.3,920.8 L44.6,921.6 L47.0,920.8 L49.3,919.1 L51.6,923.3 L54.0,919.2 L56.3,917.5 L58.6,915.0 L61.0,913.8 L63.3,914.2 L65.7,910.5 L68.0,914.1 L70.3,915.1 L72.7,910.6 L75.0,912.7 L77.3,914.8 L79.7,914.9 L82.0,913.3 L84.4,915.8 L86.7,910.2 L89.0,909.9 L91.4,906.9 L93.7,911.5 L96.0,910.8 L98.4,910.9 L100.7,907.6 L103.1,906.5 L105.4,904.8 L107.7,904.0 L110.1,907.9 L112.4,905.1 L114.8,904.3 L117.1,903.9 L119.4,902.0 L121.8,907.1 L124.1,905.1 L126.4,902.9 L128.8,903.3 L131.1,903.7 L133.4,898.1 L135.8,896.0 L138.1,892.8 L140.5,898.0 L142.8,902.6 L145.1,896.0 L147.5,896.0 L149.8,897.4 L152.1,893.3 L154.5,893.1 L156.8,896.7 L159.2,892.6 L161.5,895.3 L163.8,890.1 L166.2,892.5 L168.5,893.5 L170.8,887.6 L173.2,884.8 L175.5,886.5 L177.9,888.8 L180.2,884.6 L182.5,884.1 L184.9,883.2 L187.2,884.1 L189.6,886.8 L191.9,884.7 L194.2,878.8 L196.6,882.1 L198.9,881.3 L201.2,880.7 L203.6,877.7 L205.9,878.3 L208.2,880.0 L210.6,874.6 L212.9,877.1 L215.3,877.4 L217.6,879.9 L219.9,882.8 L222.3,878.7 L224.6,879.5 L226.9,878.1 L229.3,884.3 L231.6,876.4 L234.0,878.4 L236.3,877.4 L238.6,882.1 L241.0,880.9 L243.3,880.9 L245.7,878.9 L248.0,879.7 L250.3,887.7 L252.7,885.0" fill="none" stroke="#A81C26" stroke-width="0.85" stroke-linejoin="round"/>
<path d="M32.9,913.7 L35.3,914.6 L37.6,913.2 L40.0,911.6 L42.3,910.0 L44.6,914.6 L47.0,915.0 L49.3,912.7 L51.6,910.3 L54.0,913.4 L56.3,911.7 L58.6,914.2 L61.0,911.5 L63.3,911.0 L65.7,908.9 L68.0,905.9 L70.3,910.2 L72.7,908.2 L75.0,912.4 L77.3,908.7 L79.7,903.6 L82.0,910.2 L84.4,909.3 L86.7,915.5 L89.0,908.0 L91.4,901.0 L93.7,906.5 L96.0,904.6 L98.4,901.1 L100.7,905.2 L103.1,903.6 L105.4,905.2 L107.7,904.6 L110.1,902.8 L112.4,899.8 L114.8,900.1 L117.1,900.5 L119.4,900.6 L121.8,897.1 L124.1,897.1 L126.4,896.9 L128.8,902.2 L131.1,899.2 L133.4,900.1 L135.8,892.8 L138.1,892.9 L140.5,890.6 L142.8,895.2 L145.1,898.0 L147.5,896.6 L149.8,892.1 L152.1,893.7 L154.5,890.2 L156.8,887.1 L159.2,890.1 L161.5,887.2 L163.8,894.1 L166.2,893.3 L168.5,891.1 L170.8,889.4 L173.2,891.2 L175.5,888.8 L177.9,884.1 L180.2,882.8 L182.5,883.2 L184.9,886.3 L187.2,881.0 L189.6,881.1 L191.9,885.0 L194.2,880.8 L196.6,882.7 L198.9,880.7 L201.2,880.2 L203.6,879.4 L205.9,876.6 L208.2,872.9 L210.6,877.1 L212.9,878.9 L215.3,879.7 L217.6,878.7 L219.9,878.0 L222.3,882.6 L224.6,880.4 L226.9,874.3 L229.3,876.4 L231.6,876.4 L234.0,879.5 L236.3,875.1 L238.6,878.0 L241.0,881.6 L243.3,884.1 L245.7,882.2 L248.0,878.9 L250.3,884.6 L252.7,887.8" fill="none" stroke="#A81C26" stroke-width="0.85" stroke-linejoin="round"/>
<path d="M33.3,918.3 L36.1,918.0 L38.9,917.7 L41.6,917.5 L44.4,917.3 L47.2,917.2 L50.0,917.2 L52.7,917.2 L55.5,917.2 L58.3,917.3 L61.1,917.4 L63.8,917.6 L66.6,917.8 L69.4,918.0 L72.2,918.3 L74.9,918.6 L77.7,918.9 L80.5,919.2 L83.3,919.6 L86.0,920.0 L88.8,920.4 L91.6,920.8 L94.4,921.2 L97.1,921.6 L99.9,922.1 L102.7,922.6 L105.5,923.0 L108.3,923.5 L111.0,924.0 L113.8,924.5 L116.6,924.9 L119.4,925.4 L122.1,925.9 L124.9,926.4 L127.7,926.9 L130.5,927.4 L133.2,927.8 L136.0,928.3 L138.8,928.8 L141.6,929.2 L144.3,929.7 L147.1,930.1 L149.9,930.6 L152.7,931.0 L155.4,931.4 L158.2,931.9 L161.0,932.3 L163.8,932.7 L166.5,933.1 L169.3,933.4 L172.1,933.8 L174.9,934.2 L177.6,934.5 L180.4,934.9 L183.2,935.2 L186.0,935.6 L188.8,935.9 L191.5,936.2 L194.3,936.5 L197.1,936.9 L199.9,937.2 L202.6,937.5 L205.4,937.8 L208.2,938.1 L211.0,938.4 L213.7,938.7 L216.5,939.0 L219.3,939.4 L222.1,939.7 L224.8,940.0 L227.6,940.3 L230.4,940.7 L233.2,941.0 L235.9,941.4 L238.7,941.8 L241.5,942.2 L244.3,942.6 L247.0,943.1 L249.8,943.5 L252.6,944.0" fill="none" stroke="#2E4EA3" stroke-width="4.5" stroke-linejoin="round"/>
<path d="M33.3,917.1 L36.1,916.8 L38.9,916.6 L41.6,916.4 L44.4,916.2 L47.2,916.0 L50.0,915.8 L52.7,915.7 L55.5,915.6 L58.3,915.5 L61.1,915.4 L63.8,915.3 L66.6,915.3 L69.4,915.2 L72.2,915.2 L74.9,915.2 L77.7,915.2 L80.5,915.2 L83.3,915.2 L86.0,915.3 L88.8,915.4 L91.6,915.4 L94.4,915.5 L97.1,915.6 L99.9,915.7 L102.7,915.8 L105.5,915.9 L108.3,916.1 L111.0,916.2 L113.8,916.4 L116.6,916.5 L119.4,916.7 L122.1,916.9 L124.9,917.1 L127.7,917.3 L130.5,917.5 L133.2,917.7 L136.0,917.9 L138.8,918.2 L141.6,918.4 L144.3,918.7 L147.1,918.9 L149.9,919.2 L152.7,919.5 L155.4,919.7 L158.2,920.0 L161.0,920.3 L163.8,920.6 L166.5,920.9 L169.3,921.2 L172.1,921.6 L174.9,921.9 L177.6,922.2 L180.4,922.6 L183.2,922.9 L186.0,923.3 L188.8,923.6 L191.5,924.0 L194.3,924.4 L197.1,924.8 L199.9,925.2 L202.6,925.6 L205.4,926.0 L208.2,926.4 L211.0,926.8 L213.7,927.3 L216.5,927.7 L219.3,928.2 L222.1,928.6 L224.8,929.1 L227.6,929.6 L230.4,930.1 L233.2,930.6 L235.9,931.1 L238.7,931.6 L241.5,932.1 L244.3,932.7 L247.0,933.3 L249.8,933.8 L252.6,934.4" fill="none" stroke="#8DBDE6" stroke-width="4.5" stroke-linejoin="round"/>
<path d="M33.3,916.1 L36.1,915.4 L38.9,914.8 L41.6,914.2 L44.4,913.6 L47.2,913.0 L50.0,912.4 L52.7,911.9 L55.5,911.3 L58.3,910.7 L61.1,910.2 L63.8,909.6 L66.6,909.0 L69.4,908.4 L72.2,907.9 L74.9,907.3 L77.7,906.7 L80.5,906.1 L83.3,905.4 L86.0,904.8 L88.8,904.2 L91.6,903.5 L94.4,902.9 L97.1,902.2 L99.9,901.5 L102.7,900.8 L105.5,900.1 L108.3,899.4 L111.0,898.6 L113.8,897.9 L116.6,897.1 L119.4,896.3 L122.1,895.5 L124.9,894.7 L127.7,893.9 L130.5,893.1 L133.2,892.3 L136.0,891.4 L138.8,890.6 L141.6,889.8 L144.3,888.9 L147.1,888.1 L149.9,887.2 L152.7,886.4 L155.4,885.5 L158.2,884.7 L161.0,883.8 L163.8,883.0 L166.5,882.2 L169.3,881.3 L172.1,880.5 L174.9,879.8 L177.6,879.0 L180.4,878.2 L183.2,877.5 L186.0,876.8 L188.8,876.2 L191.5,875.5 L194.3,874.9 L197.1,874.4 L199.9,873.9 L202.6,873.4 L205.4,873.0 L208.2,872.6 L211.0,872.3 L213.7,872.0 L216.5,871.8 L219.3,871.7 L222.1,871.6 L224.8,871.6 L227.6,871.7 L230.4,871.9 L233.2,872.2 L235.9,872.5 L238.7,873.0 L241.5,873.5 L244.3,874.2 L247.0,874.9 L249.8,875.8 L252.6,876.8" fill="none" stroke="#ED1C24" stroke-width="4.5" stroke-linejoin="round"/>
<path d="M44.62,1013.8v-2.2M44.62,780.8v2.2M56.31,1013.8v-2.2M56.31,780.8v2.2M68.00,1013.8v-4.3M68.00,780.8v4.3M79.69,1013.8v-2.2M79.69,780.8v2.2M91.38,1013.8v-2.2M91.38,780.8v2.2M103.06,1013.8v-2.2M103.06,780.8v2.2M114.75,1013.8v-4.3M114.75,780.8v4.3M126.44,1013.8v-2.2M126.44,780.8v2.2M138.12,1013.8v-2.2M138.12,780.8v2.2M149.81,1013.8v-2.2M149.81,780.8v2.2M161.50,1013.8v-4.3M161.50,780.8v4.3M173.19,1013.8v-2.2M173.19,780.8v2.2M184.88,1013.8v-2.2M184.88,780.8v2.2M196.56,1013.8v-2.2M196.56,780.8v2.2M208.25,1013.8v-4.3M208.25,780.8v4.3M219.94,1013.8v-2.2M219.94,780.8v2.2M231.62,1013.8v-2.2M231.62,780.8v2.2M243.31,1013.8v-2.2M243.31,780.8v2.2M255.00,1013.8v-4.3M255.00,780.8v4.3M32.9,1006.52h4.3M257.3,1006.52h-4.3M32.9,997.42h2.2M257.3,997.42h-2.2M32.9,988.32h2.2M257.3,988.32h-2.2M32.9,979.21h2.2M257.3,979.21h-2.2M32.9,970.11h4.3M257.3,970.11h-4.3M32.9,961.01h2.2M257.3,961.01h-2.2M32.9,951.91h2.2M257.3,951.91h-2.2M32.9,942.81h2.2M257.3,942.81h-2.2M32.9,933.71h4.3M257.3,933.71h-4.3M32.9,924.60h2.2M257.3,924.60h-2.2M32.9,915.50h2.2M257.3,915.50h-2.2M32.9,906.40h2.2M257.3,906.40h-2.2M32.9,897.30h4.3M257.3,897.30h-4.3M32.9,888.20h2.2M257.3,888.20h-2.2M32.9,879.10h2.2M257.3,879.10h-2.2M32.9,870.00h2.2M257.3,870.00h-2.2M32.9,860.89h4.3M257.3,860.89h-4.3M32.9,851.79h2.2M257.3,851.79h-2.2M32.9,842.69h2.2M257.3,842.69h-2.2M32.9,833.59h2.2M257.3,833.59h-2.2M32.9,824.49h4.3M257.3,824.49h-4.3M32.9,815.39h2.2M257.3,815.39h-2.2M32.9,806.28h2.2M257.3,806.28h-2.2M32.9,797.18h2.2M257.3,797.18h-2.2M32.9,788.08h4.3M257.3,788.08h-4.3" stroke="#000" stroke-width="1.3" fill="none"/>
<rect x="32.9" y="780.8" width="224.4" height="233.0" fill="none" stroke="#000" stroke-width="1.75" stroke-linejoin="round"/>
<text font-size="18.5" fill="#000"><tspan x="6.32" y="1013.5" textLength="6.74" lengthAdjust="spacingAndGlyphs">−</tspan><tspan x="13.11" y="1013.5" textLength="10.68" lengthAdjust="spacingAndGlyphs">5</tspan></text>
<text x="13.11" y="977.1" font-size="18.5" textLength="10.68" lengthAdjust="spacingAndGlyphs" fill="#000">0</text>
<text x="13.11" y="940.7" font-size="18.5" textLength="10.68" lengthAdjust="spacingAndGlyphs" fill="#000">5</text>
<text x="2.46" y="904.3" font-size="18.5" textLength="21.36" lengthAdjust="spacingAndGlyphs" fill="#000">10</text>
<text x="2.46" y="867.9" font-size="18.5" textLength="21.36" lengthAdjust="spacingAndGlyphs" fill="#000">15</text>
<text x="2.46" y="831.5" font-size="18.5" textLength="21.36" lengthAdjust="spacingAndGlyphs" fill="#000">20</text>
<text x="-1.11" y="795.1" font-size="19.4" textLength="27.20" lengthAdjust="spacingAndGlyphs" fill="#000">DU</text>
<text x="37.97" y="805.0" font-size="19.4" textLength="111.00" lengthAdjust="spacingAndGlyphs" fill="#000">(D) 30°S-Eq</text>
</g>
<g transform="translate(0.5,0)">
<rect x="270.6" y="780.8" width="219.4" height="233.0" fill="#FAA61A"/>
<path d="M270.8,799.9 L272.6,799.9 L274.5,799.9 L276.3,799.9 L278.2,799.9 L280.0,799.9 L281.9,799.9 L283.7,799.9 L285.5,799.9 L287.4,799.9 L289.2,799.9 L291.1,799.8 L292.9,799.7 L294.7,799.6 L296.6,799.5 L298.4,799.3 L300.3,799.1 L302.1,799.0 L304.0,798.7 L305.8,798.5 L307.6,798.2 L309.5,797.9 L311.3,797.6 L313.2,797.2 L315.0,796.8 L316.9,796.3 L318.7,795.9 L320.5,795.4 L322.4,794.9 L324.2,794.4 L326.1,793.9 L327.9,793.4 L329.7,792.9 L331.6,792.5 L333.4,792.0 L335.3,791.5 L337.1,791.1 L339.0,790.6 L340.8,790.2 L342.6,789.8 L344.5,789.4 L346.3,789.0 L348.2,788.7 L350.0,788.3 L351.8,788.0 L353.7,787.8 L355.5,787.5 L357.4,787.2 L359.2,786.9 L361.1,786.6 L362.9,786.4 L364.7,786.1 L366.6,785.9 L368.4,785.6 L370.3,785.5 L372.1,785.3 L374.0,785.1 L375.8,785.0 L377.6,784.9 L379.5,784.7 L381.3,784.6 L383.2,784.5 L385.0,784.3 L386.8,784.1 L388.7,783.9 L390.5,783.7 L392.4,783.5 L394.2,783.3 L396.1,783.2 L397.9,783.0 L399.7,782.8 L401.6,782.7 L403.4,782.6 L405.3,782.5 L407.1,782.4 L409.0,782.3 L410.8,782.3 L412.6,782.2 L414.5,782.2 L416.3,782.1 L418.2,782.0 L420.0,782.0 L421.8,781.9 L423.7,781.9 L425.5,781.8 L427.4,781.8 L429.2,781.8 L431.1,781.7 L432.9,781.7 L434.7,781.7 L436.6,781.6 L438.4,781.6 L440.3,781.6 L442.1,781.5 L443.9,781.5 L445.8,781.5 L447.6,781.4 L449.5,781.4 L451.3,781.4 L453.2,781.3 L455.0,781.3 L456.8,781.3 L458.7,781.3 L460.5,781.3 L462.4,781.3 L464.2,781.3 L466.1,781.3 L467.9,781.3 L469.7,781.3 L471.6,781.3 L473.4,781.3 L475.3,781.3 L477.1,781.3 L478.9,781.3 L480.8,781.3 L482.6,781.3 L484.5,781.3 L486.3,781.3 L488.2,781.3 L490.0,781.3 L490.0,1013.8 L270.6,1013.8 Z" fill="#0F8242" stroke="#000" stroke-width="1.7" stroke-linejoin="round"/>
<path d="M270.8,802.2 L272.6,803.2 L274.5,804.4 L276.3,805.6 L278.2,806.9 L280.0,808.3 L281.9,809.9 L283.7,811.7 L285.5,813.9 L287.4,816.2 L289.2,818.8 L291.1,821.7 L292.9,824.9 L294.7,828.2 L296.6,831.8 L298.4,835.5 L300.3,839.5 L302.1,843.7 L304.0,848.2 L305.8,852.8 L307.6,857.5 L309.5,862.3 L311.3,867.1 L313.2,872.0 L315.0,876.8 L316.9,881.7 L318.7,886.5 L320.5,891.3 L322.4,896.0 L324.2,900.5 L326.1,904.9 L327.9,909.3 L329.7,913.8 L331.6,918.3 L333.4,922.8 L335.3,926.8 L337.1,930.5 L339.0,934.1 L340.8,937.6 L342.6,941.1 L344.5,944.3 L346.3,947.3 L348.2,950.0 L350.0,952.5 L351.8,955.0 L353.7,957.3 L355.5,959.5 L357.4,961.6 L359.2,963.5 L361.1,965.3 L362.9,967.0 L364.7,968.6 L366.6,970.1 L368.4,971.5 L370.3,972.8 L372.1,974.0 L374.0,975.1 L375.8,976.2 L377.6,977.2 L379.5,978.2 L381.3,979.2 L383.2,980.3 L385.0,981.3 L386.8,982.3 L388.7,983.3 L390.5,984.1 L392.4,984.8 L394.2,985.5 L396.1,986.1 L397.9,986.7 L399.7,987.2 L401.6,987.7 L403.4,988.1 L405.3,988.4 L407.1,988.7 L409.0,988.9 L410.8,989.2 L412.6,989.4 L414.5,989.6 L416.3,989.8 L418.2,990.0 L420.0,990.2 L421.8,990.4 L423.7,990.6 L425.5,990.7 L427.4,990.9 L429.2,991.1 L431.1,991.2 L432.9,991.4 L434.7,991.5 L436.6,991.6 L438.4,991.8 L440.3,991.9 L442.1,992.0 L443.9,992.2 L445.8,992.3 L447.6,992.5 L449.5,992.6 L451.3,992.8 L453.2,993.0 L455.0,993.2 L456.8,993.4 L458.7,993.6 L460.5,993.8 L462.4,994.1 L464.2,994.3 L466.1,994.5 L467.9,994.8 L469.7,995.0 L471.6,995.3 L473.4,995.6 L475.3,995.8 L477.1,996.1 L478.9,996.4 L480.8,996.7 L482.6,997.1 L484.5,997.4 L486.3,997.7 L488.2,998.1 L490.0,998.4 L490.0,1013.8 L270.6,1013.8 Z" fill="#3B54A5" stroke="#000" stroke-width="1.7" stroke-linejoin="round"/>
<line x1="490.4" y1="780.8" x2="490.4" y2="1013.8" stroke="#000" stroke-width="0.9"/>
<path d="M282.62,1013.8v-2.2M282.62,780.8v2.2M294.31,1013.8v-2.2M294.31,780.8v2.2M306.00,1013.8v-4.3M306.00,780.8v4.3M317.69,1013.8v-2.2M317.69,780.8v2.2M329.38,1013.8v-2.2M329.38,780.8v2.2M341.06,1013.8v-2.2M341.06,780.8v2.2M352.75,1013.8v-4.3M352.75,780.8v4.3M364.44,1013.8v-2.2M364.44,780.8v2.2M376.12,1013.8v-2.2M376.12,780.8v2.2M387.81,1013.8v-2.2M387.81,780.8v2.2M399.50,1013.8v-4.3M399.50,780.8v4.3M411.19,1013.8v-2.2M411.19,780.8v2.2M422.88,1013.8v-2.2M422.88,780.8v2.2M434.56,1013.8v-2.2M434.56,780.8v2.2M446.25,1013.8v-4.3M446.25,780.8v4.3M457.94,1013.8v-2.2M457.94,780.8v2.2M469.62,1013.8v-2.2M469.62,780.8v2.2M481.31,1013.8v-2.2M481.31,780.8v2.2M493.00,1013.8v-4.3M493.00,780.8v4.3M270.6,1013.80h4.3M495.2,1013.80h-4.3M270.6,1002.15h2.2M495.2,1002.15h-2.2M270.6,990.50h2.2M495.2,990.50h-2.2M270.6,978.85h2.2M495.2,978.85h-2.2M270.6,967.20h4.3M495.2,967.20h-4.3M270.6,955.55h2.2M495.2,955.55h-2.2M270.6,943.90h2.2M495.2,943.90h-2.2M270.6,932.25h2.2M495.2,932.25h-2.2M270.6,920.60h4.3M495.2,920.60h-4.3M270.6,908.95h2.2M495.2,908.95h-2.2M270.6,897.30h2.2M495.2,897.30h-2.2M270.6,885.65h2.2M495.2,885.65h-2.2M270.6,874.00h4.3M495.2,874.00h-4.3M270.6,862.35h2.2M495.2,862.35h-2.2M270.6,850.70h2.2M495.2,850.70h-2.2M270.6,839.05h2.2M495.2,839.05h-2.2M270.6,827.40h4.3M495.2,827.40h-4.3M270.6,815.75h2.2M495.2,815.75h-2.2M270.6,804.10h2.2M495.2,804.10h-2.2M270.6,792.45h2.2M495.2,792.45h-2.2M270.6,780.80h4.3M495.2,780.80h-4.3" stroke="#000" stroke-width="1.3" fill="none"/>
<rect x="270.6" y="780.8" width="224.6" height="233.0" fill="none" stroke="#000" stroke-width="1.75" stroke-linejoin="round"/>
<text x="500.04" y="975.2" font-size="18.3" textLength="21.36" lengthAdjust="spacingAndGlyphs" fill="#000">20</text>
<text x="500.52" y="928.6" font-size="18.3" textLength="21.36" lengthAdjust="spacingAndGlyphs" fill="#000">40</text>
<text x="500.04" y="882.0" font-size="18.3" textLength="21.36" lengthAdjust="spacingAndGlyphs" fill="#000">60</text>
<text x="500.14" y="835.4" font-size="18.3" textLength="21.36" lengthAdjust="spacingAndGlyphs" fill="#000">80</text>
<text x="499.6" y="788.2" font-size="16.8" fill="#000">%</text>
</g>
<g transform="translate(0.3,0)">
<line x1="32.9" y1="1213.2" x2="257.3" y2="1213.2" stroke="#000" stroke-width="1.7"/>
<path d="M32.9,1199.6 L35.3,1186.9 L37.6,1194.1 L40.0,1194.9 L42.3,1196.7 L44.6,1196.6 L47.0,1189.3 L49.3,1193.8 L51.6,1191.0 L54.0,1194.0 L56.3,1193.1 L58.6,1188.2 L61.0,1186.5 L63.3,1193.6 L65.7,1190.3 L68.0,1193.2 L70.3,1186.5 L72.7,1190.0 L75.0,1192.0 L77.3,1184.6 L79.7,1188.0 L82.0,1185.6 L84.4,1182.0 L86.7,1185.9 L89.0,1185.8 L91.4,1181.4 L93.7,1172.4 L96.0,1176.6 L98.4,1176.8 L100.7,1179.7 L103.1,1180.5 L105.4,1173.7 L107.7,1181.1 L110.1,1182.8 L112.4,1173.6 L114.8,1180.4 L117.1,1184.2 L119.4,1177.6 L121.8,1173.2 L124.1,1168.3 L126.4,1164.7 L128.8,1183.1 L131.1,1179.5 L133.4,1178.8 L135.8,1175.6 L138.1,1179.9 L140.5,1177.3 L142.8,1175.5 L145.1,1175.4 L147.5,1180.0 L149.8,1176.7 L152.1,1180.7 L154.5,1182.0 L156.8,1179.9 L159.2,1174.9 L161.5,1185.9 L163.8,1180.8 L166.2,1173.3 L168.5,1176.6 L170.8,1181.0 L173.2,1179.1 L175.5,1173.0 L177.9,1179.2 L180.2,1183.7 L182.5,1179.0 L184.9,1182.4 L187.2,1185.7 L189.6,1180.4 L191.9,1186.4 L194.2,1186.3 L196.6,1179.3 L198.9,1182.8 L201.2,1179.2 L203.6,1191.9 L205.9,1194.8 L208.2,1192.8 L210.6,1189.6 L212.9,1196.7 L215.3,1189.6 L217.6,1191.1 L219.9,1191.5 L222.3,1189.3 L224.6,1190.0 L226.9,1194.4 L229.3,1191.4 L231.6,1194.6 L234.0,1184.3 L236.3,1188.9 L238.6,1189.1 L241.0,1190.5 L243.3,1187.5 L245.7,1185.2 L248.0,1185.5 L250.3,1188.9 L252.7,1179.7" fill="none" stroke="#2438A4" stroke-width="0.85" stroke-linejoin="round"/>
<path d="M32.9,1188.6 L35.3,1197.4 L37.6,1202.0 L40.0,1198.7 L42.3,1198.2 L44.6,1200.3 L47.0,1198.0 L49.3,1191.6 L51.6,1185.6 L54.0,1188.3 L56.3,1188.5 L58.6,1184.8 L61.0,1179.0 L63.3,1181.6 L65.7,1184.6 L68.0,1188.4 L70.3,1193.2 L72.7,1188.0 L75.0,1182.8 L77.3,1184.8 L79.7,1188.8 L82.0,1184.7 L84.4,1186.1 L86.7,1188.5 L89.0,1194.9 L91.4,1185.4 L93.7,1187.6 L96.0,1179.9 L98.4,1185.2 L100.7,1183.3 L103.1,1185.3 L105.4,1175.3 L107.7,1173.9 L110.1,1179.2 L112.4,1174.3 L114.8,1184.4 L117.1,1178.8 L119.4,1182.3 L121.8,1181.4 L124.1,1182.4 L126.4,1177.9 L128.8,1187.0 L131.1,1183.8 L133.4,1174.8 L135.8,1188.1 L138.1,1183.0 L140.5,1186.5 L142.8,1193.5 L145.1,1182.1 L147.5,1182.7 L149.8,1175.3 L152.1,1187.1 L154.5,1180.9 L156.8,1173.9 L159.2,1187.2 L161.5,1180.4 L163.8,1178.4 L166.2,1180.2 L168.5,1175.7 L170.8,1177.9 L173.2,1185.0 L175.5,1187.7 L177.9,1186.1 L180.2,1178.1 L182.5,1183.9 L184.9,1181.4 L187.2,1185.7 L189.6,1183.9 L191.9,1184.1 L194.2,1181.5 L196.6,1178.4 L198.9,1188.1 L201.2,1194.2 L203.6,1191.7 L205.9,1191.0 L208.2,1189.8 L210.6,1186.4 L212.9,1191.9 L215.3,1191.9 L217.6,1192.0 L219.9,1187.3 L222.3,1192.8 L224.6,1187.3 L226.9,1182.4 L229.3,1190.4 L231.6,1185.5 L234.0,1187.7 L236.3,1190.8 L238.6,1182.3 L241.0,1182.7 L243.3,1189.3 L245.7,1186.9 L248.0,1191.1 L250.3,1194.8 L252.7,1184.3" fill="none" stroke="#2438A4" stroke-width="0.85" stroke-linejoin="round"/>
<path d="M32.9,1185.8 L35.3,1179.3 L37.6,1184.2 L40.0,1185.5 L42.3,1187.9 L44.6,1187.7 L47.0,1192.0 L49.3,1191.0 L51.6,1197.5 L54.0,1199.8 L56.3,1198.5 L58.6,1194.8 L61.0,1191.2 L63.3,1190.5 L65.7,1184.1 L68.0,1176.3 L70.3,1195.5 L72.7,1183.9 L75.0,1182.5 L77.3,1188.5 L79.7,1186.9 L82.0,1195.5 L84.4,1190.2 L86.7,1180.4 L89.0,1189.5 L91.4,1189.3 L93.7,1185.9 L96.0,1182.1 L98.4,1183.5 L100.7,1186.3 L103.1,1181.7 L105.4,1185.5 L107.7,1173.3 L110.1,1174.6 L112.4,1179.8 L114.8,1185.3 L117.1,1185.8 L119.4,1186.5 L121.8,1184.9 L124.1,1181.0 L126.4,1187.4 L128.8,1182.8 L131.1,1182.1 L133.4,1186.2 L135.8,1177.5 L138.1,1178.5 L140.5,1179.6 L142.8,1184.0 L145.1,1186.2 L147.5,1183.5 L149.8,1189.6 L152.1,1183.5 L154.5,1188.5 L156.8,1185.3 L159.2,1181.6 L161.5,1184.9 L163.8,1187.9 L166.2,1189.5 L168.5,1186.4 L170.8,1191.4 L173.2,1188.5 L175.5,1183.5 L177.9,1195.0 L180.2,1194.0 L182.5,1189.4 L184.9,1194.6 L187.2,1196.2 L189.6,1197.9 L191.9,1189.7 L194.2,1200.8 L196.6,1195.6 L198.9,1194.8 L201.2,1194.0 L203.6,1197.6 L205.9,1195.3 L208.2,1197.5 L210.6,1200.0 L212.9,1185.8 L215.3,1188.7 L217.6,1199.0 L219.9,1200.6 L222.3,1196.1 L224.6,1190.4 L226.9,1195.9 L229.3,1193.5 L231.6,1195.0 L234.0,1191.0 L236.3,1197.1 L238.6,1199.6 L241.0,1195.4 L243.3,1193.7 L245.7,1193.7 L248.0,1187.9 L250.3,1187.8 L252.7,1189.5" fill="none" stroke="#2438A4" stroke-width="0.85" stroke-linejoin="round"/>
<path d="M32.9,1244.0 L35.3,1235.8 L37.6,1234.0 L40.0,1239.9 L42.3,1238.9 L44.6,1242.8 L47.0,1238.2 L49.3,1238.0 L51.6,1244.2 L54.0,1237.8 L56.3,1236.8 L58.6,1236.0 L61.0,1229.1 L63.3,1228.8 L65.7,1226.4 L68.0,1230.2 L70.3,1223.4 L72.7,1229.9 L75.0,1224.6 L77.3,1232.0 L79.7,1226.0 L82.0,1228.9 L84.4,1231.0 L86.7,1221.6 L89.0,1220.1 L91.4,1217.6 L93.7,1218.2 L96.0,1216.7 L98.4,1216.9 L100.7,1216.8 L103.1,1214.9 L105.4,1204.1 L107.7,1214.8 L110.1,1219.5 L112.4,1217.9 L114.8,1215.7 L117.1,1209.2 L119.4,1204.3 L121.8,1202.1 L124.1,1207.0 L126.4,1203.9 L128.8,1197.6 L131.1,1200.6 L133.4,1198.3 L135.8,1207.2 L138.1,1201.4 L140.5,1199.8 L142.8,1208.0 L145.1,1204.8 L147.5,1201.0 L149.8,1206.4 L152.1,1200.1 L154.5,1197.8 L156.8,1199.9 L159.2,1202.4 L161.5,1203.4 L163.8,1201.3 L166.2,1197.3 L168.5,1207.1 L170.8,1203.3 L173.2,1202.0 L175.5,1206.6 L177.9,1209.9 L180.2,1206.3 L182.5,1211.8 L184.9,1205.2 L187.2,1205.6 L189.6,1209.5 L191.9,1205.9 L194.2,1208.7 L196.6,1209.2 L198.9,1201.1 L201.2,1207.4 L203.6,1217.2 L205.9,1207.7 L208.2,1210.8 L210.6,1211.2 L212.9,1200.6 L215.3,1204.5 L217.6,1201.8 L219.9,1210.6 L222.3,1211.6 L224.6,1210.9 L226.9,1203.7 L229.3,1207.4 L231.6,1213.8 L234.0,1203.6 L236.3,1205.8 L238.6,1203.3 L241.0,1199.1 L243.3,1191.0 L245.7,1197.6 L248.0,1191.7 L250.3,1202.1 L252.7,1197.5" fill="none" stroke="#2438A4" stroke-width="0.85" stroke-linejoin="round"/>
<path d="M32.9,1241.1 L35.3,1252.2 L37.6,1249.6 L40.0,1247.4 L42.3,1241.2 L44.6,1243.3 L47.0,1243.3 L49.3,1244.0 L51.6,1238.7 L54.0,1238.9 L56.3,1238.5 L58.6,1238.5 L61.0,1233.8 L63.3,1237.9 L65.7,1235.4 L68.0,1233.8 L70.3,1231.0 L72.7,1226.7 L75.0,1227.6 L77.3,1234.5 L79.7,1225.6 L82.0,1221.2 L84.4,1218.9 L86.7,1219.2 L89.0,1229.2 L91.4,1225.1 L93.7,1219.1 L96.0,1216.5 L98.4,1219.0 L100.7,1218.1 L103.1,1222.5 L105.4,1216.7 L107.7,1225.1 L110.1,1218.9 L112.4,1211.3 L114.8,1217.9 L117.1,1208.5 L119.4,1202.2 L121.8,1206.1 L124.1,1211.3 L126.4,1212.3 L128.8,1215.4 L131.1,1207.4 L133.4,1212.8 L135.8,1208.4 L138.1,1212.4 L140.5,1206.2 L142.8,1212.5 L145.1,1208.6 L147.5,1209.9 L149.8,1202.6 L152.1,1206.4 L154.5,1206.5 L156.8,1200.7 L159.2,1208.8 L161.5,1211.7 L163.8,1207.5 L166.2,1210.4 L168.5,1199.5 L170.8,1203.0 L173.2,1203.6 L175.5,1206.5 L177.9,1219.7 L180.2,1204.5 L182.5,1206.1 L184.9,1215.1 L187.2,1213.7 L189.6,1208.8 L191.9,1202.0 L194.2,1204.0 L196.6,1204.6 L198.9,1205.0 L201.2,1210.6 L203.6,1211.4 L205.9,1208.7 L208.2,1213.9 L210.6,1209.5 L212.9,1205.4 L215.3,1217.5 L217.6,1211.7 L219.9,1210.1 L222.3,1207.9 L224.6,1199.9 L226.9,1211.0 L229.3,1199.5 L231.6,1201.3 L234.0,1193.6 L236.3,1203.4 L238.6,1202.7 L241.0,1204.0 L243.3,1201.1 L245.7,1205.6 L248.0,1205.8 L250.3,1202.3 L252.7,1196.7" fill="none" stroke="#2438A4" stroke-width="0.85" stroke-linejoin="round"/>
<path d="M32.9,1251.5 L35.3,1247.1 L37.6,1248.4 L40.0,1244.5 L42.3,1240.6 L44.6,1249.2 L47.0,1249.2 L49.3,1245.8 L51.6,1247.1 L54.0,1236.2 L56.3,1231.1 L58.6,1233.0 L61.0,1233.9 L63.3,1240.6 L65.7,1241.2 L68.0,1234.5 L70.3,1227.1 L72.7,1232.1 L75.0,1230.0 L77.3,1222.8 L79.7,1219.2 L82.0,1229.4 L84.4,1226.0 L86.7,1222.1 L89.0,1230.7 L91.4,1227.3 L93.7,1222.6 L96.0,1223.6 L98.4,1218.5 L100.7,1220.3 L103.1,1225.9 L105.4,1225.0 L107.7,1227.9 L110.1,1224.6 L112.4,1214.6 L114.8,1212.4 L117.1,1210.2 L119.4,1205.5 L121.8,1214.3 L124.1,1213.7 L126.4,1210.3 L128.8,1202.1 L131.1,1205.4 L133.4,1207.9 L135.8,1206.4 L138.1,1211.0 L140.5,1216.8 L142.8,1207.6 L145.1,1208.7 L147.5,1205.0 L149.8,1211.0 L152.1,1211.4 L154.5,1204.2 L156.8,1204.4 L159.2,1201.2 L161.5,1207.4 L163.8,1206.0 L166.2,1202.9 L168.5,1201.1 L170.8,1204.7 L173.2,1204.5 L175.5,1206.2 L177.9,1207.0 L180.2,1207.1 L182.5,1205.0 L184.9,1212.3 L187.2,1209.0 L189.6,1212.5 L191.9,1209.2 L194.2,1209.6 L196.6,1208.0 L198.9,1209.5 L201.2,1209.7 L203.6,1215.4 L205.9,1205.0 L208.2,1214.1 L210.6,1219.2 L212.9,1211.0 L215.3,1207.5 L217.6,1209.5 L219.9,1211.1 L222.3,1215.0 L224.6,1203.0 L226.9,1214.8 L229.3,1200.5 L231.6,1213.1 L234.0,1214.1 L236.3,1210.6 L238.6,1210.0 L241.0,1205.2 L243.3,1209.1 L245.7,1207.3 L248.0,1211.5 L250.3,1199.8 L252.7,1201.8" fill="none" stroke="#2438A4" stroke-width="0.85" stroke-linejoin="round"/>
<path d="M32.9,1244.0 L35.3,1240.5 L37.6,1236.5 L40.0,1237.4 L42.3,1242.1 L44.6,1239.3 L47.0,1237.2 L49.3,1235.7 L51.6,1238.0 L54.0,1233.8 L56.3,1239.7 L58.6,1235.5 L61.0,1237.7 L63.3,1233.8 L65.7,1234.8 L68.0,1228.8 L70.3,1231.0 L72.7,1223.9 L75.0,1230.3 L77.3,1222.9 L79.7,1228.1 L82.0,1236.0 L84.4,1231.2 L86.7,1220.7 L89.0,1219.8 L91.4,1217.5 L93.7,1219.9 L96.0,1216.7 L98.4,1220.8 L100.7,1209.4 L103.1,1205.8 L105.4,1209.1 L107.7,1213.9 L110.1,1215.0 L112.4,1209.1 L114.8,1207.8 L117.1,1212.4 L119.4,1206.0 L121.8,1202.9 L124.1,1202.8 L126.4,1203.0 L128.8,1203.3 L131.1,1204.0 L133.4,1205.1 L135.8,1206.4 L138.1,1198.4 L140.5,1207.8 L142.8,1203.0 L145.1,1198.1 L147.5,1190.1 L149.8,1199.0 L152.1,1194.0 L154.5,1192.7 L156.8,1193.6 L159.2,1189.8 L161.5,1203.9 L163.8,1196.4 L166.2,1198.8 L168.5,1197.2 L170.8,1199.1 L173.2,1202.8 L175.5,1208.4 L177.9,1200.1 L180.2,1200.6 L182.5,1205.5 L184.9,1201.8 L187.2,1205.1 L189.6,1205.2 L191.9,1200.7 L194.2,1196.8 L196.6,1207.6 L198.9,1202.8 L201.2,1198.5 L203.6,1205.4 L205.9,1203.3 L208.2,1200.0 L210.6,1196.3 L212.9,1204.2 L215.3,1208.7 L217.6,1205.6 L219.9,1204.0 L222.3,1201.4 L224.6,1200.0 L226.9,1208.1 L229.3,1198.6 L231.6,1205.8 L234.0,1198.8 L236.3,1195.6 L238.6,1194.4 L241.0,1194.0 L243.3,1193.0 L245.7,1196.9 L248.0,1197.5 L250.3,1183.8 L252.7,1181.1" fill="none" stroke="#2438A4" stroke-width="0.85" stroke-linejoin="round"/>
<path d="M32.9,1182.2 L35.3,1184.7 L37.6,1193.7 L40.0,1182.6 L42.3,1187.7 L44.6,1188.4 L47.0,1185.3 L49.3,1190.0 L51.6,1183.2 L54.0,1195.9 L56.3,1184.7 L58.6,1183.8 L61.0,1188.6 L63.3,1182.8 L65.7,1179.2 L68.0,1179.1 L70.3,1178.0 L72.7,1181.8 L75.0,1177.2 L77.3,1175.2 L79.7,1173.0 L82.0,1174.2 L84.4,1183.4 L86.7,1176.6 L89.0,1181.4 L91.4,1180.0 L93.7,1176.4 L96.0,1173.5 L98.4,1173.9 L100.7,1170.9 L103.1,1168.7 L105.4,1168.8 L107.7,1168.7 L110.1,1167.0 L112.4,1164.6 L114.8,1169.8 L117.1,1173.3 L119.4,1163.5 L121.8,1163.9 L124.1,1173.5 L126.4,1162.1 L128.8,1158.2 L131.1,1168.7 L133.4,1168.9 L135.8,1166.0 L138.1,1167.7 L140.5,1165.5 L142.8,1162.4 L145.1,1157.0 L147.5,1169.2 L149.8,1162.4 L152.1,1156.2 L154.5,1168.5 L156.8,1161.0 L159.2,1160.3 L161.5,1162.1 L163.8,1157.3 L166.2,1153.6 L168.5,1153.5 L170.8,1149.7 L173.2,1159.9 L175.5,1168.6 L177.9,1165.2 L180.2,1161.5 L182.5,1156.6 L184.9,1157.9 L187.2,1163.1 L189.6,1156.9 L191.9,1159.1 L194.2,1160.8 L196.6,1163.4 L198.9,1162.0 L201.2,1161.1 L203.6,1163.4 L205.9,1174.1 L208.2,1171.5 L210.6,1165.6 L212.9,1159.4 L215.3,1159.3 L217.6,1159.8 L219.9,1157.5 L222.3,1161.2 L224.6,1159.8 L226.9,1160.6 L229.3,1164.0 L231.6,1169.6 L234.0,1174.3 L236.3,1167.1 L238.6,1171.5 L241.0,1168.0 L243.3,1163.2 L245.7,1167.3 L248.0,1161.4 L250.3,1162.6 L252.7,1166.2" fill="none" stroke="#3F82C0" stroke-width="0.85" stroke-linejoin="round"/>
<path d="M32.9,1187.9 L35.3,1188.0 L37.6,1193.0 L40.0,1190.4 L42.3,1197.1 L44.6,1193.7 L47.0,1192.0 L49.3,1197.4 L51.6,1193.9 L54.0,1186.8 L56.3,1193.8 L58.6,1197.9 L61.0,1200.2 L63.3,1197.7 L65.7,1198.2 L68.0,1200.4 L70.3,1192.8 L72.7,1189.2 L75.0,1193.4 L77.3,1189.7 L79.7,1184.2 L82.0,1184.6 L84.4,1185.0 L86.7,1182.4 L89.0,1187.1 L91.4,1181.1 L93.7,1174.5 L96.0,1183.2 L98.4,1190.8 L100.7,1187.5 L103.1,1187.2 L105.4,1181.2 L107.7,1174.6 L110.1,1175.0 L112.4,1169.5 L114.8,1173.1 L117.1,1175.4 L119.4,1184.7 L121.8,1176.8 L124.1,1178.6 L126.4,1178.4 L128.8,1176.8 L131.1,1167.7 L133.4,1168.0 L135.8,1171.7 L138.1,1179.0 L140.5,1176.5 L142.8,1174.9 L145.1,1169.2 L147.5,1168.9 L149.8,1168.8 L152.1,1175.3 L154.5,1168.8 L156.8,1159.1 L159.2,1174.4 L161.5,1177.5 L163.8,1173.7 L166.2,1168.6 L168.5,1170.4 L170.8,1171.8 L173.2,1166.3 L175.5,1176.3 L177.9,1183.9 L180.2,1184.1 L182.5,1174.1 L184.9,1170.7 L187.2,1175.9 L189.6,1182.5 L191.9,1182.3 L194.2,1177.0 L196.6,1173.2 L198.9,1179.4 L201.2,1182.6 L203.6,1184.2 L205.9,1183.7 L208.2,1178.1 L210.6,1178.9 L212.9,1178.6 L215.3,1179.9 L217.6,1180.1 L219.9,1187.0 L222.3,1188.2 L224.6,1182.4 L226.9,1180.5 L229.3,1176.9 L231.6,1180.9 L234.0,1185.6 L236.3,1183.9 L238.6,1183.4 L241.0,1179.5 L243.3,1181.2 L245.7,1178.2 L248.0,1176.7 L250.3,1175.7 L252.7,1174.5" fill="none" stroke="#3F82C0" stroke-width="0.85" stroke-linejoin="round"/>
<path d="M32.9,1242.1 L35.3,1232.5 L37.6,1228.4 L40.0,1230.5 L42.3,1227.3 L44.6,1231.1 L47.0,1236.0 L49.3,1232.2 L51.6,1232.9 L54.0,1232.9 L56.3,1224.6 L58.6,1232.4 L61.0,1225.0 L63.3,1229.5 L65.7,1235.2 L68.0,1225.1 L70.3,1224.0 L72.7,1222.2 L75.0,1220.6 L77.3,1215.5 L79.7,1216.2 L82.0,1218.2 L84.4,1217.1 L86.7,1213.4 L89.0,1215.7 L91.4,1211.4 L93.7,1219.8 L96.0,1213.0 L98.4,1209.6 L100.7,1204.5 L103.1,1210.0 L105.4,1207.0 L107.7,1202.3 L110.1,1189.7 L112.4,1196.8 L114.8,1196.3 L117.1,1200.4 L119.4,1189.2 L121.8,1195.6 L124.1,1196.9 L126.4,1195.0 L128.8,1200.3 L131.1,1200.0 L133.4,1196.6 L135.8,1197.1 L138.1,1189.1 L140.5,1192.7 L142.8,1181.6 L145.1,1186.5 L147.5,1192.0 L149.8,1189.5 L152.1,1186.2 L154.5,1188.1 L156.8,1186.6 L159.2,1188.9 L161.5,1191.9 L163.8,1189.8 L166.2,1181.1 L168.5,1187.8 L170.8,1188.3 L173.2,1194.9 L175.5,1193.1 L177.9,1188.4 L180.2,1190.0 L182.5,1184.1 L184.9,1183.3 L187.2,1189.3 L189.6,1189.8 L191.9,1186.8 L194.2,1187.3 L196.6,1190.5 L198.9,1198.3 L201.2,1186.9 L203.6,1189.5 L205.9,1189.9 L208.2,1193.9 L210.6,1185.8 L212.9,1190.4 L215.3,1190.7 L217.6,1200.3 L219.9,1196.6 L222.3,1193.8 L224.6,1191.1 L226.9,1189.0 L229.3,1192.2 L231.6,1187.8 L234.0,1191.3 L236.3,1192.4 L238.6,1191.8 L241.0,1198.6 L243.3,1202.6 L245.7,1185.9 L248.0,1195.9 L250.3,1193.5 L252.7,1187.0" fill="none" stroke="#3F82C0" stroke-width="0.85" stroke-linejoin="round"/>
<path d="M32.9,1244.2 L35.3,1236.5 L37.6,1248.1 L40.0,1242.4 L42.3,1238.3 L44.6,1229.9 L47.0,1230.0 L49.3,1239.1 L51.6,1234.4 L54.0,1234.9 L56.3,1240.8 L58.6,1238.9 L61.0,1230.9 L63.3,1233.5 L65.7,1236.4 L68.0,1235.0 L70.3,1236.5 L72.7,1237.5 L75.0,1228.5 L77.3,1224.6 L79.7,1220.0 L82.0,1228.9 L84.4,1228.8 L86.7,1221.2 L89.0,1219.3 L91.4,1219.2 L93.7,1222.6 L96.0,1219.0 L98.4,1221.8 L100.7,1209.0 L103.1,1208.0 L105.4,1214.1 L107.7,1205.5 L110.1,1211.9 L112.4,1206.2 L114.8,1205.5 L117.1,1207.0 L119.4,1199.2 L121.8,1209.2 L124.1,1205.8 L126.4,1204.2 L128.8,1209.4 L131.1,1209.3 L133.4,1201.6 L135.8,1198.3 L138.1,1202.3 L140.5,1196.3 L142.8,1194.6 L145.1,1192.4 L147.5,1195.7 L149.8,1195.8 L152.1,1192.5 L154.5,1196.4 L156.8,1198.5 L159.2,1200.5 L161.5,1193.6 L163.8,1188.2 L166.2,1199.8 L168.5,1196.5 L170.8,1191.1 L173.2,1186.1 L175.5,1189.9 L177.9,1195.6 L180.2,1190.8 L182.5,1182.5 L184.9,1188.4 L187.2,1188.8 L189.6,1184.6 L191.9,1197.2 L194.2,1191.3 L196.6,1186.7 L198.9,1187.5 L201.2,1191.4 L203.6,1194.9 L205.9,1197.0 L208.2,1200.9 L210.6,1198.8 L212.9,1201.2 L215.3,1197.4 L217.6,1196.9 L219.9,1198.4 L222.3,1198.1 L224.6,1196.0 L226.9,1200.9 L229.3,1194.4 L231.6,1194.2 L234.0,1192.3 L236.3,1195.4 L238.6,1195.5 L241.0,1193.8 L243.3,1193.0 L245.7,1194.4 L248.0,1194.1 L250.3,1194.2 L252.7,1192.9" fill="none" stroke="#3F82C0" stroke-width="0.85" stroke-linejoin="round"/>
<path d="M32.9,1247.0 L35.3,1247.1 L37.6,1248.5 L40.0,1238.7 L42.3,1243.9 L44.6,1242.7 L47.0,1245.5 L49.3,1241.0 L51.6,1234.5 L54.0,1240.1 L56.3,1237.3 L58.6,1236.7 L61.0,1231.8 L63.3,1233.4 L65.7,1233.2 L68.0,1232.7 L70.3,1238.9 L72.7,1227.4 L75.0,1220.3 L77.3,1227.6 L79.7,1221.7 L82.0,1222.6 L84.4,1215.7 L86.7,1221.0 L89.0,1217.5 L91.4,1211.8 L93.7,1212.3 L96.0,1212.9 L98.4,1213.2 L100.7,1214.6 L103.1,1211.1 L105.4,1213.7 L107.7,1202.6 L110.1,1203.0 L112.4,1205.2 L114.8,1210.7 L117.1,1200.9 L119.4,1196.0 L121.8,1197.4 L124.1,1195.4 L126.4,1194.1 L128.8,1196.8 L131.1,1198.0 L133.4,1196.2 L135.8,1190.4 L138.1,1195.7 L140.5,1200.9 L142.8,1195.1 L145.1,1193.0 L147.5,1192.8 L149.8,1191.3 L152.1,1196.1 L154.5,1196.0 L156.8,1193.8 L159.2,1191.6 L161.5,1188.4 L163.8,1186.4 L166.2,1187.8 L168.5,1189.6 L170.8,1193.5 L173.2,1192.5 L175.5,1196.7 L177.9,1194.5 L180.2,1189.2 L182.5,1187.1 L184.9,1193.0 L187.2,1185.8 L189.6,1198.3 L191.9,1190.3 L194.2,1190.1 L196.6,1190.9 L198.9,1188.9 L201.2,1191.8 L203.6,1181.8 L205.9,1190.1 L208.2,1192.1 L210.6,1190.2 L212.9,1199.0 L215.3,1194.3 L217.6,1198.1 L219.9,1187.9 L222.3,1192.5 L224.6,1192.3 L226.9,1199.0 L229.3,1186.2 L231.6,1196.7 L234.0,1198.6 L236.3,1196.0 L238.6,1201.2 L241.0,1198.6 L243.3,1193.7 L245.7,1185.7 L248.0,1182.5 L250.3,1190.3 L252.7,1189.5" fill="none" stroke="#3F82C0" stroke-width="0.85" stroke-linejoin="round"/>
<path d="M32.9,1183.4 L35.3,1181.0 L37.6,1187.3 L40.0,1186.4 L42.3,1184.6 L44.6,1182.9 L47.0,1183.3 L49.3,1174.3 L51.6,1179.1 L54.0,1173.9 L56.3,1174.1 L58.6,1160.8 L61.0,1164.3 L63.3,1178.4 L65.7,1171.0 L68.0,1178.8 L70.3,1165.9 L72.7,1167.8 L75.0,1174.7 L77.3,1171.0 L79.7,1165.9 L82.0,1155.8 L84.4,1157.1 L86.7,1154.6 L89.0,1157.5 L91.4,1156.3 L93.7,1158.9 L96.0,1153.9 L98.4,1150.7 L100.7,1147.7 L103.1,1148.7 L105.4,1145.3 L107.7,1144.0 L110.1,1139.6 L112.4,1140.7 L114.8,1139.8 L117.1,1139.6 L119.4,1137.5 L121.8,1134.1 L124.1,1135.1 L126.4,1124.8 L128.8,1121.6 L131.1,1122.4 L133.4,1119.9 L135.8,1126.5 L138.1,1125.0 L140.5,1123.0 L142.8,1118.5 L145.1,1113.9 L147.5,1111.5 L149.8,1119.6 L152.1,1115.5 L154.5,1108.6 L156.8,1111.6 L159.2,1108.8 L161.5,1116.4 L163.8,1110.9 L166.2,1110.0 L168.5,1116.6 L170.8,1106.4 L173.2,1100.5 L175.5,1100.7 L177.9,1105.3 L180.2,1105.5 L182.5,1107.5 L184.9,1102.5 L187.2,1101.4 L189.6,1096.9 L191.9,1101.4 L194.2,1098.7 L196.6,1102.7 L198.9,1105.8 L201.2,1103.8 L203.6,1106.7 L205.9,1107.6 L208.2,1101.2 L210.6,1099.4 L212.9,1105.2 L215.3,1107.5 L217.6,1105.3 L219.9,1107.0 L222.3,1101.5 L224.6,1104.3 L226.9,1109.3 L229.3,1108.9 L231.6,1103.6 L234.0,1095.1 L236.3,1099.1 L238.6,1108.2 L241.0,1109.0 L243.3,1104.6 L245.7,1104.7 L248.0,1103.2 L250.3,1094.9 L252.7,1105.0" fill="none" stroke="#A81C26" stroke-width="0.85" stroke-linejoin="round"/>
<path d="M32.9,1192.4 L35.3,1189.5 L37.6,1190.0 L40.0,1189.9 L42.3,1187.6 L44.6,1190.7 L47.0,1187.3 L49.3,1190.0 L51.6,1190.0 L54.0,1198.7 L56.3,1197.6 L58.6,1195.1 L61.0,1189.8 L63.3,1193.3 L65.7,1195.3 L68.0,1194.7 L70.3,1183.7 L72.7,1193.3 L75.0,1188.5 L77.3,1187.2 L79.7,1180.4 L82.0,1180.8 L84.4,1184.5 L86.7,1180.0 L89.0,1176.0 L91.4,1181.0 L93.7,1187.2 L96.0,1186.3 L98.4,1180.0 L100.7,1181.8 L103.1,1176.6 L105.4,1170.0 L107.7,1171.1 L110.1,1162.2 L112.4,1168.4 L114.8,1173.9 L117.1,1168.8 L119.4,1163.0 L121.8,1170.3 L124.1,1163.9 L126.4,1156.0 L128.8,1158.8 L131.1,1151.9 L133.4,1162.9 L135.8,1156.6 L138.1,1163.2 L140.5,1164.6 L142.8,1163.0 L145.1,1151.0 L147.5,1149.8 L149.8,1144.0 L152.1,1150.9 L154.5,1155.7 L156.8,1145.7 L159.2,1148.5 L161.5,1152.2 L163.8,1143.0 L166.2,1138.5 L168.5,1144.2 L170.8,1141.5 L173.2,1138.4 L175.5,1143.3 L177.9,1143.7 L180.2,1138.8 L182.5,1131.1 L184.9,1139.5 L187.2,1134.0 L189.6,1133.0 L191.9,1133.9 L194.2,1135.5 L196.6,1138.4 L198.9,1132.6 L201.2,1133.9 L203.6,1144.1 L205.9,1134.9 L208.2,1136.7 L210.6,1134.2 L212.9,1124.0 L215.3,1127.9 L217.6,1139.1 L219.9,1135.2 L222.3,1136.9 L224.6,1127.9 L226.9,1143.5 L229.3,1131.2 L231.6,1129.5 L234.0,1130.4 L236.3,1127.0 L238.6,1119.7 L241.0,1132.8 L243.3,1130.5 L245.7,1127.3 L248.0,1125.6 L250.3,1125.7 L252.7,1122.0" fill="none" stroke="#A81C26" stroke-width="0.85" stroke-linejoin="round"/>
<path d="M32.9,1234.5 L35.3,1237.1 L37.6,1244.5 L40.0,1233.5 L42.3,1225.7 L44.6,1224.2 L47.0,1226.9 L49.3,1223.1 L51.6,1234.6 L54.0,1225.6 L56.3,1224.3 L58.6,1225.0 L61.0,1218.1 L63.3,1221.6 L65.7,1222.6 L68.0,1224.9 L70.3,1228.6 L72.7,1221.6 L75.0,1207.1 L77.3,1200.9 L79.7,1210.2 L82.0,1207.8 L84.4,1198.9 L86.7,1207.8 L89.0,1206.2 L91.4,1209.3 L93.7,1193.6 L96.0,1198.9 L98.4,1197.8 L100.7,1194.4 L103.1,1196.3 L105.4,1178.1 L107.7,1178.5 L110.1,1172.4 L112.4,1190.4 L114.8,1180.2 L117.1,1180.6 L119.4,1184.3 L121.8,1178.0 L124.1,1167.2 L126.4,1165.0 L128.8,1171.7 L131.1,1152.3 L133.4,1157.2 L135.8,1167.5 L138.1,1169.7 L140.5,1168.3 L142.8,1164.1 L145.1,1164.1 L147.5,1163.8 L149.8,1154.6 L152.1,1159.2 L154.5,1155.7 L156.8,1157.7 L159.2,1155.6 L161.5,1146.8 L163.8,1149.4 L166.2,1145.6 L168.5,1148.2 L170.8,1142.2 L173.2,1145.7 L175.5,1140.2 L177.9,1150.5 L180.2,1140.7 L182.5,1140.7 L184.9,1147.3 L187.2,1147.6 L189.6,1154.1 L191.9,1146.9 L194.2,1142.1 L196.6,1144.0 L198.9,1136.1 L201.2,1150.0 L203.6,1143.9 L205.9,1147.1 L208.2,1144.1 L210.6,1135.9 L212.9,1137.7 L215.3,1130.3 L217.6,1137.4 L219.9,1140.8 L222.3,1139.6 L224.6,1145.2 L226.9,1143.5 L229.3,1138.7 L231.6,1131.9 L234.0,1139.5 L236.3,1141.1 L238.6,1144.7 L241.0,1144.6 L243.3,1137.4 L245.7,1134.3 L248.0,1131.6 L250.3,1133.3 L252.7,1126.6" fill="none" stroke="#A81C26" stroke-width="0.85" stroke-linejoin="round"/>
<path d="M32.9,1247.1 L35.3,1238.1 L37.6,1234.3 L40.0,1237.8 L42.3,1234.4 L44.6,1236.2 L47.0,1236.9 L49.3,1233.7 L51.6,1236.1 L54.0,1232.8 L56.3,1227.7 L58.6,1233.9 L61.0,1225.6 L63.3,1219.6 L65.7,1214.3 L68.0,1221.6 L70.3,1215.2 L72.7,1227.3 L75.0,1227.3 L77.3,1218.7 L79.7,1220.9 L82.0,1219.4 L84.4,1218.1 L86.7,1212.9 L89.0,1211.7 L91.4,1211.5 L93.7,1205.5 L96.0,1204.9 L98.4,1200.7 L100.7,1196.5 L103.1,1192.7 L105.4,1194.1 L107.7,1194.3 L110.1,1193.0 L112.4,1194.7 L114.8,1186.1 L117.1,1184.9 L119.4,1177.8 L121.8,1178.2 L124.1,1181.1 L126.4,1174.0 L128.8,1176.5 L131.1,1175.0 L133.4,1170.8 L135.8,1169.6 L138.1,1173.3 L140.5,1166.0 L142.8,1164.4 L145.1,1165.0 L147.5,1165.1 L149.8,1162.1 L152.1,1169.1 L154.5,1156.2 L156.8,1170.6 L159.2,1166.8 L161.5,1164.7 L163.8,1156.5 L166.2,1155.2 L168.5,1152.6 L170.8,1159.0 L173.2,1148.3 L175.5,1146.0 L177.9,1159.8 L180.2,1151.9 L182.5,1159.8 L184.9,1154.8 L187.2,1147.4 L189.6,1147.4 L191.9,1153.6 L194.2,1151.8 L196.6,1142.3 L198.9,1143.7 L201.2,1141.0 L203.6,1152.0 L205.9,1144.0 L208.2,1142.9 L210.6,1148.0 L212.9,1137.5 L215.3,1141.3 L217.6,1137.6 L219.9,1143.2 L222.3,1140.0 L224.6,1138.2 L226.9,1140.6 L229.3,1139.9 L231.6,1138.4 L234.0,1139.6 L236.3,1145.4 L238.6,1138.9 L241.0,1138.9 L243.3,1136.6 L245.7,1140.8 L248.0,1130.0 L250.3,1129.3 L252.7,1126.2" fill="none" stroke="#A81C26" stroke-width="0.85" stroke-linejoin="round"/>
<path d="M32.9,1231.2 L35.3,1235.5 L37.6,1240.2 L40.0,1246.1 L42.3,1235.5 L44.6,1236.1 L47.0,1233.0 L49.3,1229.0 L51.6,1234.4 L54.0,1239.0 L56.3,1233.0 L58.6,1234.5 L61.0,1235.9 L63.3,1229.3 L65.7,1229.4 L68.0,1224.6 L70.3,1229.9 L72.7,1225.6 L75.0,1223.7 L77.3,1220.8 L79.7,1221.6 L82.0,1214.3 L84.4,1221.2 L86.7,1212.6 L89.0,1205.5 L91.4,1207.5 L93.7,1206.3 L96.0,1208.8 L98.4,1203.1 L100.7,1199.2 L103.1,1197.9 L105.4,1195.2 L107.7,1192.2 L110.1,1191.6 L112.4,1200.1 L114.8,1197.9 L117.1,1191.0 L119.4,1176.5 L121.8,1176.2 L124.1,1180.2 L126.4,1181.0 L128.8,1181.3 L131.1,1175.1 L133.4,1176.5 L135.8,1174.0 L138.1,1176.7 L140.5,1174.2 L142.8,1175.1 L145.1,1173.4 L147.5,1169.7 L149.8,1160.2 L152.1,1160.4 L154.5,1156.1 L156.8,1161.3 L159.2,1158.3 L161.5,1160.9 L163.8,1158.8 L166.2,1157.2 L168.5,1163.1 L170.8,1156.0 L173.2,1159.2 L175.5,1151.2 L177.9,1153.6 L180.2,1158.2 L182.5,1157.1 L184.9,1154.7 L187.2,1142.2 L189.6,1150.9 L191.9,1148.7 L194.2,1144.9 L196.6,1144.9 L198.9,1143.8 L201.2,1139.4 L203.6,1144.3 L205.9,1133.5 L208.2,1131.6 L210.6,1136.2 L212.9,1131.5 L215.3,1135.6 L217.6,1139.0 L219.9,1143.3 L222.3,1141.6 L224.6,1134.6 L226.9,1133.2 L229.3,1126.1 L231.6,1123.7 L234.0,1125.6 L236.3,1129.4 L238.6,1121.9 L241.0,1127.9 L243.3,1140.4 L245.7,1133.2 L248.0,1126.8 L250.3,1123.6 L252.7,1121.8" fill="none" stroke="#A81C26" stroke-width="0.85" stroke-linejoin="round"/>
<path d="M32.9,1233.2 L35.3,1249.0 L37.6,1228.7 L40.0,1230.5 L42.3,1232.7 L44.6,1242.5 L47.0,1231.3 L49.3,1236.2 L51.6,1241.4 L54.0,1229.5 L56.3,1225.2 L58.6,1226.2 L61.0,1229.1 L63.3,1222.4 L65.7,1221.0 L68.0,1218.0 L70.3,1215.5 L72.7,1222.8 L75.0,1214.2 L77.3,1218.6 L79.7,1210.2 L82.0,1210.4 L84.4,1209.7 L86.7,1197.7 L89.0,1199.6 L91.4,1198.9 L93.7,1194.4 L96.0,1184.8 L98.4,1205.0 L100.7,1193.2 L103.1,1190.5 L105.4,1183.0 L107.7,1184.8 L110.1,1184.3 L112.4,1179.7 L114.8,1180.0 L117.1,1182.9 L119.4,1178.1 L121.8,1166.4 L124.1,1167.8 L126.4,1181.2 L128.8,1173.5 L131.1,1174.1 L133.4,1163.8 L135.8,1169.8 L138.1,1165.4 L140.5,1160.2 L142.8,1156.0 L145.1,1160.9 L147.5,1157.1 L149.8,1145.3 L152.1,1155.3 L154.5,1154.0 L156.8,1157.2 L159.2,1154.1 L161.5,1149.0 L163.8,1149.0 L166.2,1145.2 L168.5,1153.1 L170.8,1147.8 L173.2,1147.8 L175.5,1160.0 L177.9,1143.4 L180.2,1142.8 L182.5,1145.6 L184.9,1137.8 L187.2,1137.7 L189.6,1151.6 L191.9,1141.3 L194.2,1128.2 L196.6,1134.4 L198.9,1133.3 L201.2,1145.2 L203.6,1147.8 L205.9,1147.8 L208.2,1135.0 L210.6,1131.6 L212.9,1147.5 L215.3,1135.0 L217.6,1146.0 L219.9,1145.7 L222.3,1138.8 L224.6,1139.5 L226.9,1136.2 L229.3,1133.7 L231.6,1127.8 L234.0,1134.1 L236.3,1136.6 L238.6,1137.2 L241.0,1121.3 L243.3,1122.4 L245.7,1122.1 L248.0,1124.8 L250.3,1126.7 L252.7,1120.7" fill="none" stroke="#A81C26" stroke-width="0.85" stroke-linejoin="round"/>
<path d="M33.3,1222.0 L36.1,1222.2 L38.9,1222.3 L41.6,1222.3 L44.4,1222.1 L47.2,1221.9 L50.0,1221.5 L52.7,1221.0 L55.5,1220.5 L58.3,1219.8 L61.1,1219.1 L63.8,1218.4 L66.6,1217.6 L69.4,1216.7 L72.2,1215.8 L74.9,1214.9 L77.7,1214.0 L80.5,1213.0 L83.3,1212.1 L86.0,1211.1 L88.8,1210.1 L91.6,1209.2 L94.4,1208.2 L97.1,1207.3 L99.9,1206.4 L102.7,1205.5 L105.5,1204.6 L108.3,1203.8 L111.0,1203.0 L113.8,1202.2 L116.6,1201.5 L119.4,1200.8 L122.1,1200.2 L124.9,1199.6 L127.7,1199.1 L130.5,1198.6 L133.2,1198.2 L136.0,1197.8 L138.8,1197.4 L141.6,1197.2 L144.3,1196.9 L147.1,1196.8 L149.9,1196.6 L152.7,1196.5 L155.4,1196.5 L158.2,1196.5 L161.0,1196.6 L163.8,1196.7 L166.5,1196.8 L169.3,1197.0 L172.1,1197.2 L174.9,1197.5 L177.6,1197.7 L180.4,1198.0 L183.2,1198.3 L186.0,1198.6 L188.8,1199.0 L191.5,1199.3 L194.3,1199.6 L197.1,1199.9 L199.9,1200.2 L202.6,1200.5 L205.4,1200.8 L208.2,1201.0 L211.0,1201.2 L213.7,1201.3 L216.5,1201.4 L219.3,1201.4 L222.1,1201.4 L224.8,1201.2 L227.6,1201.0 L230.4,1200.7 L233.2,1200.3 L235.9,1199.7 L238.7,1199.0 L241.5,1198.2 L244.3,1197.3 L247.0,1196.1 L249.8,1194.8 L252.6,1193.4" fill="none" stroke="#2E4EA3" stroke-width="4.5" stroke-linejoin="round"/>
<path d="M33.3,1221.1 L36.1,1221.3 L38.9,1221.3 L41.6,1221.2 L44.4,1220.9 L47.2,1220.5 L50.0,1219.9 L52.7,1219.3 L55.5,1218.5 L58.3,1217.6 L61.1,1216.7 L63.8,1215.7 L66.6,1214.6 L69.4,1213.5 L72.2,1212.3 L74.9,1211.0 L77.7,1209.8 L80.5,1208.5 L83.3,1207.2 L86.0,1205.9 L88.8,1204.5 L91.6,1203.2 L94.4,1201.9 L97.1,1200.6 L99.9,1199.3 L102.7,1198.1 L105.5,1196.8 L108.3,1195.6 L111.0,1194.5 L113.8,1193.4 L116.6,1192.3 L119.4,1191.3 L122.1,1190.3 L124.9,1189.4 L127.7,1188.5 L130.5,1187.7 L133.2,1187.0 L136.0,1186.3 L138.8,1185.7 L141.6,1185.1 L144.3,1184.6 L147.1,1184.2 L149.9,1183.8 L152.7,1183.5 L155.4,1183.2 L158.2,1183.0 L161.0,1182.9 L163.8,1182.8 L166.5,1182.8 L169.3,1182.8 L172.1,1182.9 L174.9,1183.0 L177.6,1183.2 L180.4,1183.4 L183.2,1183.7 L186.0,1184.0 L188.8,1184.3 L191.5,1184.6 L194.3,1185.0 L197.1,1185.3 L199.9,1185.7 L202.6,1186.1 L205.4,1186.4 L208.2,1186.8 L211.0,1187.1 L213.7,1187.4 L216.5,1187.7 L219.3,1187.9 L222.1,1188.1 L224.8,1188.2 L227.6,1188.3 L230.4,1188.2 L233.2,1188.1 L235.9,1187.9 L238.7,1187.6 L241.5,1187.1 L244.3,1186.6 L247.0,1185.9 L249.8,1185.0 L252.6,1184.0" fill="none" stroke="#8DBDE6" stroke-width="4.5" stroke-linejoin="round"/>
<path d="M33.3,1219.4 L36.1,1219.3 L38.9,1219.1 L41.6,1218.6 L44.4,1218.0 L47.2,1217.3 L50.0,1216.4 L52.7,1215.3 L55.5,1214.1 L58.3,1212.8 L61.1,1211.4 L63.8,1209.9 L66.6,1208.4 L69.4,1206.7 L72.2,1204.9 L74.9,1203.1 L77.7,1201.2 L80.5,1199.3 L83.3,1197.4 L86.0,1195.4 L88.8,1193.3 L91.6,1191.3 L94.4,1189.2 L97.1,1187.2 L99.9,1185.1 L102.7,1183.0 L105.5,1181.0 L108.3,1178.9 L111.0,1176.9 L113.8,1174.9 L116.6,1172.9 L119.4,1170.9 L122.1,1169.0 L124.9,1167.1 L127.7,1165.3 L130.5,1163.5 L133.2,1161.8 L136.0,1160.1 L138.8,1158.4 L141.6,1156.8 L144.3,1155.3 L147.1,1153.8 L149.9,1152.4 L152.7,1151.0 L155.4,1149.7 L158.2,1148.5 L161.0,1147.3 L163.8,1146.2 L166.5,1145.1 L169.3,1144.1 L172.1,1143.2 L174.9,1142.3 L177.6,1141.5 L180.4,1140.7 L183.2,1140.0 L186.0,1139.3 L188.8,1138.7 L191.5,1138.1 L194.3,1137.5 L197.1,1137.0 L199.9,1136.6 L202.6,1136.1 L205.4,1135.7 L208.2,1135.3 L211.0,1135.0 L213.7,1134.6 L216.5,1134.2 L219.3,1133.9 L222.1,1133.5 L224.8,1133.2 L227.6,1132.8 L230.4,1132.4 L233.2,1132.0 L235.9,1131.5 L238.7,1131.0 L241.5,1130.4 L244.3,1129.8 L247.0,1129.1 L249.8,1128.4 L252.6,1127.5" fill="none" stroke="#ED1C24" stroke-width="4.5" stroke-linejoin="round"/>
<path d="M44.62,1256.9v-2.2M44.62,1024.0v2.2M56.31,1256.9v-2.2M56.31,1024.0v2.2M68.00,1256.9v-4.3M68.00,1024.0v4.3M79.69,1256.9v-2.2M79.69,1024.0v2.2M91.38,1256.9v-2.2M91.38,1024.0v2.2M103.06,1256.9v-2.2M103.06,1024.0v2.2M114.75,1256.9v-4.3M114.75,1024.0v4.3M126.44,1256.9v-2.2M126.44,1024.0v2.2M138.12,1256.9v-2.2M138.12,1024.0v2.2M149.81,1256.9v-2.2M149.81,1024.0v2.2M161.50,1256.9v-4.3M161.50,1024.0v4.3M173.19,1256.9v-2.2M173.19,1024.0v2.2M184.88,1256.9v-2.2M184.88,1024.0v2.2M196.56,1256.9v-2.2M196.56,1024.0v2.2M208.25,1256.9v-4.3M208.25,1024.0v4.3M219.94,1256.9v-2.2M219.94,1024.0v2.2M231.62,1256.9v-2.2M231.62,1024.0v2.2M243.31,1256.9v-2.2M243.31,1024.0v2.2M255.00,1256.9v-4.3M255.00,1024.0v4.3M32.9,1249.62h4.3M257.3,1249.62h-4.3M32.9,1240.52h2.2M257.3,1240.52h-2.2M32.9,1231.43h2.2M257.3,1231.43h-2.2M32.9,1222.33h2.2M257.3,1222.33h-2.2M32.9,1213.23h4.3M257.3,1213.23h-4.3M32.9,1204.13h2.2M257.3,1204.13h-2.2M32.9,1195.04h2.2M257.3,1195.04h-2.2M32.9,1185.94h2.2M257.3,1185.94h-2.2M32.9,1176.84h4.3M257.3,1176.84h-4.3M32.9,1167.74h2.2M257.3,1167.74h-2.2M32.9,1158.65h2.2M257.3,1158.65h-2.2M32.9,1149.55h2.2M257.3,1149.55h-2.2M32.9,1140.45h4.3M257.3,1140.45h-4.3M32.9,1131.35h2.2M257.3,1131.35h-2.2M32.9,1122.25h2.2M257.3,1122.25h-2.2M32.9,1113.16h2.2M257.3,1113.16h-2.2M32.9,1104.06h4.3M257.3,1104.06h-4.3M32.9,1094.96h2.2M257.3,1094.96h-2.2M32.9,1085.86h2.2M257.3,1085.86h-2.2M32.9,1076.77h2.2M257.3,1076.77h-2.2M32.9,1067.67h4.3M257.3,1067.67h-4.3M32.9,1058.57h2.2M257.3,1058.57h-2.2M32.9,1049.47h2.2M257.3,1049.47h-2.2M32.9,1040.38h2.2M257.3,1040.38h-2.2M32.9,1031.28h4.3M257.3,1031.28h-4.3" stroke="#000" stroke-width="1.3" fill="none"/>
<rect x="32.9" y="1024.0" width="224.4" height="232.9" fill="none" stroke="#000" stroke-width="1.75" stroke-linejoin="round"/>
<text font-size="18.5" fill="#000"><tspan x="6.32" y="1256.6" textLength="6.74" lengthAdjust="spacingAndGlyphs">−</tspan><tspan x="13.11" y="1256.6" textLength="10.68" lengthAdjust="spacingAndGlyphs">5</tspan></text>
<text x="13.11" y="1220.2" font-size="18.5" textLength="10.68" lengthAdjust="spacingAndGlyphs" fill="#000">0</text>
<text x="13.11" y="1183.8" font-size="18.5" textLength="10.68" lengthAdjust="spacingAndGlyphs" fill="#000">5</text>
<text x="2.46" y="1147.5" font-size="18.5" textLength="21.36" lengthAdjust="spacingAndGlyphs" fill="#000">10</text>
<text x="2.46" y="1111.1" font-size="18.5" textLength="21.36" lengthAdjust="spacingAndGlyphs" fill="#000">15</text>
<text x="2.46" y="1074.7" font-size="18.5" textLength="21.36" lengthAdjust="spacingAndGlyphs" fill="#000">20</text>
<text x="-1.11" y="1038.3" font-size="19.4" textLength="27.20" lengthAdjust="spacingAndGlyphs" fill="#000">DU</text>
<text x="39.57" y="1048.2" font-size="19.4" textLength="129.52" lengthAdjust="spacingAndGlyphs" fill="#000">(E) 90°S-30°S</text>
</g>
<g transform="translate(0.3,0)">
<rect x="270.6" y="1024.0" width="219.4" height="232.9" fill="#FAA61A"/>
<path d="M270.8,1030.9 L272.6,1030.9 L274.5,1031.0 L276.3,1031.0 L278.2,1031.1 L280.0,1031.2 L281.9,1031.3 L283.7,1031.4 L285.5,1031.5 L287.4,1031.6 L289.2,1031.7 L291.1,1031.8 L292.9,1031.9 L294.7,1032.1 L296.6,1032.2 L298.4,1032.4 L300.3,1032.6 L302.1,1032.7 L304.0,1032.9 L305.8,1033.1 L307.6,1033.3 L309.5,1033.5 L311.3,1033.7 L313.2,1033.9 L315.0,1034.2 L316.9,1034.5 L318.7,1034.7 L320.5,1035.0 L322.4,1035.3 L324.2,1035.5 L326.1,1035.8 L327.9,1036.0 L329.7,1036.2 L331.6,1036.4 L333.4,1036.6 L335.3,1036.8 L337.1,1036.9 L339.0,1037.1 L340.8,1037.2 L342.6,1037.3 L344.5,1037.4 L346.3,1037.4 L348.2,1037.4 L350.0,1037.4 L351.8,1037.4 L353.7,1037.4 L355.5,1037.4 L357.4,1037.4 L359.2,1037.4 L361.1,1037.3 L362.9,1037.2 L364.7,1037.1 L366.6,1036.9 L368.4,1036.7 L370.3,1036.5 L372.1,1036.2 L374.0,1035.9 L375.8,1035.5 L377.6,1035.1 L379.5,1034.7 L381.3,1034.3 L383.2,1034.0 L385.0,1033.6 L386.8,1033.3 L388.7,1032.9 L390.5,1032.6 L392.4,1032.4 L394.2,1032.2 L396.1,1032.0 L397.9,1031.8 L399.7,1031.7 L401.6,1031.5 L403.4,1031.4 L405.3,1031.2 L407.1,1031.1 L409.0,1030.9 L410.8,1030.8 L412.6,1030.7 L414.5,1030.5 L416.3,1030.4 L418.2,1030.3 L420.0,1030.2 L421.8,1030.0 L423.7,1029.9 L425.5,1029.8 L427.4,1029.7 L429.2,1029.6 L431.1,1029.5 L432.9,1029.4 L434.7,1029.3 L436.6,1029.2 L438.4,1029.2 L440.3,1029.1 L442.1,1029.0 L443.9,1028.9 L445.8,1028.9 L447.6,1028.8 L449.5,1028.8 L451.3,1028.8 L453.2,1028.7 L455.0,1028.7 L456.8,1028.7 L458.7,1028.7 L460.5,1028.7 L462.4,1028.6 L464.2,1028.6 L466.1,1028.6 L467.9,1028.6 L469.7,1028.6 L471.6,1028.6 L473.4,1028.6 L475.3,1028.6 L477.1,1028.6 L478.9,1028.7 L480.8,1028.7 L482.6,1028.8 L484.5,1028.9 L486.3,1028.9 L488.2,1029.0 L490.0,1029.1 L490.0,1256.9 L270.6,1256.9 Z" fill="#0F8242" stroke="#000" stroke-width="1.7" stroke-linejoin="round"/>
<path d="M270.8,1031.6 L272.6,1031.6 L274.5,1031.7 L276.3,1031.9 L278.2,1032.0 L280.0,1032.2 L281.9,1032.4 L283.7,1032.7 L285.5,1033.1 L287.4,1033.5 L289.2,1034.0 L291.1,1034.5 L292.9,1035.2 L294.7,1035.9 L296.6,1036.7 L298.4,1037.7 L300.3,1038.7 L302.1,1039.9 L304.0,1041.2 L305.8,1042.5 L307.6,1043.9 L309.5,1045.3 L311.3,1046.9 L313.2,1048.7 L315.0,1050.5 L316.9,1052.5 L318.7,1054.7 L320.5,1057.0 L322.4,1059.4 L324.2,1061.9 L326.1,1064.5 L327.9,1067.3 L329.7,1070.4 L331.6,1073.7 L333.4,1077.2 L335.3,1080.7 L337.1,1084.3 L339.0,1088.0 L340.8,1091.9 L342.6,1095.8 L344.5,1099.9 L346.3,1104.1 L348.2,1108.5 L350.0,1113.1 L351.8,1117.7 L353.7,1122.3 L355.5,1126.9 L357.4,1131.5 L359.2,1136.0 L361.1,1140.6 L362.9,1145.1 L364.7,1149.6 L366.6,1154.1 L368.4,1158.6 L370.3,1163.0 L372.1,1167.5 L374.0,1171.8 L375.8,1176.1 L377.6,1180.3 L379.5,1184.4 L381.3,1187.9 L383.2,1191.2 L385.0,1194.2 L386.8,1197.0 L388.7,1199.6 L390.5,1202.1 L392.4,1204.4 L394.2,1206.5 L396.1,1208.5 L397.9,1210.4 L399.7,1212.3 L401.6,1214.0 L403.4,1215.6 L405.3,1217.0 L407.1,1218.4 L409.0,1219.6 L410.8,1220.8 L412.6,1221.9 L414.5,1222.8 L416.3,1223.7 L418.2,1224.4 L420.0,1225.1 L421.8,1225.8 L423.7,1226.3 L425.5,1226.9 L427.4,1227.4 L429.2,1227.9 L431.1,1228.4 L432.9,1228.8 L434.7,1229.2 L436.6,1229.7 L438.4,1230.1 L440.3,1230.4 L442.1,1230.8 L443.9,1231.1 L445.8,1231.5 L447.6,1231.8 L449.5,1232.3 L451.3,1232.7 L453.2,1233.2 L455.0,1233.8 L456.8,1234.3 L458.7,1234.9 L460.5,1235.5 L462.4,1236.2 L464.2,1236.9 L466.1,1237.6 L467.9,1238.4 L469.7,1239.1 L471.6,1239.9 L473.4,1240.7 L475.3,1241.5 L477.1,1242.4 L478.9,1243.2 L480.8,1243.9 L482.6,1244.6 L484.5,1245.1 L486.3,1245.4 L488.2,1245.8 L490.0,1246.0 L490.0,1256.9 L270.6,1256.9 Z" fill="#3B54A5" stroke="#000" stroke-width="1.7" stroke-linejoin="round"/>
<line x1="490.4" y1="1024.0" x2="490.4" y2="1256.9" stroke="#000" stroke-width="0.9"/>
<path d="M282.62,1256.9v-2.2M282.62,1024.0v2.2M294.31,1256.9v-2.2M294.31,1024.0v2.2M306.00,1256.9v-4.3M306.00,1024.0v4.3M317.69,1256.9v-2.2M317.69,1024.0v2.2M329.38,1256.9v-2.2M329.38,1024.0v2.2M341.06,1256.9v-2.2M341.06,1024.0v2.2M352.75,1256.9v-4.3M352.75,1024.0v4.3M364.44,1256.9v-2.2M364.44,1024.0v2.2M376.12,1256.9v-2.2M376.12,1024.0v2.2M387.81,1256.9v-2.2M387.81,1024.0v2.2M399.50,1256.9v-4.3M399.50,1024.0v4.3M411.19,1256.9v-2.2M411.19,1024.0v2.2M422.88,1256.9v-2.2M422.88,1024.0v2.2M434.56,1256.9v-2.2M434.56,1024.0v2.2M446.25,1256.9v-4.3M446.25,1024.0v4.3M457.94,1256.9v-2.2M457.94,1024.0v2.2M469.62,1256.9v-2.2M469.62,1024.0v2.2M481.31,1256.9v-2.2M481.31,1024.0v2.2M493.00,1256.9v-4.3M493.00,1024.0v4.3M270.6,1256.90h4.3M495.2,1256.90h-4.3M270.6,1245.26h2.2M495.2,1245.26h-2.2M270.6,1233.61h2.2M495.2,1233.61h-2.2M270.6,1221.97h2.2M495.2,1221.97h-2.2M270.6,1210.32h4.3M495.2,1210.32h-4.3M270.6,1198.68h2.2M495.2,1198.68h-2.2M270.6,1187.03h2.2M495.2,1187.03h-2.2M270.6,1175.38h2.2M495.2,1175.38h-2.2M270.6,1163.74h4.3M495.2,1163.74h-4.3M270.6,1152.10h2.2M495.2,1152.10h-2.2M270.6,1140.45h2.2M495.2,1140.45h-2.2M270.6,1128.81h2.2M495.2,1128.81h-2.2M270.6,1117.16h4.3M495.2,1117.16h-4.3M270.6,1105.52h2.2M495.2,1105.52h-2.2M270.6,1093.87h2.2M495.2,1093.87h-2.2M270.6,1082.22h2.2M495.2,1082.22h-2.2M270.6,1070.58h4.3M495.2,1070.58h-4.3M270.6,1058.93h2.2M495.2,1058.93h-2.2M270.6,1047.29h2.2M495.2,1047.29h-2.2M270.6,1035.64h2.2M495.2,1035.64h-2.2M270.6,1024.00h4.3M495.2,1024.00h-4.3" stroke="#000" stroke-width="1.3" fill="none"/>
<rect x="270.6" y="1024.0" width="224.6" height="232.9" fill="none" stroke="#000" stroke-width="1.75" stroke-linejoin="round"/>
<text x="500.23" y="1264.9" font-size="18.3" textLength="10.68" lengthAdjust="spacingAndGlyphs" fill="#000">0</text>
<text x="500.04" y="1218.3" font-size="18.3" textLength="21.36" lengthAdjust="spacingAndGlyphs" fill="#000">20</text>
<text x="500.52" y="1171.7" font-size="18.3" textLength="21.36" lengthAdjust="spacingAndGlyphs" fill="#000">40</text>
<text x="500.04" y="1125.2" font-size="18.3" textLength="21.36" lengthAdjust="spacingAndGlyphs" fill="#000">60</text>
<text x="500.14" y="1078.6" font-size="18.3" textLength="21.36" lengthAdjust="spacingAndGlyphs" fill="#000">80</text>
<text x="499.6" y="1031.4" font-size="16.8" fill="#000">%</text>
</g>
<text x="210.34" y="246.0" font-size="16.6" textLength="40.63" lengthAdjust="spacingAndGlyphs" fill="#ED1C24">rcp85</text>
<text x="210.34" y="261.7" font-size="16.6" textLength="40.63" lengthAdjust="spacingAndGlyphs" fill="#8DBDE6">rcp45</text>
<text x="210.34" y="277.4" font-size="16.6" textLength="40.72" lengthAdjust="spacingAndGlyphs" fill="#2E4EA3">rcp26</text>
<text x="48.06" y="1277.8" font-size="18.3" textLength="41.68" lengthAdjust="spacingAndGlyphs" fill="#000">2020</text>
<text x="94.81" y="1277.8" font-size="18.3" textLength="41.68" lengthAdjust="spacingAndGlyphs" fill="#000">2040</text>
<text x="141.56" y="1277.8" font-size="18.3" textLength="41.68" lengthAdjust="spacingAndGlyphs" fill="#000">2060</text>
<text x="188.31" y="1277.8" font-size="18.3" textLength="41.68" lengthAdjust="spacingAndGlyphs" fill="#000">2080</text>
<text x="235.06" y="1277.8" font-size="18.3" textLength="41.68" lengthAdjust="spacingAndGlyphs" fill="#000">2100</text>
<text x="286.06" y="1277.8" font-size="18.3" textLength="41.68" lengthAdjust="spacingAndGlyphs" fill="#000">2020</text>
<text x="332.81" y="1277.8" font-size="18.3" textLength="41.68" lengthAdjust="spacingAndGlyphs" fill="#000">2040</text>
<text x="379.56" y="1277.8" font-size="18.3" textLength="41.68" lengthAdjust="spacingAndGlyphs" fill="#000">2060</text>
<text x="426.31" y="1277.8" font-size="18.3" textLength="41.68" lengthAdjust="spacingAndGlyphs" fill="#000">2080</text>
<text x="146" y="1297.4" font-size="18.5" text-anchor="middle" fill="#000">year</text>
<text x="383.4" y="1297.4" font-size="18.5" text-anchor="middle" fill="#000">year</text>
</svg>
</body></html>
